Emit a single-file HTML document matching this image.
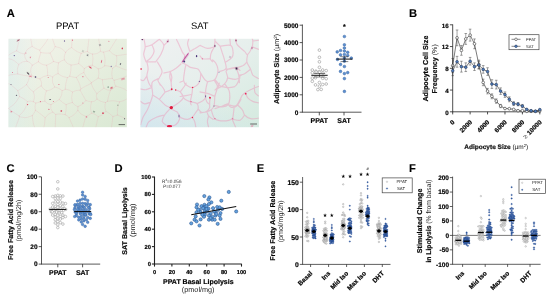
<!DOCTYPE html>
<html lang="en"><head><meta charset="utf-8"><title>Figure</title>
<style>html,body{margin:0;padding:0;background:#fff;}body{width:550px;height:302px;overflow:hidden;}svg{display:block;}</style>
</head><body>
<svg width="550" height="302" viewBox="0 0 550 302" font-family='"Liberation Sans", Arial, Helvetica, sans-serif' text-rendering="geometricPrecision">
<defs><filter id="blur" x="-5%" y="-5%" width="110%" height="110%"><feGaussianBlur stdDeviation="0.35"/></filter><filter id="blur3" x="-5%" y="-5%" width="110%" height="110%"><feGaussianBlur stdDeviation="0.5"/></filter><filter id="blur4" x="-5%" y="-5%" width="110%" height="110%"><feGaussianBlur stdDeviation="0.65"/></filter><filter id="blur5" x="-5%" y="-5%" width="110%" height="110%"><feGaussianBlur stdDeviation="0.55"/></filter><filter id="blur2" x="-50%" y="-50%" width="200%" height="200%"><feGaussianBlur stdDeviation="0.3"/></filter></defs>
<rect width="550" height="302" fill="#fff"/>
<text x="6.80" y="17.10" font-size="11.2" font-weight="700" fill="#000" stroke="#000" stroke-width="0.12">A</text>
<text x="409.10" y="16.60" font-size="11.2" font-weight="700" fill="#000" stroke="#000" stroke-width="0.12">B</text>
<text x="6.50" y="171.50" font-size="11.2" font-weight="700" fill="#000" stroke="#000" stroke-width="0.12">C</text>
<text x="114.60" y="171.80" font-size="11.2" font-weight="700" fill="#000" stroke="#000" stroke-width="0.12">D</text>
<text x="256.70" y="171.80" font-size="11.2" font-weight="700" fill="#000" stroke="#000" stroke-width="0.12">E</text>
<text x="408.90" y="171.80" font-size="11.2" font-weight="700" fill="#000" stroke="#000" stroke-width="0.12">F</text>
<text x="67.60" y="29.30" font-size="9.4" text-anchor="middle">PPAT</text>
<text x="199.70" y="29.30" font-size="9.4" text-anchor="middle">SAT</text>
<defs><linearGradient id="g1" x1="0" y1="0" x2="1" y2="1"><stop offset="0" stop-color="#f4f3eb"/><stop offset="0.45" stop-color="#e9efe1"/><stop offset="1" stop-color="#d9e8d3"/></linearGradient><linearGradient id="g1b" x1="0" y1="0" x2="1" y2="0"><stop offset="0" stop-color="#d8ecec" stop-opacity="0.55"/><stop offset="0.25" stop-color="#d8ecec" stop-opacity="0"/></linearGradient><clipPath id="c1"><rect x="8.5" y="38.8" width="118.3" height="88.4"/></clipPath></defs>
<rect x="8.5" y="38.8" width="118.3" height="88.4" fill="url(#g1)"/>
<rect x="8.5" y="38.8" width="118.3" height="88.4" fill="url(#g1b)"/>
<g clip-path="url(#c1)">
<path d="M-41.1 135.1C-36.2 137.9 -19.6 144.3 -11.4 151.7C-3.2 159.1 4.8 174.9 8.1 179.5M171.4 135.1C168.6 139.8 161.6 155.3 154.3 163.1C146.9 170.9 131.7 178.6 127.2 181.8M127.2 -13.2C127.6 -12.6 128.5 -11.1 129.2 -10.1C129.9 -9.2 131.2 -7.9 131.6 -7.5M170.1 30.9C167.6 27.0 161.5 13.8 155.1 7.4C148.7 1.0 135.6 -5.0 131.6 -7.5M76.3 77.5C76.8 77.0 78.5 75.4 79.7 74.6C81.0 73.7 83.1 72.8 83.8 72.5M84.3 68.6C84.3 68.9 84.2 69.9 84.1 70.6C84.0 71.2 83.8 72.2 83.8 72.5M84.3 68.6C83.9 68.2 82.6 66.8 81.7 66.0C80.7 65.1 79.2 64.0 78.7 63.6M78.7 63.6C78.1 63.8 76.2 64.4 74.9 64.6C73.6 64.9 71.6 64.9 71.0 65.0M76.3 77.5C75.7 77.4 74.0 77.3 72.9 77.0C71.8 76.8 70.2 76.3 69.7 76.1M71.0 65.0C71.0 65.9 71.1 68.8 70.8 70.6C70.6 72.5 69.9 75.2 69.7 76.1M-41.4 30.9C-37.5 26.9 -26.3 14.2 -18.1 6.6C-9.8 -0.9 3.7 -11.0 8.1 -14.5M-41.1 135.1C-39.6 132.9 -35.0 126.4 -32.3 121.8C-29.6 117.3 -26.1 110.1 -24.8 107.8M-41.4 30.9C-39.4 33.5 -33.0 41.0 -29.6 46.6C-26.1 52.1 -22.4 61.2 -20.9 64.2M-20.9 64.2C-20.6 65.3 -19.5 68.6 -18.9 70.9C-18.4 73.2 -17.9 76.7 -17.8 77.8M-17.8 77.8C-18.7 80.2 -22.1 87.3 -23.2 92.3C-24.4 97.3 -24.5 105.2 -24.8 107.8M100.6 51.2C100.0 51.6 98.2 53.1 96.9 53.6C95.5 54.1 93.3 54.0 92.5 54.1M100.6 51.2C100.0 47.6 98.4 36.5 97.0 29.2C95.6 21.9 92.8 11.1 92.0 7.4M92.0 7.4C91.6 7.5 90.4 7.7 89.6 8.0C88.9 8.3 87.9 9.0 87.5 9.1M87.5 9.1C87.8 12.7 89.4 23.3 89.4 30.4C89.4 37.5 87.7 48.1 87.4 51.6M92.5 54.1C92.1 54.0 90.6 53.6 89.8 53.2C88.9 52.8 87.8 51.9 87.4 51.6M109.4 50.7C111.9 46.1 121.0 32.9 124.7 23.2C128.5 13.5 130.5 -2.4 131.6 -7.5M127.2 -13.2C124.5 -11.1 116.8 -4.1 110.9 -0.7C105.0 2.8 95.1 6.1 92.0 7.4M103.6 52.2C103.3 52.2 102.5 52.1 102.0 52.0C101.5 51.8 100.8 51.4 100.6 51.2M103.6 52.2C104.1 52.1 105.5 51.6 106.5 51.4C107.4 51.1 108.9 50.8 109.4 50.7M92.3 65.2C92.4 64.3 92.9 61.5 92.9 59.7C93.0 57.8 92.6 55.0 92.5 54.1M84.3 68.6C84.9 68.2 86.7 66.7 88.0 66.2C89.3 65.6 91.6 65.4 92.3 65.2M78.7 63.6C78.9 62.7 79.1 60.1 79.5 58.4C79.9 56.7 80.9 54.2 81.2 53.3M81.2 53.3C81.7 53.2 83.2 52.5 84.2 52.2C85.2 51.9 86.9 51.7 87.4 51.6M109.4 50.7C109.9 51.2 111.4 53.0 112.6 53.8C113.8 54.6 115.9 55.4 116.6 55.8M170.1 30.9C169.9 31.3 169.3 32.7 168.8 33.6C168.4 34.5 167.6 35.8 167.4 36.2M116.6 55.8C121.1 54.8 135.2 53.6 143.7 50.3C152.1 47.0 163.4 38.5 167.4 36.2M154.3 95.0C154.1 93.0 152.7 87.0 152.9 83.0C153.0 79.0 154.8 73.1 155.2 71.1M154.3 95.0C155.9 98.1 161.1 107.1 163.8 113.4C166.5 119.8 169.2 129.8 170.3 133.1M171.4 135.1C171.4 134.9 171.1 134.4 170.9 134.1C170.8 133.7 170.4 133.3 170.3 133.1M155.2 71.1C156.8 68.4 162.5 60.6 164.5 54.8C166.5 49.0 166.9 39.3 167.4 36.2M92.3 65.2C92.8 65.5 94.3 66.4 95.4 67.0C96.4 67.6 97.8 68.6 98.3 68.9M103.6 52.2C103.8 53.3 104.8 56.7 105.0 58.9C105.2 61.2 104.7 64.6 104.7 65.8M104.7 65.8C104.2 66.1 102.8 67.4 101.8 67.9C100.7 68.4 98.9 68.7 98.3 68.9M80.1 90.2C80.6 91.0 82.0 93.6 82.9 95.4C83.9 97.1 85.4 99.6 85.9 100.5M72.6 92.1C73.2 91.8 75.0 90.9 76.2 90.6C77.5 90.2 79.5 90.2 80.1 90.2M72.6 92.1C72.4 92.9 71.8 95.6 71.7 97.3C71.7 99.0 72.3 101.7 72.4 102.5M72.4 102.5C72.8 102.9 74.0 104.4 74.9 105.1C75.8 105.7 77.5 106.4 78.0 106.7M85.9 100.5C85.3 101.1 83.7 103.2 82.4 104.2C81.1 105.2 78.7 106.3 78.0 106.7M66.1 104.7C66.1 105.5 66.3 108.1 66.1 109.7C66.0 111.4 65.3 113.9 65.1 114.7M69.1 117.7C68.8 117.4 68.0 116.4 67.3 115.9C66.7 115.4 65.5 114.9 65.1 114.7M72.4 102.5C71.9 102.7 70.3 103.0 69.2 103.4C68.2 103.7 66.6 104.5 66.1 104.7M69.1 117.7C69.9 117.2 72.6 115.9 74.0 114.7C75.5 113.4 77.2 111.1 77.9 110.3M77.9 110.3C77.9 110.0 77.8 109.1 77.8 108.5C77.8 107.9 78.0 107.0 78.0 106.7M80.1 90.2C80.2 90.0 80.3 89.7 80.4 89.5C80.5 89.2 80.8 89.0 80.9 88.9M76.3 77.5C76.7 78.4 78.4 81.1 79.1 83.0C79.9 84.9 80.6 87.9 80.9 88.9M72.6 92.1C72.0 91.8 70.3 90.6 69.1 90.1C67.9 89.6 65.9 89.3 65.3 89.2M69.7 76.1C69.5 76.2 69.0 76.7 68.6 77.0C68.2 77.2 67.6 77.5 67.4 77.6M65.3 89.2C65.4 88.2 65.6 85.2 65.9 83.3C66.3 81.4 67.1 78.6 67.4 77.6M29.8 76.2C29.6 76.9 28.9 79.1 28.4 80.5C27.9 81.9 26.9 83.9 26.6 84.6M29.8 76.2C28.8 76.0 25.8 75.7 23.7 75.3C21.7 74.9 18.7 74.2 17.7 73.9M26.6 84.6C25.9 85.1 23.8 86.8 22.3 87.8C20.9 88.9 18.6 90.2 17.8 90.7M17.7 73.9C16.1 74.2 11.1 74.4 8.2 75.5C5.2 76.6 1.4 79.7 -0.0 80.6M-0.0 80.6C1.6 81.2 6.8 82.5 9.7 84.2C12.7 85.9 16.5 89.6 17.8 90.7M18.8 64.5C19.4 64.0 21.2 62.4 22.6 61.9C24.0 61.4 26.3 61.4 27.1 61.3M32.2 65.3C31.9 64.9 30.9 63.4 30.1 62.7C29.2 62.1 27.6 61.5 27.1 61.3M18.8 64.5C18.6 65.2 17.6 67.5 17.4 69.1C17.2 70.7 17.7 73.1 17.7 73.9M32.2 65.3C32.0 66.1 30.8 68.5 30.7 70.1C30.6 71.7 31.3 74.2 31.4 75.1M31.4 75.1C31.3 75.2 30.9 75.5 30.7 75.7C30.4 75.8 30.0 76.1 29.8 76.2M18.8 64.5C17.8 63.7 14.9 60.9 12.6 59.8C10.3 58.8 6.3 58.4 5.1 58.2M-20.9 64.2C-18.7 64.1 -11.6 64.8 -7.3 63.8C-3.0 62.8 3.0 59.1 5.1 58.2M-17.8 77.8C-16.2 77.8 -11.7 77.6 -8.7 78.0C-5.7 78.5 -1.5 80.2 -0.0 80.6M65.1 114.7C64.3 114.6 62.0 114.0 60.4 114.0C58.9 113.9 56.5 114.3 55.7 114.4M76.7 153.1C76.6 150.0 77.0 140.7 75.8 134.8C74.5 128.9 70.2 120.6 69.1 117.7M76.7 153.1C74.9 153.1 69.3 153.0 65.6 153.4C61.9 153.8 56.5 155.1 54.7 155.5M55.7 114.4C55.6 117.8 55.2 128.1 55.0 134.9C54.8 141.8 54.7 152.0 54.7 155.5M116.6 55.8C116.6 56.6 116.9 59.2 116.8 60.9C116.7 62.6 116.1 65.1 115.9 65.9M155.2 71.1C153.6 71.2 148.6 71.8 145.4 71.7C142.1 71.7 137.2 71.0 135.5 70.8M135.5 70.8C133.8 70.6 128.7 70.5 125.4 69.7C122.1 68.8 117.5 66.5 115.9 65.9M104.7 65.8C105.4 65.8 107.6 65.8 108.9 66.2C110.3 66.6 112.1 67.9 112.7 68.3M115.9 65.9C115.6 66.1 114.8 66.6 114.2 67.0C113.7 67.4 112.9 68.1 112.7 68.3M135.5 70.8C133.8 71.8 128.9 75.1 125.4 76.7C121.8 78.3 116.1 79.7 114.2 80.3M112.7 68.3C112.5 69.1 111.8 71.6 111.8 73.3C111.7 74.9 112.3 77.4 112.4 78.3M114.2 80.3C114.0 80.2 113.4 79.8 113.1 79.5C112.8 79.2 112.5 78.5 112.4 78.3M131.5 95.1C130.3 94.1 127.2 90.6 124.6 89.2C122.0 87.7 117.4 86.7 115.9 86.2M154.3 95.0C152.4 94.8 146.7 94.0 142.9 94.0C139.1 94.0 133.4 94.9 131.5 95.1M114.2 80.3C114.3 80.9 114.2 82.5 114.5 83.4C114.7 84.4 115.7 85.7 115.9 86.2M76.7 153.1C76.8 153.1 77.1 153.2 77.2 153.2C77.4 153.3 77.7 153.2 77.7 153.2M77.9 110.3C78.4 111.0 79.9 113.1 81.2 114.1C82.6 115.0 85.0 115.9 85.8 116.3M85.8 116.3C85.0 119.3 82.4 128.4 81.1 134.6C79.7 140.8 78.3 150.1 77.7 153.2M71.0 65.0C70.3 64.7 68.2 64.1 67.1 63.2C66.0 62.3 64.8 60.4 64.4 59.8M64.4 59.8C63.9 60.0 62.3 60.5 61.3 61.0C60.4 61.6 59.1 62.6 58.6 62.9M67.4 77.6C66.6 77.4 64.0 77.0 62.4 76.3C60.9 75.7 58.8 74.1 58.1 73.6M58.1 73.6C58.1 72.7 57.8 70.0 57.9 68.2C57.9 66.5 58.5 63.8 58.6 62.9M46.6 65.2C47.2 64.9 49.1 64.2 50.2 63.6C51.4 63.0 53.0 61.9 53.6 61.5M53.6 61.5C53.3 60.8 52.5 58.7 51.9 57.3C51.3 55.9 50.4 53.8 50.1 53.1M38.4 61.7C38.6 60.9 39.0 58.6 39.4 57.1C39.9 55.6 40.6 53.3 40.8 52.6M38.4 61.7C39.0 62.1 40.8 63.7 42.2 64.3C43.5 64.9 45.9 65.0 46.6 65.2M40.8 52.6C41.6 52.7 43.9 53.0 45.5 53.1C47.0 53.2 49.3 53.1 50.1 53.1M66.1 104.7C65.5 104.3 63.7 103.2 62.5 102.3C61.4 101.5 59.9 99.9 59.3 99.5M65.3 89.2C65.0 89.3 64.3 89.8 63.8 90.1C63.3 90.3 62.4 90.5 62.1 90.6M59.3 99.5C59.7 98.8 61.0 96.7 61.5 95.3C62.0 93.8 62.0 91.4 62.1 90.6M32.2 65.3C32.7 65.0 34.3 64.1 35.3 63.5C36.3 62.9 37.9 62.0 38.4 61.7M31.4 75.1C32.1 75.5 34.0 76.9 35.4 77.6C36.8 78.2 39.2 78.7 39.9 78.9M46.6 65.2C46.8 66.0 47.3 68.6 47.5 70.3C47.6 72.0 47.5 74.6 47.6 75.5M39.9 78.9C40.5 78.5 42.2 77.2 43.5 76.6C44.8 76.1 46.9 75.7 47.6 75.5M58.6 62.9C58.2 62.8 57.0 62.4 56.1 62.2C55.3 62.0 54.0 61.7 53.6 61.5M58.1 73.6C57.6 73.8 56.0 74.3 55.1 74.9C54.2 75.4 53.0 76.6 52.6 77.0M47.6 75.5C48.0 75.5 49.3 75.6 50.2 75.8C51.0 76.1 52.2 76.8 52.6 77.0M62.1 90.6C61.5 90.2 59.9 88.9 58.7 88.3C57.4 87.7 55.4 87.2 54.7 87.0M52.6 77.0C52.6 77.9 52.3 80.5 52.6 82.2C53.0 83.9 54.4 86.2 54.7 87.0M16.6 50.8C17.3 51.2 19.1 52.5 20.4 53.0C21.8 53.5 24.0 53.8 24.7 54.0M16.6 50.8C17.5 46.2 21.6 32.1 21.8 22.7C22.1 13.3 18.9 -0.9 18.3 -5.6M24.7 54.0C25.2 53.2 26.3 50.6 27.5 49.4C28.8 48.1 31.3 47.0 32.1 46.5M32.1 46.5C31.3 42.1 29.4 29.0 27.3 20.4C25.2 11.8 20.7 -0.7 19.4 -4.9M19.4 -4.9C19.3 -5.0 19.1 -5.2 18.9 -5.4C18.7 -5.5 18.4 -5.6 18.3 -5.6M27.1 61.3C26.8 60.7 25.5 59.1 25.1 57.9C24.7 56.7 24.8 54.7 24.7 54.0M5.1 58.2C6.0 57.4 8.5 55.1 10.4 53.9C12.4 52.6 15.6 51.3 16.6 50.8M8.1 -14.5C9.0 -13.9 12.0 -12.1 13.7 -10.6C15.4 -9.1 17.5 -6.4 18.3 -5.6M39.7 50.2C39.8 50.4 40.0 51.0 40.2 51.4C40.4 51.8 40.7 52.4 40.8 52.6M39.7 50.2C39.0 49.9 37.1 49.1 35.8 48.5C34.6 47.9 32.7 46.8 32.1 46.5M59.3 99.5C58.6 99.9 56.6 101.2 55.2 102.1C53.8 103.0 51.7 104.2 51.0 104.6M55.7 114.4C55.5 114.2 54.9 113.4 54.3 113.1C53.8 112.7 53.0 112.3 52.7 112.1M52.7 112.1C52.4 111.6 51.2 109.8 50.9 108.6C50.6 107.3 51.0 105.3 51.0 104.6M38.9 159.6C38.5 157.5 36.4 151.3 36.5 147.2C36.6 143.1 38.9 137.0 39.4 135.0M38.9 159.6C37.1 161.1 32.2 166.4 28.2 168.8C24.2 171.1 17.1 172.9 14.9 173.7M39.4 135.0C38.5 133.5 35.3 129.2 34.1 125.9C32.9 122.7 32.6 117.3 32.3 115.6M14.9 173.7C14.3 168.9 10.5 154.2 11.3 144.7C12.1 135.2 18.1 121.4 19.5 116.7M19.5 116.7C20.6 116.9 23.9 117.8 26.0 117.6C28.1 117.4 31.2 115.9 32.3 115.6M52.7 112.1C52.0 112.5 49.7 113.4 48.4 114.3C47.1 115.3 45.6 117.2 45.1 117.8M45.1 117.8C44.9 119.3 44.9 124.1 43.9 126.9C43.0 129.8 40.1 133.6 39.4 135.0M54.7 155.5C53.4 155.8 49.4 156.8 46.8 157.5C44.2 158.2 40.2 159.2 38.9 159.6M103.5 163.0C103.2 162.9 102.5 162.7 102.1 162.4C101.7 162.2 101.1 161.7 100.9 161.6M127.2 181.8C125.1 180.4 118.5 176.6 114.5 173.4C110.6 170.3 105.3 164.8 103.5 163.0M8.1 179.5C8.6 179.0 10.1 177.3 11.3 176.4C12.4 175.4 14.3 174.1 14.9 173.7M77.7 153.2C79.6 154.1 85.2 156.8 89.0 158.2C92.9 159.6 98.9 161.0 100.9 161.6M45.1 117.8C44.3 117.1 42.0 115.1 40.4 113.9C38.9 112.6 36.4 110.9 35.5 110.3M35.5 110.3C35.3 110.8 34.6 112.2 34.1 113.1C33.5 113.9 32.6 115.2 32.3 115.6M19.5 96.5C18.7 97.6 16.7 101.3 14.9 103.3C13.0 105.3 9.5 107.6 8.5 108.5M19.5 96.5C20.2 96.9 22.3 97.9 23.7 98.7C25.0 99.6 26.8 101.1 27.4 101.6M27.4 101.6C27.0 103.0 26.0 107.2 24.6 109.5C23.2 111.9 20.0 114.9 19.1 115.9M8.5 108.5C9.3 109.1 11.9 111.1 13.7 112.4C15.5 113.6 18.2 115.3 19.1 115.9M-24.8 107.8C-22.0 108.1 -13.8 109.7 -8.2 109.9C-2.7 110.0 5.7 108.7 8.5 108.5M17.8 90.7C18.0 91.2 18.5 92.6 18.8 93.5C19.1 94.5 19.3 96.0 19.5 96.5M19.5 116.7C19.5 116.7 19.3 116.5 19.2 116.4C19.2 116.2 19.2 116.0 19.1 115.9M131.5 95.1C130.6 95.8 128.0 98.3 126.1 99.4C124.1 100.6 120.7 101.5 119.6 101.9M115.9 86.2C115.5 86.6 114.2 87.7 113.3 88.4C112.4 89.1 110.9 90.0 110.5 90.3M110.5 90.3C110.2 91.2 109.2 93.9 108.7 95.7C108.2 97.6 107.7 100.4 107.5 101.3M119.6 101.9C118.6 101.7 115.6 100.9 113.6 100.8C111.6 100.7 108.5 101.2 107.5 101.3M170.3 133.1C165.8 131.9 152.2 128.6 143.4 125.6C134.5 122.6 121.8 116.8 117.4 115.0M119.6 101.9C119.3 103.0 117.9 106.1 117.6 108.3C117.2 110.5 117.5 113.9 117.4 115.0M103.5 163.0C104.5 159.2 108.0 147.8 109.5 140.1C111.1 132.3 112.3 120.5 112.9 116.5M117.4 115.0C117.1 115.2 115.9 115.6 115.2 115.9C114.4 116.1 113.2 116.4 112.9 116.5M98.2 78.1C98.6 78.3 99.7 78.6 100.4 78.8C101.1 79.1 102.1 79.7 102.4 79.8M98.2 78.1C97.7 78.5 96.0 79.6 94.8 80.4C93.7 81.1 92.0 82.3 91.4 82.6M102.4 79.8C102.5 80.5 102.6 82.7 102.8 84.0C103.1 85.4 103.8 87.4 104.0 88.1M91.4 82.6C91.4 82.7 91.3 82.9 91.3 83.1C91.2 83.2 91.1 83.4 91.1 83.5M91.1 83.5C91.5 84.3 92.6 87.1 93.5 88.8C94.5 90.5 96.3 92.8 96.9 93.6M96.9 93.6C97.5 93.1 99.2 91.7 100.4 90.8C101.6 89.9 103.4 88.5 104.0 88.1M98.3 68.9C98.4 69.7 98.9 72.0 98.9 73.5C98.8 75.1 98.3 77.4 98.2 78.1M112.4 78.3C111.6 78.4 109.1 78.7 107.4 79.0C105.7 79.2 103.3 79.7 102.4 79.8M83.8 72.5C84.3 73.4 85.8 76.2 87.1 77.9C88.4 79.6 90.7 81.9 91.4 82.6M110.5 90.3C109.9 90.2 108.1 90.2 107.0 89.9C105.9 89.5 104.5 88.4 104.0 88.1M80.9 88.9C81.7 88.4 84.2 86.9 85.9 86.0C87.6 85.1 90.2 83.9 91.1 83.5M71.7 47.6C71.8 44.6 72.0 35.6 72.6 29.7C73.1 23.7 74.4 14.8 74.8 11.8M71.7 47.6C71.1 47.9 69.2 48.7 68.2 49.5C67.2 50.2 66.1 51.9 65.7 52.4M65.7 52.4C64.9 51.7 62.8 49.4 61.1 48.4C59.3 47.4 56.2 46.9 55.2 46.6M55.2 46.6C54.8 45.4 53.5 42.0 52.8 39.6C52.2 37.3 51.5 33.7 51.3 32.5M51.3 32.5C51.7 30.6 53.8 25.1 54.0 21.3C54.2 17.6 52.7 11.9 52.4 10.0M52.4 10.0C54.3 10.4 59.7 12.2 63.5 12.5C67.2 12.8 72.9 11.9 74.8 11.8M81.2 53.3C80.3 53.0 77.7 52.0 76.1 51.0C74.5 50.1 72.4 48.2 71.7 47.6M87.5 9.1C86.5 9.4 83.3 10.1 81.2 10.6C79.0 11.0 75.8 11.6 74.8 11.8M64.4 59.8C64.4 59.2 64.1 57.2 64.3 56.0C64.6 54.7 65.4 53.0 65.7 52.4M50.1 53.1C50.6 52.6 52.3 51.3 53.1 50.2C54.0 49.1 54.9 47.2 55.2 46.6M39.7 50.2C40.7 48.8 44.2 44.7 46.2 41.8C48.1 38.8 50.4 34.0 51.3 32.5M19.4 -4.9C21.9 -3.2 29.0 3.1 34.5 5.6C40.0 8.1 49.4 9.3 52.4 10.0M41.3 85.9C41.7 86.4 42.7 87.9 43.5 88.7C44.3 89.5 45.9 90.5 46.4 90.9M41.3 85.9C40.6 86.3 38.5 87.5 37.2 88.5C35.8 89.5 34.1 91.2 33.5 91.8M46.4 90.9C46.1 91.7 45.3 94.2 45.0 95.9C44.8 97.6 44.9 100.3 44.9 101.1M44.9 101.1C44.1 101.3 41.8 101.6 40.3 102.0C38.8 102.3 36.6 102.9 35.8 103.1M33.5 91.8C33.6 92.6 34.4 95.1 34.4 96.7C34.4 98.4 33.6 100.8 33.4 101.7M33.4 101.7C33.6 101.8 34.2 102.2 34.6 102.4C35.0 102.7 35.6 103.0 35.8 103.1M39.9 78.9C40.2 79.5 41.2 81.1 41.5 82.2C41.7 83.4 41.4 85.3 41.3 85.9M54.7 87.0C54.1 87.4 52.3 89.0 50.9 89.6C49.5 90.3 47.1 90.7 46.4 90.9M26.6 84.6C27.1 85.3 28.4 87.4 29.6 88.6C30.7 89.8 32.8 91.2 33.5 91.8M51.0 104.6C50.4 104.4 48.6 104.1 47.5 103.5C46.5 103.0 45.3 101.5 44.9 101.1M35.5 110.3C35.4 109.7 34.9 107.9 35.0 106.7C35.0 105.5 35.7 103.7 35.8 103.1M27.4 101.6C27.9 101.5 29.4 101.1 30.4 101.1C31.4 101.1 32.9 101.6 33.4 101.7M105.5 102.5C105.4 103.3 104.8 105.5 104.9 107.0C105.0 108.4 105.8 110.6 105.9 111.4M105.5 102.5C104.7 102.3 102.4 102.0 101.0 101.4C99.6 100.8 97.7 99.4 97.0 99.0M97.0 99.0C96.6 99.4 95.5 100.6 94.6 101.1C93.7 101.5 92.1 101.7 91.6 101.8M91.6 101.8C91.4 102.8 90.6 105.6 90.6 107.5C90.5 109.4 91.3 112.2 91.4 113.2M105.9 111.4C105.4 111.9 103.9 113.8 102.6 114.7C101.3 115.6 99.0 116.4 98.2 116.7M98.2 116.7C97.7 116.3 96.3 115.0 95.1 114.4C94.0 113.8 92.0 113.4 91.4 113.2M112.9 116.5C112.3 116.1 110.8 114.5 109.6 113.7C108.5 112.8 106.5 111.7 105.9 111.4M107.5 101.3C107.3 101.4 106.8 101.6 106.4 101.8C106.1 102.0 105.6 102.4 105.5 102.5M96.9 93.6C96.8 94.0 96.3 95.4 96.3 96.3C96.4 97.2 96.9 98.6 97.0 99.0M85.9 100.5C86.4 100.6 87.8 101.1 88.7 101.3C89.7 101.5 91.1 101.8 91.6 101.8M85.8 116.3C86.3 116.1 87.9 115.6 88.8 115.1C89.7 114.6 91.0 113.5 91.4 113.2M100.9 161.6C99.8 157.9 95.0 146.9 94.6 139.4C94.1 132.0 97.6 120.5 98.2 116.7" fill="none" stroke="#e89aac" stroke-width="0.95" stroke-opacity="0.2" stroke-linecap="round" stroke-linejoin="round" filter="url(#blur4)"/>
<ellipse cx="72.5" cy="40.2" rx="0.6" ry="0.6" fill="#e0708a" transform="rotate(0 72.5 40.2)" filter="url(#blur2)"/>
<ellipse cx="100.0" cy="45.1" rx="0.5" ry="1.0" fill="#4a4658" transform="rotate(-30 100.0 45.1)" filter="url(#blur2)"/>
<ellipse cx="82.9" cy="51.1" rx="0.7" ry="0.5" fill="#777" transform="rotate(30 82.9 51.1)" filter="url(#blur2)"/>
<ellipse cx="87.6" cy="55.1" rx="0.9" ry="0.6" fill="#4a4658" transform="rotate(30 87.6 55.1)" filter="url(#blur2)"/>
<ellipse cx="122.3" cy="48.4" rx="0.7" ry="0.9" fill="#d83a58" transform="rotate(0 122.3 48.4)" filter="url(#blur2)"/>
<ellipse cx="101.5" cy="61.5" rx="0.5" ry="1.7" fill="#e0708a" transform="rotate(10 101.5 61.5)" filter="url(#blur2)"/>
<ellipse cx="90.3" cy="67.3" rx="1.8" ry="0.6" fill="#d83a58" transform="rotate(35 90.3 67.3)" filter="url(#blur2)"/>
<ellipse cx="111.2" cy="66.3" rx="0.6" ry="0.6" fill="#6a5a94" transform="rotate(0 111.2 66.3)" filter="url(#blur2)"/>
<ellipse cx="120.4" cy="64.0" rx="0.5" ry="1.0" fill="#4a4658" transform="rotate(15 120.4 64.0)" filter="url(#blur2)"/>
<ellipse cx="123.0" cy="78.9" rx="2.2" ry="0.6" fill="#e0708a" transform="rotate(-15 123.0 78.9)" filter="url(#blur2)"/>
<ellipse cx="82.9" cy="76.7" rx="0.6" ry="0.6" fill="#e0708a" transform="rotate(0 82.9 76.7)" filter="url(#blur2)"/>
<ellipse cx="108.9" cy="41.3" rx="0.5" ry="0.5" fill="#e0708a" transform="rotate(0 108.9 41.3)" filter="url(#blur2)"/>
<ellipse cx="108.2" cy="87.0" rx="0.8" ry="0.6" fill="#5a7a6a" transform="rotate(0 108.2 87.0)" filter="url(#blur2)"/>
<ellipse cx="111.5" cy="87.9" rx="1.5" ry="0.6" fill="#d83a58" transform="rotate(-30 111.5 87.9)" filter="url(#blur2)"/>
<ellipse cx="94.0" cy="111.7" rx="0.9" ry="0.5" fill="#3e5a4e" transform="rotate(30 94.0 111.7)" filter="url(#blur2)"/>
<ellipse cx="103.0" cy="113.2" rx="0.8" ry="0.9" fill="#d83a58" transform="rotate(0 103.0 113.2)" filter="url(#blur2)"/>
<ellipse cx="86.6" cy="116.9" rx="0.7" ry="0.7" fill="#e0708a" transform="rotate(0 86.6 116.9)" filter="url(#blur2)"/>
<ellipse cx="124.5" cy="118.7" rx="0.4" ry="0.8" fill="#4a4658" transform="rotate(0 124.5 118.7)" filter="url(#blur2)"/>
<ellipse cx="117.9" cy="105.3" rx="0.5" ry="0.7" fill="#8a9a8a" transform="rotate(0 117.9 105.3)" filter="url(#blur2)"/>
<ellipse cx="82.9" cy="103.1" rx="0.5" ry="0.5" fill="#e0708a" transform="rotate(0 82.9 103.1)" filter="url(#blur2)"/>
<ellipse cx="18.1" cy="40.2" rx="1.6" ry="0.55" fill="#8a2848" transform="rotate(-35 18.1 40.2)" filter="url(#blur2)"/>
<ellipse cx="64.5" cy="41.0" rx="0.6" ry="0.8" fill="#6a5a94" transform="rotate(0 64.5 41.0)" filter="url(#blur2)"/>
<ellipse cx="14.3" cy="55.6" rx="0.7" ry="0.7" fill="#6a5a94" transform="rotate(0 14.3 55.6)" filter="url(#blur2)"/>
<ellipse cx="25.9" cy="52.9" rx="0.5" ry="0.5" fill="#e0708a" transform="rotate(0 25.9 52.9)" filter="url(#blur2)"/>
<ellipse cx="30.3" cy="57.3" rx="0.5" ry="0.9" fill="#e0708a" transform="rotate(20 30.3 57.3)" filter="url(#blur2)"/>
<ellipse cx="28.1" cy="73.4" rx="1.6" ry="0.6" fill="#3a2a3a" transform="rotate(50 28.1 73.4)" filter="url(#blur2)"/>
<ellipse cx="30.6" cy="76.2" rx="1.6" ry="0.5" fill="#e0708a" transform="rotate(20 30.6 76.2)" filter="url(#blur2)"/>
<ellipse cx="35.5" cy="77.0" rx="0.8" ry="0.7" fill="#3a3060" transform="rotate(0 35.5 77.0)" filter="url(#blur2)"/>
<ellipse cx="12.5" cy="72.5" rx="0.5" ry="0.5" fill="#e0708a" transform="rotate(0 12.5 72.5)" filter="url(#blur2)"/>
<ellipse cx="48.2" cy="77.4" rx="0.5" ry="0.5" fill="#e0708a" transform="rotate(0 48.2 77.4)" filter="url(#blur2)"/>
<ellipse cx="11.0" cy="84.5" rx="0.6" ry="0.5" fill="#778" transform="rotate(0 11.0 84.5)" filter="url(#blur2)"/>
<ellipse cx="58.9" cy="84.5" rx="0.6" ry="0.6" fill="#e0708a" transform="rotate(0 58.9 84.5)" filter="url(#blur2)"/>
<ellipse cx="16.5" cy="95.2" rx="0.7" ry="0.5" fill="#4a4658" transform="rotate(0 16.5 95.2)" filter="url(#blur2)"/>
<ellipse cx="50.1" cy="99.4" rx="0.8" ry="0.5" fill="#4a4658" transform="rotate(0 50.1 99.4)" filter="url(#blur2)"/>
<ellipse cx="40.4" cy="101.6" rx="0.6" ry="0.6" fill="#e0708a" transform="rotate(0 40.4 101.6)" filter="url(#blur2)"/>
<ellipse cx="27.6" cy="104.6" rx="0.6" ry="0.7" fill="#d83a58" transform="rotate(0 27.6 104.6)" filter="url(#blur2)"/>
<ellipse cx="48.9" cy="109.3" rx="0.7" ry="0.6" fill="#e0708a" transform="rotate(0 48.9 109.3)" filter="url(#blur2)"/>
<ellipse cx="61.3" cy="111.0" rx="0.9" ry="0.8" fill="#d83a58" transform="rotate(0 61.3 111.0)" filter="url(#blur2)"/>
<ellipse cx="11.3" cy="111.7" rx="0.9" ry="0.6" fill="#e0708a" transform="rotate(30 11.3 111.7)" filter="url(#blur2)"/>
<ellipse cx="53.4" cy="101.6" rx="0.5" ry="0.5" fill="#e0708a" transform="rotate(0 53.4 101.6)" filter="url(#blur2)"/>
</g>
<line x1="118.60" y1="124.60" x2="125.00" y2="124.60" stroke="#333" stroke-width="0.7"/>
<defs><linearGradient id="g2" x1="0" y1="0" x2="1" y2="1"><stop offset="0" stop-color="#f0f1f2"/><stop offset="0.5" stop-color="#e6efec"/><stop offset="1" stop-color="#d4eadf"/></linearGradient><linearGradient id="g2b" x1="0" y1="1" x2="0.6" y2="0"><stop offset="0" stop-color="#cfe4ee" stop-opacity="0.8"/><stop offset="0.5" stop-color="#cfe4ee" stop-opacity="0"/></linearGradient><clipPath id="c2"><rect x="140.5" y="38.8" width="118.39999999999998" height="88.4"/></clipPath></defs>
<rect x="140.5" y="38.8" width="118.39999999999998" height="88.4" fill="url(#g2)"/>
<rect x="140.5" y="38.8" width="118.39999999999998" height="88.4" fill="url(#g2b)"/>
<g clip-path="url(#c2)">
<path d="M159.3 39.2C160.1 40.2 163.6 42.9 163.8 45.4C164.1 48.0 162.2 51.6 160.8 54.4C159.5 57.1 156.5 60.6 155.6 61.8M168.3 39.5C168.0 40.0 167.5 41.5 166.8 42.5C166.0 43.5 164.3 44.9 163.8 45.4M176.5 39.5C177.0 40.5 178.4 43.3 179.4 45.4C180.4 47.5 181.5 50.5 182.4 52.1C183.3 53.7 184.3 54.6 184.6 55.1M180.9 64.0C180.1 64.8 177.5 67.3 175.7 68.5C174.0 69.7 172.5 70.7 170.5 71.5C168.5 72.2 164.9 72.7 163.8 73.0M170.5 71.5C170.4 72.4 169.6 74.8 169.8 76.7C169.9 78.6 171.0 81.7 171.2 82.6M189.9 51.4C190.7 50.9 193.4 49.4 195.1 48.4C196.7 47.4 199.2 45.9 200.0 45.4M143.7 38.0C144.0 39.5 145.2 44.2 145.2 46.9C145.2 49.7 143.6 51.9 143.7 54.4C143.8 56.8 145.6 60.6 146.0 61.8M145.2 46.9C146.3 46.6 149.5 46.0 151.9 44.7C154.3 43.4 158.1 40.1 159.3 39.2M151.9 44.7C152.3 45.8 154.3 49.3 154.1 51.4C154.0 53.5 152.5 55.6 151.2 57.3C149.8 59.1 146.8 61.1 146.0 61.8M146.0 61.8L155.6 61.8M184.6 55.1L184.6 57.3M189.9 51.4C189.5 50.2 187.7 46.2 187.6 44.0C187.5 41.7 188.9 39.0 189.1 38.0M214.9 38.0C214.9 38.5 215.0 39.5 214.9 41.0C214.8 42.5 214.8 44.9 214.1 46.9C213.5 48.9 211.8 50.9 211.2 52.9C210.5 54.9 210.2 57.3 210.4 58.8C210.7 60.3 212.3 61.3 212.6 61.8M220.1 46.2C220.5 47.3 221.6 50.5 222.3 52.9C223.1 55.2 223.9 57.7 224.6 60.3C225.2 62.9 226.9 66.6 226.0 68.5C225.2 70.4 220.5 71.0 219.3 71.5M235.7 38.0C236.0 39.1 235.7 42.5 237.2 44.7C238.7 46.9 242.9 49.8 244.6 51.4C246.4 53.0 246.4 55.1 247.6 54.4C248.9 53.6 251.2 49.2 252.1 46.9C253.0 44.7 252.8 42.5 252.8 41.0C252.8 39.5 252.2 38.5 252.1 38.0M247.6 54.4C247.5 55.6 246.4 59.3 246.9 61.8C247.4 64.3 249.6 67.0 250.6 69.2C251.6 71.5 251.6 73.7 252.8 75.2C254.1 76.7 256.7 77.6 258.0 78.2C259.4 78.8 260.5 78.8 261.0 78.9M226.0 69.2C227.8 69.0 233.6 68.4 236.5 67.8C239.3 67.1 241.4 66.5 243.2 65.5C244.9 64.5 246.3 62.4 246.9 61.8M220.1 46.2C221.8 46.1 228.3 44.6 230.5 45.4C232.7 46.3 232.8 49.4 233.0 51.4C233.3 53.4 233.2 55.6 232.0 57.3C230.8 59.1 227.0 61.1 226.0 61.8M236.5 68.5C236.8 69.6 238.2 72.8 238.7 75.2C239.2 77.6 239.3 81.4 239.4 82.6M250.6 69.2C249.6 70.0 246.5 72.7 244.6 73.7C242.8 74.7 240.3 75.0 239.4 75.2M200.0 55.9C200.5 56.4 201.2 58.3 203.0 58.8C204.7 59.3 209.2 58.8 210.4 58.8M252.8 41.0L260.0 40.2M252.1 46.9L260.0 49.9M214.9 41.0L220.1 46.2M200.0 45.4C201.2 45.9 205.1 48.2 207.4 48.4C209.8 48.7 213.0 47.2 214.1 46.9M230.5 45.4L229.8 38.0M151.9 83.0C151.9 83.7 151.8 85.5 151.9 87.5C152.0 89.4 152.9 92.4 152.6 94.9C152.4 97.4 151.3 99.9 150.4 102.3C149.5 104.8 148.7 107.3 147.4 109.8C146.2 112.3 144.1 114.7 143.0 117.2C141.9 119.7 141.1 123.4 140.7 124.7M152.6 94.9C153.8 95.6 157.2 97.6 159.3 99.4C161.5 101.1 163.4 104.0 165.3 105.3C167.2 106.7 169.6 107.2 170.5 107.6M159.3 83.0C160.1 84.0 162.8 87.5 163.8 89.0C164.8 90.4 164.1 91.8 165.3 91.9C166.5 92.1 170.3 90.1 171.2 89.7M165.3 91.9L159.3 99.4M171.2 107.6C172.2 106.9 175.2 105.4 177.2 103.8C179.2 102.2 182.7 99.9 183.2 97.9C183.7 95.9 181.4 93.2 180.2 91.9C178.9 90.6 176.5 90.3 175.7 90.0M171.2 107.6C170.1 108.8 166.0 112.6 164.6 115.0C163.1 117.4 161.8 119.8 162.3 121.7C162.8 123.6 166.7 125.4 167.5 126.2M164.6 115.0C163.2 115.4 159.0 116.1 156.4 117.2C153.8 118.3 150.7 120.0 148.9 121.7C147.2 123.4 146.4 126.7 146.0 127.6M177.2 112.0C177.5 112.5 178.6 113.8 179.0 115.0C179.4 116.2 180.0 117.8 179.4 119.5C178.9 121.1 177.2 123.6 175.7 124.7C174.2 125.8 171.4 125.9 170.5 126.2M171.2 109.0L177.2 112.0M140.0 100.9C140.7 101.4 142.7 103.6 144.5 103.8C146.2 104.1 149.4 102.6 150.4 102.3M180.2 91.9C180.9 90.9 183.7 87.5 184.6 86.0C185.6 84.5 185.9 83.5 186.1 83.0M140.0 89.0C141.0 89.1 144.0 89.9 146.0 89.7C147.9 89.4 150.9 87.8 151.9 87.5M219.3 83.0C219.0 84.0 217.9 86.7 217.1 89.0C216.4 91.2 215.4 93.7 214.9 96.4C214.4 99.1 214.8 103.1 214.1 105.3C213.5 107.6 212.5 108.7 211.2 109.8C209.8 110.9 207.8 111.5 206.0 112.0C204.1 112.5 201.0 112.6 200.0 112.8M224.6 83.7C225.3 84.9 228.1 88.1 229.0 90.4C229.9 92.8 229.9 95.5 229.8 97.9C229.6 100.2 229.5 103.1 228.3 104.6C227.0 106.1 224.7 106.7 222.3 106.8C220.0 106.9 215.5 105.6 214.1 105.3M228.3 104.6C229.3 104.8 232.7 106.1 234.2 106.1C235.7 106.1 236.2 105.7 237.2 104.6C238.2 103.5 239.2 101.1 240.2 99.4C241.2 97.6 241.2 95.9 243.2 94.2C245.1 92.4 249.3 90.3 252.1 89.0C254.9 87.6 258.7 86.5 260.0 86.0M234.2 106.1C234.1 107.2 233.9 110.7 233.5 112.8C233.1 114.9 233.6 117.4 232.0 118.7C230.4 120.1 226.7 120.9 223.8 120.9C221.0 120.9 217.0 120.6 214.9 118.7C212.8 116.9 211.8 111.3 211.2 109.8M237.2 104.6C238.1 105.4 241.2 108.0 242.4 109.8C243.7 111.5 243.3 113.5 244.6 115.0C246.0 116.5 248.0 118.2 250.6 118.7C253.1 119.2 258.4 118.1 260.0 118.0M232.0 118.7L235.7 127.6M244.6 115.0C243.9 115.9 242.0 119.5 240.2 120.2C238.3 120.9 234.6 119.6 233.5 119.5M200.0 91.9C201.2 92.2 205.0 92.7 207.4 93.4C209.9 94.2 213.6 95.9 214.9 96.4M182.2 63.0C182.9 63.2 184.6 63.7 186.0 64.5C187.3 65.2 188.4 66.7 190.4 67.4C192.4 68.2 196.1 67.9 197.9 68.9C199.6 69.9 199.7 71.7 200.8 73.4C201.9 75.1 203.4 78.0 204.6 79.3C205.7 80.7 207.0 81.2 207.5 81.6M207.5 81.6C208.6 81.3 212.6 81.2 214.2 80.1C215.8 79.0 216.6 76.7 217.2 74.9C217.8 73.0 218.2 70.9 217.9 68.9C217.7 66.9 216.6 64.5 215.7 63.0C214.8 61.5 213.2 60.5 212.7 60.0M207.5 81.6C207.3 82.7 206.4 85.9 206.0 88.3C205.7 90.6 205.2 93.5 205.3 95.7C205.4 97.9 206.0 100.2 206.8 101.7C207.5 103.2 209.3 104.1 209.8 104.6M214.2 80.1C214.7 81.0 216.6 83.9 217.2 85.3C217.8 86.7 216.7 88.5 217.9 88.3C219.2 88.0 223.0 85.5 224.6 83.8C226.3 82.1 227.4 80.0 227.6 77.9C227.9 75.7 225.9 72.6 226.1 71.2C226.4 69.7 227.5 69.5 229.1 68.9C230.7 68.3 234.0 67.2 235.8 67.4C237.6 67.7 239.3 69.9 240.0 70.4M186.0 64.5C185.7 65.7 184.8 69.2 184.5 71.9C184.1 74.6 183.3 78.6 183.7 80.8C184.1 83.1 185.2 84.2 186.7 85.3C188.2 86.4 190.5 88.0 192.6 87.5C194.8 87.0 198.0 84.7 199.3 82.3C200.7 80.0 200.6 74.9 200.8 73.4M192.6 87.5C192.5 88.6 192.3 91.9 191.9 94.2C191.5 96.6 190.5 99.9 190.4 101.7C190.3 103.5 191.0 104.4 191.2 104.9M180.0 82.3L183.7 80.8M180.0 96.5C181.0 96.3 184.0 96.1 186.0 95.7C187.9 95.3 190.9 94.5 191.9 94.2M227.6 77.9C228.9 78.1 233.0 79.3 235.1 79.3C237.1 79.3 239.2 78.1 240.0 77.9M215.0 79.6C215.8 80.6 218.5 84.3 219.6 85.4C220.8 86.6 220.6 86.2 221.9 86.6C223.3 87.0 226.8 87.5 227.7 87.7M227.7 87.7C228.9 87.5 232.9 87.5 234.7 86.6C236.4 85.6 237.3 83.7 238.1 81.9C239.0 80.2 239.3 77.3 239.9 76.2C240.5 75.0 241.3 75.2 241.6 75.0M245.7 93.5C246.1 94.3 246.7 96.8 248.0 98.1C249.2 99.5 251.5 100.8 253.2 101.6C254.9 102.4 257.5 102.6 258.4 102.8M254.4 85.4C254.4 86.6 254.3 90.6 254.9 92.4C255.6 94.1 257.8 95.3 258.4 95.8M215.0 90.0C215.4 89.7 216.5 88.5 217.3 87.7C218.1 87.0 219.2 85.8 219.6 85.4M227.7 103.9C226.8 104.3 224.1 105.5 221.9 106.2C219.8 107.0 216.2 108.2 215.0 108.6M227.7 103.9C228.3 104.5 229.7 107.1 231.2 107.4C232.7 107.7 235.4 107.0 237.0 105.7C238.6 104.3 240.4 100.4 241.0 99.3M157.4 62.0C157.9 63.0 160.1 66.1 160.8 67.8C161.6 69.5 162.3 70.7 162.0 72.4C161.7 74.2 159.8 76.9 159.1 78.2C158.4 79.6 157.7 79.4 157.9 80.5C158.1 81.7 159.9 84.4 160.3 85.1M170.1 71.3C170.4 72.2 171.6 75.1 171.8 77.0C172.0 79.0 171.2 80.8 171.2 82.8C171.2 84.9 171.7 88.1 171.8 89.2M159.1 78.2C158.0 78.8 154.0 80.3 152.7 81.7C151.5 83.0 151.8 85.5 151.6 86.3M146.9 62.0C147.1 63.2 148.1 66.6 148.1 68.9C148.1 71.3 146.8 73.6 146.9 75.9C147.0 78.2 147.9 80.9 148.7 82.8C149.5 84.8 151.1 86.7 151.6 87.5M140.0 79.4C140.6 79.6 142.3 81.1 143.5 80.5C144.6 79.9 146.4 76.7 146.9 75.9M181.9 95.0C182.5 95.8 183.9 98.5 185.4 99.6C187.0 100.8 189.3 101.3 191.2 101.9C193.1 102.6 195.8 102.5 197.0 103.7C198.1 104.8 198.3 107.4 198.1 108.9C198.0 110.3 196.8 111.0 195.8 112.4C194.9 113.7 193.7 115.8 192.4 117.0C191.0 118.1 189.5 119.1 187.7 119.3C186.0 119.5 183.4 118.7 181.9 118.1C180.5 117.6 179.5 116.2 179.1 115.8M198.1 108.9C198.7 109.5 200.2 112.0 201.6 112.4C203.1 112.7 205.5 112.0 206.8 111.2C208.2 110.4 209.2 108.3 209.7 107.7M197.0 103.7C198.0 103.2 201.3 101.8 202.8 100.8C204.2 99.7 205.2 98.3 205.7 97.3C206.2 96.4 205.7 95.4 205.7 95.0M206.8 111.2C207.1 112.0 207.5 114.5 208.6 115.8C209.6 117.2 212.4 118.7 213.2 119.3M192.4 117.0C192.7 117.8 194.1 119.9 194.7 121.6C195.3 123.3 195.6 126.2 195.8 127.2M208.6 115.8C208.4 116.8 207.4 119.7 207.4 121.6C207.4 123.5 208.4 126.2 208.6 127.2M209.7 107.7C209.7 106.8 209.6 103.6 209.7 101.9C209.8 100.3 210.2 98.6 210.3 97.9" fill="none" stroke="#ec90b4" stroke-width="1.2" stroke-opacity="0.43" stroke-linecap="round" stroke-linejoin="round" filter="url(#blur5)"/>
<ellipse cx="142.3" cy="39.6" rx="0.9" ry="0.7" fill="#5a2a5a" transform="rotate(0 142.3 39.6)" filter="url(#blur2)"/>
<ellipse cx="167.8" cy="41.5" rx="1.0" ry="0.8" fill="#a03a72" transform="rotate(-40 167.8 41.5)" filter="url(#blur2)"/>
<ellipse cx="185.4" cy="57.6" rx="6.2" ry="0.75" fill="#c2509a" transform="rotate(-54.5 185.4 57.6)" filter="url(#blur2)"/>
<ellipse cx="184.2" cy="61.5" rx="1.0" ry="1.1" fill="#44357a" transform="rotate(0 184.2 61.5)" filter="url(#blur2)"/>
<ellipse cx="196.6" cy="56.2" rx="0.7" ry="1.1" fill="#4a3478" transform="rotate(0 196.6 56.2)" filter="url(#blur2)"/>
<ellipse cx="140.9" cy="69.0" rx="0.9" ry="0.9" fill="#e3264a" transform="rotate(0 140.9 69.0)" filter="url(#blur2)"/>
<ellipse cx="171.7" cy="89.3" rx="0.9" ry="1.0" fill="#e3264a" transform="rotate(0 171.7 89.3)" filter="url(#blur2)"/>
<ellipse cx="175.7" cy="90.0" rx="0.7" ry="0.7" fill="#e3264a" transform="rotate(0 175.7 90.0)" filter="url(#blur2)"/>
<ellipse cx="171.3" cy="107.6" rx="1.7" ry="1.6" fill="#e01a3c" transform="rotate(0 171.3 107.6)" filter="url(#blur2)"/>
<ellipse cx="169.5" cy="126.3" rx="2.6" ry="1.4" fill="#e01a44" transform="rotate(0 169.5 126.3)" filter="url(#blur2)"/>
<ellipse cx="191.0" cy="101.6" rx="0.7" ry="0.7" fill="#e2608c" transform="rotate(0 191.0 101.6)" filter="url(#blur2)"/>
<ellipse cx="192.4" cy="117.5" rx="0.7" ry="0.7" fill="#e3264a" transform="rotate(0 192.4 117.5)" filter="url(#blur2)"/>
<ellipse cx="192.8" cy="87.5" rx="0.5" ry="0.5" fill="#e2608c" transform="rotate(0 192.8 87.5)" filter="url(#blur2)"/>
<ellipse cx="179.0" cy="116.0" rx="0.45" ry="1.6" fill="#5a4088" transform="rotate(0 179.0 116.0)" filter="url(#blur2)"/>
<ellipse cx="214.9" cy="46.0" rx="0.6" ry="1.3" fill="#7a3a6a" transform="rotate(0 214.9 46.0)" filter="url(#blur2)"/>
<ellipse cx="236.0" cy="40.5" rx="0.7" ry="1.0" fill="#9a3a6a" transform="rotate(0 236.0 40.5)" filter="url(#blur2)"/>
<ellipse cx="236.5" cy="68.5" rx="1.0" ry="1.2" fill="#3a2048" transform="rotate(-20 236.5 68.5)" filter="url(#blur2)"/>
<ellipse cx="202.3" cy="58.8" rx="0.6" ry="0.6" fill="#e2608c" transform="rotate(0 202.3 58.8)" filter="url(#blur2)"/>
<ellipse cx="230.0" cy="57.0" rx="0.5" ry="0.8" fill="#8a5a8a" transform="rotate(20 230.0 57.0)" filter="url(#blur2)"/>
<ellipse cx="252.0" cy="48.0" rx="0.5" ry="1.3" fill="#b04a80" transform="rotate(15 252.0 48.0)" filter="url(#blur2)"/>
<ellipse cx="245.7" cy="93.7" rx="0.9" ry="0.9" fill="#e8285a" transform="rotate(0 245.7 93.7)" filter="url(#blur2)"/>
<ellipse cx="210.1" cy="97.9" rx="0.8" ry="0.8" fill="#e04068" transform="rotate(0 210.1 97.9)" filter="url(#blur2)"/>
<ellipse cx="205.5" cy="96.4" rx="0.4" ry="1.1" fill="#5a4088" transform="rotate(0 205.5 96.4)" filter="url(#blur2)"/>
<ellipse cx="214.9" cy="118.7" rx="0.6" ry="0.6" fill="#e2608c" transform="rotate(0 214.9 118.7)" filter="url(#blur2)"/>
<ellipse cx="232.7" cy="118.7" rx="0.8" ry="0.5" fill="#e2608c" transform="rotate(0 232.7 118.7)" filter="url(#blur2)"/>
<ellipse cx="214.0" cy="106.0" rx="0.8" ry="0.4" fill="#6a6a8a" transform="rotate(0 214.0 106.0)" filter="url(#blur2)"/>
<ellipse cx="252.0" cy="126.0" rx="1.5" ry="0.6" fill="#e2608c" transform="rotate(-40 252.0 126.0)" filter="url(#blur2)"/>
<ellipse cx="199.3" cy="81.3" rx="0.6" ry="0.6" fill="#5a4088" transform="rotate(0 199.3 81.3)" filter="url(#blur2)"/>
<ellipse cx="192.6" cy="87.5" rx="0.7" ry="0.7" fill="#e3264a" transform="rotate(0 192.6 87.5)" filter="url(#blur2)"/>
<ellipse cx="209.8" cy="97.6" rx="0.8" ry="0.8" fill="#e3264a" transform="rotate(0 209.8 97.6)" filter="url(#blur2)"/>
<ellipse cx="219.0" cy="72.2" rx="0.5" ry="0.5" fill="#7a8ab0" transform="rotate(0 219.0 72.2)" filter="url(#blur2)"/>
</g>
<line x1="250.20" y1="124.00" x2="257.00" y2="124.00" stroke="#333" stroke-width="0.7"/>
<line x1="302.40" y1="24.50" x2="302.40" y2="112.58" stroke="#222" stroke-width="0.75"/>
<line x1="302.40" y1="112.20" x2="361.50" y2="112.20" stroke="#222" stroke-width="0.75"/>
<line x1="299.60" y1="112.20" x2="302.40" y2="112.20" stroke="#222" stroke-width="0.75"/>
<text x="298.40" y="114.50" font-size="6.5" font-weight="700" stroke="#111" stroke-width="0.2" text-anchor="end">0</text>
<line x1="299.60" y1="94.80" x2="302.40" y2="94.80" stroke="#222" stroke-width="0.75"/>
<text x="298.40" y="97.10" font-size="6.5" font-weight="700" stroke="#111" stroke-width="0.2" text-anchor="end">1000</text>
<line x1="299.60" y1="77.40" x2="302.40" y2="77.40" stroke="#222" stroke-width="0.75"/>
<text x="298.40" y="79.70" font-size="6.5" font-weight="700" stroke="#111" stroke-width="0.2" text-anchor="end">2000</text>
<line x1="299.60" y1="60.00" x2="302.40" y2="60.00" stroke="#222" stroke-width="0.75"/>
<text x="298.40" y="62.30" font-size="6.5" font-weight="700" stroke="#111" stroke-width="0.2" text-anchor="end">3000</text>
<line x1="299.60" y1="42.60" x2="302.40" y2="42.60" stroke="#222" stroke-width="0.75"/>
<text x="298.40" y="44.90" font-size="6.5" font-weight="700" stroke="#111" stroke-width="0.2" text-anchor="end">4000</text>
<line x1="299.60" y1="25.20" x2="302.40" y2="25.20" stroke="#222" stroke-width="0.75"/>
<text x="298.40" y="27.50" font-size="6.5" font-weight="700" stroke="#111" stroke-width="0.2" text-anchor="end">5000</text>
<line x1="319.30" y1="112.20" x2="319.30" y2="115.40" stroke="#222" stroke-width="0.75"/>
<text x="319.30" y="122.80" font-size="6.95" font-weight="700" stroke="#111" stroke-width="0.2" text-anchor="middle">PPAT</text>
<line x1="344.00" y1="112.20" x2="344.00" y2="115.40" stroke="#222" stroke-width="0.75"/>
<text x="344.00" y="122.80" font-size="6.95" font-weight="700" stroke="#111" stroke-width="0.2" text-anchor="middle">SAT</text>
<text transform="translate(279.3 68.9) rotate(-90)" text-anchor="middle" font-size="7.15" fill="#111"><tspan font-weight="700" stroke="#111" stroke-width="0.2">Adipocyte Size </tspan><tspan>(µm<tspan dy="-2.3" font-size="4.6">2</tspan><tspan dy="2.3">)</tspan></tspan></text>
<circle cx="319.40" cy="50.10" r="1.35" fill="#fff" stroke="#8c8c8c" stroke-width="0.55"/>
<circle cx="319.40" cy="57.30" r="1.35" fill="#fff" stroke="#8c8c8c" stroke-width="0.55"/>
<circle cx="319.40" cy="61.80" r="1.35" fill="#fff" stroke="#8c8c8c" stroke-width="0.55"/>
<circle cx="319.40" cy="67.30" r="1.35" fill="#fff" stroke="#8c8c8c" stroke-width="0.55"/>
<circle cx="312.30" cy="70.00" r="1.35" fill="#fff" stroke="#8c8c8c" stroke-width="0.55"/>
<circle cx="322.70" cy="70.00" r="1.35" fill="#fff" stroke="#8c8c8c" stroke-width="0.55"/>
<circle cx="326.20" cy="70.60" r="1.35" fill="#fff" stroke="#8c8c8c" stroke-width="0.55"/>
<circle cx="315.90" cy="71.20" r="1.35" fill="#fff" stroke="#8c8c8c" stroke-width="0.55"/>
<circle cx="319.40" cy="71.60" r="1.35" fill="#fff" stroke="#8c8c8c" stroke-width="0.55"/>
<circle cx="312.30" cy="72.80" r="1.35" fill="#fff" stroke="#8c8c8c" stroke-width="0.55"/>
<circle cx="316.10" cy="72.00" r="1.35" fill="#fff" stroke="#8c8c8c" stroke-width="0.55"/>
<circle cx="319.70" cy="72.30" r="1.35" fill="#fff" stroke="#8c8c8c" stroke-width="0.55"/>
<circle cx="323.00" cy="73.00" r="1.35" fill="#fff" stroke="#8c8c8c" stroke-width="0.55"/>
<circle cx="312.30" cy="78.10" r="1.35" fill="#fff" stroke="#8c8c8c" stroke-width="0.55"/>
<circle cx="315.50" cy="77.70" r="1.35" fill="#fff" stroke="#8c8c8c" stroke-width="0.55"/>
<circle cx="322.70" cy="78.30" r="1.35" fill="#fff" stroke="#8c8c8c" stroke-width="0.55"/>
<circle cx="326.20" cy="78.70" r="1.35" fill="#fff" stroke="#8c8c8c" stroke-width="0.55"/>
<circle cx="312.30" cy="81.30" r="1.35" fill="#fff" stroke="#8c8c8c" stroke-width="0.55"/>
<circle cx="315.50" cy="84.90" r="1.35" fill="#fff" stroke="#8c8c8c" stroke-width="0.55"/>
<circle cx="319.40" cy="82.50" r="1.35" fill="#fff" stroke="#8c8c8c" stroke-width="0.55"/>
<circle cx="319.40" cy="86.10" r="1.35" fill="#fff" stroke="#8c8c8c" stroke-width="0.55"/>
<circle cx="322.70" cy="84.50" r="1.35" fill="#fff" stroke="#8c8c8c" stroke-width="0.55"/>
<circle cx="326.20" cy="84.00" r="1.35" fill="#fff" stroke="#8c8c8c" stroke-width="0.55"/>
<circle cx="317.90" cy="89.60" r="1.35" fill="#fff" stroke="#8c8c8c" stroke-width="0.55"/>
<circle cx="321.20" cy="89.40" r="1.35" fill="#fff" stroke="#8c8c8c" stroke-width="0.55"/>
<line x1="311.30" y1="75.30" x2="327.70" y2="75.30" stroke="#111" stroke-width="1.0"/>
<line x1="313.80" y1="73.50" x2="325.20" y2="73.50" stroke="#111" stroke-width="0.5"/>
<line x1="313.80" y1="77.00" x2="325.20" y2="77.00" stroke="#111" stroke-width="0.5"/>
<line x1="319.50" y1="73.50" x2="319.50" y2="77.00" stroke="#111" stroke-width="0.5"/>
<circle cx="344.40" cy="36.50" r="1.35" fill="#5b8fd2" stroke="#3c679f" stroke-width="0.5"/>
<circle cx="344.40" cy="44.80" r="1.35" fill="#5b8fd2" stroke="#3c679f" stroke-width="0.5"/>
<circle cx="344.40" cy="48.00" r="1.35" fill="#5b8fd2" stroke="#3c679f" stroke-width="0.5"/>
<circle cx="344.40" cy="51.00" r="1.35" fill="#5b8fd2" stroke="#3c679f" stroke-width="0.5"/>
<circle cx="340.50" cy="50.50" r="1.35" fill="#5b8fd2" stroke="#3c679f" stroke-width="0.5"/>
<circle cx="337.20" cy="51.90" r="1.35" fill="#5b8fd2" stroke="#3c679f" stroke-width="0.5"/>
<circle cx="347.70" cy="52.30" r="1.35" fill="#5b8fd2" stroke="#3c679f" stroke-width="0.5"/>
<circle cx="340.50" cy="54.90" r="1.35" fill="#5b8fd2" stroke="#3c679f" stroke-width="0.5"/>
<circle cx="344.40" cy="54.50" r="1.35" fill="#5b8fd2" stroke="#3c679f" stroke-width="0.5"/>
<circle cx="347.70" cy="55.50" r="1.35" fill="#5b8fd2" stroke="#3c679f" stroke-width="0.5"/>
<circle cx="351.30" cy="58.10" r="1.35" fill="#5b8fd2" stroke="#3c679f" stroke-width="0.5"/>
<circle cx="337.50" cy="59.40" r="1.35" fill="#5b8fd2" stroke="#3c679f" stroke-width="0.5"/>
<circle cx="344.40" cy="58.00" r="1.35" fill="#5b8fd2" stroke="#3c679f" stroke-width="0.5"/>
<circle cx="344.40" cy="61.20" r="1.35" fill="#5b8fd2" stroke="#3c679f" stroke-width="0.5"/>
<circle cx="340.50" cy="64.40" r="1.35" fill="#5b8fd2" stroke="#3c679f" stroke-width="0.5"/>
<circle cx="344.40" cy="66.50" r="1.35" fill="#5b8fd2" stroke="#3c679f" stroke-width="0.5"/>
<circle cx="340.50" cy="71.40" r="1.35" fill="#5b8fd2" stroke="#3c679f" stroke-width="0.5"/>
<circle cx="344.40" cy="73.60" r="1.35" fill="#5b8fd2" stroke="#3c679f" stroke-width="0.5"/>
<circle cx="347.70" cy="72.60" r="1.35" fill="#5b8fd2" stroke="#3c679f" stroke-width="0.5"/>
<circle cx="344.40" cy="78.60" r="1.35" fill="#5b8fd2" stroke="#3c679f" stroke-width="0.5"/>
<circle cx="344.40" cy="91.40" r="1.35" fill="#5b8fd2" stroke="#3c679f" stroke-width="0.5"/>
<line x1="336.40" y1="59.10" x2="352.50" y2="59.10" stroke="#111" stroke-width="1.0"/>
<line x1="340.50" y1="56.70" x2="348.30" y2="56.70" stroke="#111" stroke-width="0.5"/>
<line x1="340.50" y1="61.60" x2="348.30" y2="61.60" stroke="#111" stroke-width="0.5"/>
<line x1="344.40" y1="56.70" x2="344.40" y2="61.60" stroke="#111" stroke-width="0.5"/>
<text x="344.40" y="28.60" font-size="7.0" font-weight="700" stroke="#111" stroke-width="0.2" text-anchor="middle">*</text>
<line x1="452.70" y1="24.40" x2="452.70" y2="112.20" stroke="#222" stroke-width="0.8"/>
<line x1="452.70" y1="111.80" x2="540.80" y2="111.80" stroke="#222" stroke-width="0.8"/>
<line x1="449.90" y1="111.80" x2="452.70" y2="111.80" stroke="#222" stroke-width="0.8"/>
<text x="448.70" y="114.70" font-size="6.2" font-weight="700" stroke="#111" stroke-width="0.2" text-anchor="end">0</text>
<line x1="449.90" y1="90.05" x2="452.70" y2="90.05" stroke="#222" stroke-width="0.8"/>
<text x="448.70" y="92.95" font-size="6.2" font-weight="700" stroke="#111" stroke-width="0.2" text-anchor="end">4</text>
<line x1="449.90" y1="68.30" x2="452.70" y2="68.30" stroke="#222" stroke-width="0.8"/>
<text x="448.70" y="71.20" font-size="6.2" font-weight="700" stroke="#111" stroke-width="0.2" text-anchor="end">8</text>
<line x1="449.90" y1="46.55" x2="452.70" y2="46.55" stroke="#222" stroke-width="0.8"/>
<text x="448.70" y="49.45" font-size="6.2" font-weight="700" stroke="#111" stroke-width="0.2" text-anchor="end">12</text>
<line x1="449.90" y1="24.80" x2="452.70" y2="24.80" stroke="#222" stroke-width="0.8"/>
<text x="448.70" y="27.70" font-size="6.2" font-weight="700" stroke="#111" stroke-width="0.2" text-anchor="end">16</text>
<line x1="452.70" y1="111.80" x2="452.70" y2="114.40" stroke="#222" stroke-width="0.8"/>
<text x="455.10" y="122.70" font-size="6.5" font-weight="700" stroke="#111" stroke-width="0.2" text-anchor="end" transform="rotate(-45 455.10 122.70)">0</text>
<line x1="470.12" y1="111.80" x2="470.12" y2="114.40" stroke="#222" stroke-width="0.8"/>
<text x="472.52" y="122.70" font-size="6.5" font-weight="700" stroke="#111" stroke-width="0.2" text-anchor="end" transform="rotate(-45 472.52 122.70)">2000</text>
<line x1="487.55" y1="111.80" x2="487.55" y2="114.40" stroke="#222" stroke-width="0.8"/>
<text x="489.95" y="122.70" font-size="6.5" font-weight="700" stroke="#111" stroke-width="0.2" text-anchor="end" transform="rotate(-45 489.95 122.70)">4000</text>
<line x1="504.97" y1="111.80" x2="504.97" y2="114.40" stroke="#222" stroke-width="0.8"/>
<text x="507.37" y="122.70" font-size="6.5" font-weight="700" stroke="#111" stroke-width="0.2" text-anchor="end" transform="rotate(-45 507.37 122.70)">6000</text>
<line x1="522.40" y1="111.80" x2="522.40" y2="114.40" stroke="#222" stroke-width="0.8"/>
<text x="524.80" y="122.70" font-size="6.5" font-weight="700" stroke="#111" stroke-width="0.2" text-anchor="end" transform="rotate(-45 524.80 122.70)">8000</text>
<line x1="539.82" y1="111.80" x2="539.82" y2="114.40" stroke="#222" stroke-width="0.8"/>
<text x="542.22" y="122.70" font-size="6.5" text-anchor="end" transform="rotate(-45 542.22 122.70)" fill="#111"><tspan fill="#444">≥</tspan><tspan font-weight="700" stroke="#111" stroke-width="0.2"> 10000</tspan></text>
<polyline fill="none" stroke="#222" stroke-width="0.6" points="452.70,65.58 457.06,37.85 461.41,50.36 465.77,38.94 470.12,35.13 474.48,43.83 478.84,64.49 483.19,82.44 487.55,91.14 491.90,96.30 496.26,101.09 500.62,106.04 504.97,108.54 509.33,108.70 513.68,109.41 518.04,110.71 522.40,110.71 526.75,111.26 531.11,111.26 535.46,111.26 539.82,110.71"/>
<line x1="452.70" y1="58.51" x2="452.70" y2="72.65" stroke="#333" stroke-width="0.45"/>
<line x1="451.40" y1="58.51" x2="454.00" y2="58.51" stroke="#333" stroke-width="0.45"/>
<line x1="451.40" y1="72.65" x2="454.00" y2="72.65" stroke="#333" stroke-width="0.45"/>
<line x1="457.06" y1="29.97" x2="457.06" y2="45.73" stroke="#333" stroke-width="0.45"/>
<line x1="455.76" y1="29.97" x2="458.36" y2="29.97" stroke="#333" stroke-width="0.45"/>
<line x1="455.76" y1="45.73" x2="458.36" y2="45.73" stroke="#333" stroke-width="0.45"/>
<line x1="461.41" y1="45.46" x2="461.41" y2="55.25" stroke="#333" stroke-width="0.45"/>
<line x1="460.11" y1="45.46" x2="462.71" y2="45.46" stroke="#333" stroke-width="0.45"/>
<line x1="460.11" y1="55.25" x2="462.71" y2="55.25" stroke="#333" stroke-width="0.45"/>
<line x1="465.77" y1="33.50" x2="465.77" y2="44.38" stroke="#333" stroke-width="0.45"/>
<line x1="464.47" y1="33.50" x2="467.07" y2="33.50" stroke="#333" stroke-width="0.45"/>
<line x1="464.47" y1="44.38" x2="467.07" y2="44.38" stroke="#333" stroke-width="0.45"/>
<line x1="470.12" y1="29.15" x2="470.12" y2="41.11" stroke="#333" stroke-width="0.45"/>
<line x1="468.82" y1="29.15" x2="471.42" y2="29.15" stroke="#333" stroke-width="0.45"/>
<line x1="468.82" y1="41.11" x2="471.42" y2="41.11" stroke="#333" stroke-width="0.45"/>
<line x1="474.48" y1="38.94" x2="474.48" y2="48.72" stroke="#333" stroke-width="0.45"/>
<line x1="473.18" y1="38.94" x2="475.78" y2="38.94" stroke="#333" stroke-width="0.45"/>
<line x1="473.18" y1="48.72" x2="475.78" y2="48.72" stroke="#333" stroke-width="0.45"/>
<line x1="478.84" y1="60.14" x2="478.84" y2="68.84" stroke="#333" stroke-width="0.45"/>
<line x1="477.54" y1="60.14" x2="480.14" y2="60.14" stroke="#333" stroke-width="0.45"/>
<line x1="477.54" y1="68.84" x2="480.14" y2="68.84" stroke="#333" stroke-width="0.45"/>
<line x1="483.19" y1="79.17" x2="483.19" y2="85.70" stroke="#333" stroke-width="0.45"/>
<line x1="481.89" y1="79.17" x2="484.49" y2="79.17" stroke="#333" stroke-width="0.45"/>
<line x1="481.89" y1="85.70" x2="484.49" y2="85.70" stroke="#333" stroke-width="0.45"/>
<line x1="487.55" y1="88.42" x2="487.55" y2="93.86" stroke="#333" stroke-width="0.45"/>
<line x1="486.25" y1="88.42" x2="488.85" y2="88.42" stroke="#333" stroke-width="0.45"/>
<line x1="486.25" y1="93.86" x2="488.85" y2="93.86" stroke="#333" stroke-width="0.45"/>
<line x1="491.90" y1="93.86" x2="491.90" y2="98.75" stroke="#333" stroke-width="0.45"/>
<line x1="490.60" y1="93.86" x2="493.20" y2="93.86" stroke="#333" stroke-width="0.45"/>
<line x1="490.60" y1="98.75" x2="493.20" y2="98.75" stroke="#333" stroke-width="0.45"/>
<line x1="496.26" y1="98.91" x2="496.26" y2="103.26" stroke="#333" stroke-width="0.45"/>
<line x1="494.96" y1="98.91" x2="497.56" y2="98.91" stroke="#333" stroke-width="0.45"/>
<line x1="494.96" y1="103.26" x2="497.56" y2="103.26" stroke="#333" stroke-width="0.45"/>
<line x1="500.62" y1="104.41" x2="500.62" y2="107.67" stroke="#333" stroke-width="0.45"/>
<line x1="499.32" y1="104.41" x2="501.92" y2="104.41" stroke="#333" stroke-width="0.45"/>
<line x1="499.32" y1="107.67" x2="501.92" y2="107.67" stroke="#333" stroke-width="0.45"/>
<circle cx="452.70" cy="65.58" r="1.35" fill="#fff" stroke="#222" stroke-width="0.55"/>
<circle cx="457.06" cy="37.85" r="1.35" fill="#fff" stroke="#222" stroke-width="0.55"/>
<circle cx="461.41" cy="50.36" r="1.35" fill="#fff" stroke="#222" stroke-width="0.55"/>
<circle cx="465.77" cy="38.94" r="1.35" fill="#fff" stroke="#222" stroke-width="0.55"/>
<circle cx="470.12" cy="35.13" r="1.35" fill="#fff" stroke="#222" stroke-width="0.55"/>
<circle cx="474.48" cy="43.83" r="1.35" fill="#fff" stroke="#222" stroke-width="0.55"/>
<circle cx="478.84" cy="64.49" r="1.35" fill="#fff" stroke="#222" stroke-width="0.55"/>
<circle cx="483.19" cy="82.44" r="1.35" fill="#fff" stroke="#222" stroke-width="0.55"/>
<circle cx="487.55" cy="91.14" r="1.35" fill="#fff" stroke="#222" stroke-width="0.55"/>
<circle cx="491.90" cy="96.30" r="1.35" fill="#fff" stroke="#222" stroke-width="0.55"/>
<circle cx="496.26" cy="101.09" r="1.35" fill="#fff" stroke="#222" stroke-width="0.55"/>
<circle cx="500.62" cy="106.04" r="1.35" fill="#fff" stroke="#222" stroke-width="0.55"/>
<circle cx="504.97" cy="108.54" r="1.35" fill="#fff" stroke="#222" stroke-width="0.55"/>
<circle cx="509.33" cy="108.70" r="1.35" fill="#fff" stroke="#222" stroke-width="0.55"/>
<circle cx="513.68" cy="109.41" r="1.35" fill="#fff" stroke="#222" stroke-width="0.55"/>
<circle cx="518.04" cy="110.71" r="1.35" fill="#fff" stroke="#222" stroke-width="0.55"/>
<circle cx="522.40" cy="110.71" r="1.35" fill="#fff" stroke="#222" stroke-width="0.55"/>
<circle cx="526.75" cy="111.26" r="1.35" fill="#fff" stroke="#222" stroke-width="0.55"/>
<circle cx="531.11" cy="111.26" r="1.35" fill="#fff" stroke="#222" stroke-width="0.55"/>
<circle cx="535.46" cy="111.26" r="1.35" fill="#fff" stroke="#222" stroke-width="0.55"/>
<circle cx="539.82" cy="110.71" r="1.35" fill="#fff" stroke="#222" stroke-width="0.55"/>
<polyline fill="none" stroke="#222" stroke-width="0.6" points="452.70,70.75 457.06,61.77 461.41,66.67 465.77,67.21 470.12,61.23 474.48,66.67 478.84,65.04 483.19,69.39 487.55,71.56 491.90,84.07 496.26,84.61 500.62,91.14 504.97,94.67 509.33,99.29 513.68,103.64 518.04,104.19 522.40,106.09 526.75,109.41 531.11,110.71 535.46,111.26 539.82,109.62"/>
<line x1="452.70" y1="65.85" x2="452.70" y2="75.64" stroke="#333" stroke-width="0.45"/>
<line x1="451.40" y1="65.85" x2="454.00" y2="65.85" stroke="#333" stroke-width="0.45"/>
<line x1="451.40" y1="75.64" x2="454.00" y2="75.64" stroke="#333" stroke-width="0.45"/>
<line x1="457.06" y1="56.34" x2="457.06" y2="67.21" stroke="#333" stroke-width="0.45"/>
<line x1="455.76" y1="56.34" x2="458.36" y2="56.34" stroke="#333" stroke-width="0.45"/>
<line x1="455.76" y1="67.21" x2="458.36" y2="67.21" stroke="#333" stroke-width="0.45"/>
<line x1="461.41" y1="61.23" x2="461.41" y2="72.11" stroke="#333" stroke-width="0.45"/>
<line x1="460.11" y1="61.23" x2="462.71" y2="61.23" stroke="#333" stroke-width="0.45"/>
<line x1="460.11" y1="72.11" x2="462.71" y2="72.11" stroke="#333" stroke-width="0.45"/>
<line x1="465.77" y1="62.86" x2="465.77" y2="71.56" stroke="#333" stroke-width="0.45"/>
<line x1="464.47" y1="62.86" x2="467.07" y2="62.86" stroke="#333" stroke-width="0.45"/>
<line x1="464.47" y1="71.56" x2="467.07" y2="71.56" stroke="#333" stroke-width="0.45"/>
<line x1="470.12" y1="57.42" x2="470.12" y2="65.04" stroke="#333" stroke-width="0.45"/>
<line x1="468.82" y1="57.42" x2="471.42" y2="57.42" stroke="#333" stroke-width="0.45"/>
<line x1="468.82" y1="65.04" x2="471.42" y2="65.04" stroke="#333" stroke-width="0.45"/>
<line x1="474.48" y1="62.86" x2="474.48" y2="70.47" stroke="#333" stroke-width="0.45"/>
<line x1="473.18" y1="62.86" x2="475.78" y2="62.86" stroke="#333" stroke-width="0.45"/>
<line x1="473.18" y1="70.47" x2="475.78" y2="70.47" stroke="#333" stroke-width="0.45"/>
<line x1="478.84" y1="61.23" x2="478.84" y2="68.84" stroke="#333" stroke-width="0.45"/>
<line x1="477.54" y1="61.23" x2="480.14" y2="61.23" stroke="#333" stroke-width="0.45"/>
<line x1="477.54" y1="68.84" x2="480.14" y2="68.84" stroke="#333" stroke-width="0.45"/>
<line x1="483.19" y1="65.58" x2="483.19" y2="73.19" stroke="#333" stroke-width="0.45"/>
<line x1="481.89" y1="65.58" x2="484.49" y2="65.58" stroke="#333" stroke-width="0.45"/>
<line x1="481.89" y1="73.19" x2="484.49" y2="73.19" stroke="#333" stroke-width="0.45"/>
<line x1="487.55" y1="67.76" x2="487.55" y2="75.37" stroke="#333" stroke-width="0.45"/>
<line x1="486.25" y1="67.76" x2="488.85" y2="67.76" stroke="#333" stroke-width="0.45"/>
<line x1="486.25" y1="75.37" x2="488.85" y2="75.37" stroke="#333" stroke-width="0.45"/>
<line x1="491.90" y1="79.72" x2="491.90" y2="88.42" stroke="#333" stroke-width="0.45"/>
<line x1="490.60" y1="79.72" x2="493.20" y2="79.72" stroke="#333" stroke-width="0.45"/>
<line x1="490.60" y1="88.42" x2="493.20" y2="88.42" stroke="#333" stroke-width="0.45"/>
<line x1="496.26" y1="80.26" x2="496.26" y2="88.96" stroke="#333" stroke-width="0.45"/>
<line x1="494.96" y1="80.26" x2="497.56" y2="80.26" stroke="#333" stroke-width="0.45"/>
<line x1="494.96" y1="88.96" x2="497.56" y2="88.96" stroke="#333" stroke-width="0.45"/>
<line x1="500.62" y1="87.88" x2="500.62" y2="94.40" stroke="#333" stroke-width="0.45"/>
<line x1="499.32" y1="87.88" x2="501.92" y2="87.88" stroke="#333" stroke-width="0.45"/>
<line x1="499.32" y1="94.40" x2="501.92" y2="94.40" stroke="#333" stroke-width="0.45"/>
<line x1="504.97" y1="91.95" x2="504.97" y2="97.39" stroke="#333" stroke-width="0.45"/>
<line x1="503.67" y1="91.95" x2="506.27" y2="91.95" stroke="#333" stroke-width="0.45"/>
<line x1="503.67" y1="97.39" x2="506.27" y2="97.39" stroke="#333" stroke-width="0.45"/>
<line x1="509.33" y1="96.85" x2="509.33" y2="101.74" stroke="#333" stroke-width="0.45"/>
<line x1="508.03" y1="96.85" x2="510.63" y2="96.85" stroke="#333" stroke-width="0.45"/>
<line x1="508.03" y1="101.74" x2="510.63" y2="101.74" stroke="#333" stroke-width="0.45"/>
<line x1="513.68" y1="101.74" x2="513.68" y2="105.55" stroke="#333" stroke-width="0.45"/>
<line x1="512.38" y1="101.74" x2="514.98" y2="101.74" stroke="#333" stroke-width="0.45"/>
<line x1="512.38" y1="105.55" x2="514.98" y2="105.55" stroke="#333" stroke-width="0.45"/>
<line x1="518.04" y1="102.56" x2="518.04" y2="105.82" stroke="#333" stroke-width="0.45"/>
<line x1="516.74" y1="102.56" x2="519.34" y2="102.56" stroke="#333" stroke-width="0.45"/>
<line x1="516.74" y1="105.82" x2="519.34" y2="105.82" stroke="#333" stroke-width="0.45"/>
<line x1="522.40" y1="104.46" x2="522.40" y2="107.72" stroke="#333" stroke-width="0.45"/>
<line x1="521.10" y1="104.46" x2="523.70" y2="104.46" stroke="#333" stroke-width="0.45"/>
<line x1="521.10" y1="107.72" x2="523.70" y2="107.72" stroke="#333" stroke-width="0.45"/>
<circle cx="452.70" cy="70.75" r="1.35" fill="#4f7dbd" stroke="#1f2f4f" stroke-width="0.55"/>
<circle cx="457.06" cy="61.77" r="1.35" fill="#4f7dbd" stroke="#1f2f4f" stroke-width="0.55"/>
<circle cx="461.41" cy="66.67" r="1.35" fill="#4f7dbd" stroke="#1f2f4f" stroke-width="0.55"/>
<circle cx="465.77" cy="67.21" r="1.35" fill="#4f7dbd" stroke="#1f2f4f" stroke-width="0.55"/>
<circle cx="470.12" cy="61.23" r="1.35" fill="#4f7dbd" stroke="#1f2f4f" stroke-width="0.55"/>
<circle cx="474.48" cy="66.67" r="1.35" fill="#4f7dbd" stroke="#1f2f4f" stroke-width="0.55"/>
<circle cx="478.84" cy="65.04" r="1.35" fill="#4f7dbd" stroke="#1f2f4f" stroke-width="0.55"/>
<circle cx="483.19" cy="69.39" r="1.35" fill="#4f7dbd" stroke="#1f2f4f" stroke-width="0.55"/>
<circle cx="487.55" cy="71.56" r="1.35" fill="#4f7dbd" stroke="#1f2f4f" stroke-width="0.55"/>
<circle cx="491.90" cy="84.07" r="1.35" fill="#4f7dbd" stroke="#1f2f4f" stroke-width="0.55"/>
<circle cx="496.26" cy="84.61" r="1.35" fill="#4f7dbd" stroke="#1f2f4f" stroke-width="0.55"/>
<circle cx="500.62" cy="91.14" r="1.35" fill="#4f7dbd" stroke="#1f2f4f" stroke-width="0.55"/>
<circle cx="504.97" cy="94.67" r="1.35" fill="#4f7dbd" stroke="#1f2f4f" stroke-width="0.55"/>
<circle cx="509.33" cy="99.29" r="1.35" fill="#4f7dbd" stroke="#1f2f4f" stroke-width="0.55"/>
<circle cx="513.68" cy="103.64" r="1.35" fill="#4f7dbd" stroke="#1f2f4f" stroke-width="0.55"/>
<circle cx="518.04" cy="104.19" r="1.35" fill="#4f7dbd" stroke="#1f2f4f" stroke-width="0.55"/>
<circle cx="522.40" cy="106.09" r="1.35" fill="#4f7dbd" stroke="#1f2f4f" stroke-width="0.55"/>
<circle cx="526.75" cy="109.41" r="1.35" fill="#4f7dbd" stroke="#1f2f4f" stroke-width="0.55"/>
<circle cx="531.11" cy="110.71" r="1.35" fill="#4f7dbd" stroke="#1f2f4f" stroke-width="0.55"/>
<circle cx="535.46" cy="111.26" r="1.35" fill="#4f7dbd" stroke="#1f2f4f" stroke-width="0.55"/>
<circle cx="539.82" cy="109.62" r="1.35" fill="#4f7dbd" stroke="#1f2f4f" stroke-width="0.55"/>
<rect x="509.0" y="34.7" width="30.0" height="15.0" fill="#fff" stroke="#444" stroke-width="0.7"/>
<line x1="511.50" y1="39.30" x2="520.50" y2="39.30" stroke="#222" stroke-width="0.55"/>
<circle cx="516.00" cy="39.30" r="1.3" fill="#fff" stroke="#222" stroke-width="0.5"/>
<text x="526.00" y="40.75" font-size="4.1" fill="#222">PPAT</text>
<line x1="511.50" y1="46.30" x2="520.50" y2="46.30" stroke="#222" stroke-width="0.55"/>
<circle cx="516.00" cy="46.30" r="1.3" fill="#4f7dbd" stroke="#1f2f4f" stroke-width="0.5"/>
<text x="526.00" y="47.75" font-size="4.1" fill="#222">SAT</text>
<text x="428.10" y="68.60" font-size="7.2" font-weight="700" stroke="#111" stroke-width="0.2" text-anchor="middle" transform="rotate(-90 428.10 68.60)" textLength="66.00" lengthAdjust="spacingAndGlyphs">Adipocyte Cell Size</text>
<text transform="translate(436.8 68.8) rotate(-90)" text-anchor="middle" font-size="7.2" fill="#111" textLength="49.3" lengthAdjust="spacingAndGlyphs"><tspan font-weight="700" stroke="#111" stroke-width="0.2">Frequency </tspan><tspan>(%)</tspan></text>
<text x="496.3" y="149.1" text-anchor="middle" font-size="6.5" fill="#111"><tspan font-weight="700" stroke="#111" stroke-width="0.2">Adipocyte Size </tspan><tspan>(µm<tspan dy="-2" font-size="4.2">2</tspan><tspan dy="2">)</tspan></tspan></text>
<line x1="41.50" y1="176.90" x2="41.50" y2="264.48" stroke="#222" stroke-width="0.75"/>
<line x1="41.50" y1="264.10" x2="100.20" y2="264.10" stroke="#222" stroke-width="0.75"/>
<line x1="38.70" y1="264.10" x2="41.50" y2="264.10" stroke="#222" stroke-width="0.75"/>
<text x="37.50" y="266.40" font-size="6.5" font-weight="700" stroke="#111" stroke-width="0.2" text-anchor="end">0</text>
<line x1="38.70" y1="246.64" x2="41.50" y2="246.64" stroke="#222" stroke-width="0.75"/>
<text x="37.50" y="248.94" font-size="6.5" font-weight="700" stroke="#111" stroke-width="0.2" text-anchor="end">20</text>
<line x1="38.70" y1="229.18" x2="41.50" y2="229.18" stroke="#222" stroke-width="0.75"/>
<text x="37.50" y="231.48" font-size="6.5" font-weight="700" stroke="#111" stroke-width="0.2" text-anchor="end">40</text>
<line x1="38.70" y1="211.72" x2="41.50" y2="211.72" stroke="#222" stroke-width="0.75"/>
<text x="37.50" y="214.02" font-size="6.5" font-weight="700" stroke="#111" stroke-width="0.2" text-anchor="end">60</text>
<line x1="38.70" y1="194.26" x2="41.50" y2="194.26" stroke="#222" stroke-width="0.75"/>
<text x="37.50" y="196.56" font-size="6.5" font-weight="700" stroke="#111" stroke-width="0.2" text-anchor="end">80</text>
<line x1="38.70" y1="176.80" x2="41.50" y2="176.80" stroke="#222" stroke-width="0.75"/>
<text x="37.50" y="179.10" font-size="6.5" font-weight="700" stroke="#111" stroke-width="0.2" text-anchor="end">100</text>
<line x1="57.80" y1="264.10" x2="57.80" y2="267.30" stroke="#222" stroke-width="0.75"/>
<text x="57.80" y="274.80" font-size="6.95" font-weight="700" stroke="#111" stroke-width="0.2" text-anchor="middle">PPAT</text>
<line x1="82.60" y1="264.10" x2="82.60" y2="267.30" stroke="#222" stroke-width="0.75"/>
<text x="82.60" y="274.80" font-size="6.95" font-weight="700" stroke="#111" stroke-width="0.2" text-anchor="middle">SAT</text>
<text x="12.90" y="220.00" font-size="7.0" font-weight="700" stroke="#111" stroke-width="0.2" text-anchor="middle" transform="rotate(-90 12.90 220.00)" textLength="80.10" lengthAdjust="spacingAndGlyphs">Free Fatty Acid Release</text>
<text x="21.30" y="220.60" font-size="7.1" text-anchor="middle" transform="rotate(-90 21.30 220.60)" fill="#222" textLength="42.00" lengthAdjust="spacingAndGlyphs">(pmol/mg/2h)</text>
<circle cx="57.80" cy="181.76" r="1.3" fill="#fff" stroke="#8c8c8c" stroke-width="0.5"/>
<circle cx="57.80" cy="188.93" r="1.3" fill="#fff" stroke="#8c8c8c" stroke-width="0.5"/>
<circle cx="57.80" cy="195.34" r="1.3" fill="#fff" stroke="#8c8c8c" stroke-width="0.5"/>
<circle cx="62.90" cy="196.06" r="1.3" fill="#fff" stroke="#8c8c8c" stroke-width="0.5"/>
<circle cx="55.25" cy="195.99" r="1.3" fill="#fff" stroke="#8c8c8c" stroke-width="0.5"/>
<circle cx="60.35" cy="195.87" r="1.3" fill="#fff" stroke="#8c8c8c" stroke-width="0.5"/>
<circle cx="52.70" cy="196.50" r="1.3" fill="#fff" stroke="#8c8c8c" stroke-width="0.5"/>
<circle cx="55.25" cy="198.61" r="1.3" fill="#fff" stroke="#8c8c8c" stroke-width="0.5"/>
<circle cx="60.35" cy="198.42" r="1.3" fill="#fff" stroke="#8c8c8c" stroke-width="0.5"/>
<circle cx="57.80" cy="198.16" r="1.3" fill="#fff" stroke="#8c8c8c" stroke-width="0.5"/>
<circle cx="60.35" cy="201.88" r="1.3" fill="#fff" stroke="#8c8c8c" stroke-width="0.5"/>
<circle cx="57.80" cy="201.55" r="1.3" fill="#fff" stroke="#8c8c8c" stroke-width="0.5"/>
<circle cx="55.25" cy="201.89" r="1.3" fill="#fff" stroke="#8c8c8c" stroke-width="0.5"/>
<circle cx="52.70" cy="203.38" r="1.3" fill="#fff" stroke="#8c8c8c" stroke-width="0.5"/>
<circle cx="65.45" cy="203.56" r="1.3" fill="#fff" stroke="#8c8c8c" stroke-width="0.5"/>
<circle cx="57.80" cy="204.58" r="1.3" fill="#fff" stroke="#8c8c8c" stroke-width="0.5"/>
<circle cx="62.90" cy="203.11" r="1.3" fill="#fff" stroke="#8c8c8c" stroke-width="0.5"/>
<circle cx="60.35" cy="205.75" r="1.3" fill="#fff" stroke="#8c8c8c" stroke-width="0.5"/>
<circle cx="55.25" cy="206.24" r="1.3" fill="#fff" stroke="#8c8c8c" stroke-width="0.5"/>
<circle cx="62.90" cy="206.30" r="1.3" fill="#fff" stroke="#8c8c8c" stroke-width="0.5"/>
<circle cx="52.70" cy="207.02" r="1.3" fill="#fff" stroke="#8c8c8c" stroke-width="0.5"/>
<circle cx="57.80" cy="207.24" r="1.3" fill="#fff" stroke="#8c8c8c" stroke-width="0.5"/>
<circle cx="60.35" cy="208.62" r="1.3" fill="#fff" stroke="#8c8c8c" stroke-width="0.5"/>
<circle cx="65.67" cy="209.36" r="1.3" fill="#fff" stroke="#8c8c8c" stroke-width="0.5"/>
<circle cx="50.15" cy="209.15" r="1.3" fill="#fff" stroke="#8c8c8c" stroke-width="0.5"/>
<circle cx="55.25" cy="209.07" r="1.3" fill="#fff" stroke="#8c8c8c" stroke-width="0.5"/>
<circle cx="53.35" cy="209.40" r="1.3" fill="#fff" stroke="#8c8c8c" stroke-width="0.5"/>
<circle cx="64.17" cy="208.72" r="1.3" fill="#fff" stroke="#8c8c8c" stroke-width="0.5"/>
<circle cx="54.29" cy="210.50" r="1.3" fill="#fff" stroke="#8c8c8c" stroke-width="0.5"/>
<circle cx="57.80" cy="209.87" r="1.3" fill="#fff" stroke="#8c8c8c" stroke-width="0.5"/>
<circle cx="63.30" cy="210.38" r="1.3" fill="#fff" stroke="#8c8c8c" stroke-width="0.5"/>
<circle cx="53.67" cy="210.19" r="1.3" fill="#fff" stroke="#8c8c8c" stroke-width="0.5"/>
<circle cx="59.44" cy="210.41" r="1.3" fill="#fff" stroke="#8c8c8c" stroke-width="0.5"/>
<circle cx="61.28" cy="210.16" r="1.3" fill="#fff" stroke="#8c8c8c" stroke-width="0.5"/>
<circle cx="61.62" cy="212.66" r="1.3" fill="#fff" stroke="#8c8c8c" stroke-width="0.5"/>
<circle cx="59.07" cy="212.94" r="1.3" fill="#fff" stroke="#8c8c8c" stroke-width="0.5"/>
<circle cx="51.42" cy="211.81" r="1.3" fill="#fff" stroke="#8c8c8c" stroke-width="0.5"/>
<circle cx="52.28" cy="211.81" r="1.3" fill="#fff" stroke="#8c8c8c" stroke-width="0.5"/>
<circle cx="56.52" cy="212.06" r="1.3" fill="#fff" stroke="#8c8c8c" stroke-width="0.5"/>
<circle cx="55.25" cy="214.45" r="1.3" fill="#fff" stroke="#8c8c8c" stroke-width="0.5"/>
<circle cx="62.90" cy="215.07" r="1.3" fill="#fff" stroke="#8c8c8c" stroke-width="0.5"/>
<circle cx="57.80" cy="215.20" r="1.3" fill="#fff" stroke="#8c8c8c" stroke-width="0.5"/>
<circle cx="52.70" cy="215.11" r="1.3" fill="#fff" stroke="#8c8c8c" stroke-width="0.5"/>
<circle cx="62.90" cy="217.63" r="1.3" fill="#fff" stroke="#8c8c8c" stroke-width="0.5"/>
<circle cx="65.45" cy="216.54" r="1.3" fill="#fff" stroke="#8c8c8c" stroke-width="0.5"/>
<circle cx="55.25" cy="217.11" r="1.3" fill="#fff" stroke="#8c8c8c" stroke-width="0.5"/>
<circle cx="60.35" cy="216.41" r="1.3" fill="#fff" stroke="#8c8c8c" stroke-width="0.5"/>
<circle cx="55.25" cy="219.76" r="1.3" fill="#fff" stroke="#8c8c8c" stroke-width="0.5"/>
<circle cx="57.80" cy="218.86" r="1.3" fill="#fff" stroke="#8c8c8c" stroke-width="0.5"/>
<circle cx="60.35" cy="219.03" r="1.3" fill="#fff" stroke="#8c8c8c" stroke-width="0.5"/>
<circle cx="55.25" cy="222.98" r="1.3" fill="#fff" stroke="#8c8c8c" stroke-width="0.5"/>
<circle cx="60.35" cy="222.65" r="1.3" fill="#fff" stroke="#8c8c8c" stroke-width="0.5"/>
<circle cx="57.80" cy="221.55" r="1.3" fill="#fff" stroke="#8c8c8c" stroke-width="0.5"/>
<circle cx="57.80" cy="224.86" r="1.3" fill="#fff" stroke="#8c8c8c" stroke-width="0.5"/>
<circle cx="62.90" cy="224.06" r="1.3" fill="#fff" stroke="#8c8c8c" stroke-width="0.5"/>
<circle cx="57.80" cy="227.60" r="1.3" fill="#fff" stroke="#8c8c8c" stroke-width="0.5"/>
<circle cx="82.60" cy="192.24" r="1.3" fill="#5b8fd2" stroke="#3c679f" stroke-width="0.45"/>
<circle cx="82.60" cy="194.95" r="1.3" fill="#5b8fd2" stroke="#3c679f" stroke-width="0.45"/>
<circle cx="85.15" cy="196.49" r="1.3" fill="#5b8fd2" stroke="#3c679f" stroke-width="0.45"/>
<circle cx="82.60" cy="198.95" r="1.3" fill="#5b8fd2" stroke="#3c679f" stroke-width="0.45"/>
<circle cx="85.15" cy="199.20" r="1.3" fill="#5b8fd2" stroke="#3c679f" stroke-width="0.45"/>
<circle cx="77.50" cy="201.04" r="1.3" fill="#5b8fd2" stroke="#3c679f" stroke-width="0.45"/>
<circle cx="80.05" cy="200.16" r="1.3" fill="#5b8fd2" stroke="#3c679f" stroke-width="0.45"/>
<circle cx="87.70" cy="200.45" r="1.3" fill="#5b8fd2" stroke="#3c679f" stroke-width="0.45"/>
<circle cx="85.15" cy="203.52" r="1.3" fill="#5b8fd2" stroke="#3c679f" stroke-width="0.45"/>
<circle cx="82.60" cy="203.34" r="1.3" fill="#5b8fd2" stroke="#3c679f" stroke-width="0.45"/>
<circle cx="80.05" cy="203.55" r="1.3" fill="#5b8fd2" stroke="#3c679f" stroke-width="0.45"/>
<circle cx="87.70" cy="203.60" r="1.3" fill="#5b8fd2" stroke="#3c679f" stroke-width="0.45"/>
<circle cx="77.50" cy="204.32" r="1.3" fill="#5b8fd2" stroke="#3c679f" stroke-width="0.45"/>
<circle cx="75.27" cy="205.19" r="1.3" fill="#5b8fd2" stroke="#3c679f" stroke-width="0.45"/>
<circle cx="90.25" cy="204.65" r="1.3" fill="#5b8fd2" stroke="#3c679f" stroke-width="0.45"/>
<circle cx="74.95" cy="204.81" r="1.3" fill="#5b8fd2" stroke="#3c679f" stroke-width="0.45"/>
<circle cx="86.35" cy="205.17" r="1.3" fill="#5b8fd2" stroke="#3c679f" stroke-width="0.45"/>
<circle cx="82.60" cy="206.16" r="1.3" fill="#5b8fd2" stroke="#3c679f" stroke-width="0.45"/>
<circle cx="88.97" cy="207.00" r="1.3" fill="#5b8fd2" stroke="#3c679f" stroke-width="0.45"/>
<circle cx="80.05" cy="206.28" r="1.3" fill="#5b8fd2" stroke="#3c679f" stroke-width="0.45"/>
<circle cx="83.61" cy="207.02" r="1.3" fill="#5b8fd2" stroke="#3c679f" stroke-width="0.45"/>
<circle cx="77.98" cy="206.59" r="1.3" fill="#5b8fd2" stroke="#3c679f" stroke-width="0.45"/>
<circle cx="89.70" cy="208.63" r="1.3" fill="#5b8fd2" stroke="#3c679f" stroke-width="0.45"/>
<circle cx="78.86" cy="208.55" r="1.3" fill="#5b8fd2" stroke="#3c679f" stroke-width="0.45"/>
<circle cx="88.59" cy="207.57" r="1.3" fill="#5b8fd2" stroke="#3c679f" stroke-width="0.45"/>
<circle cx="84.54" cy="207.80" r="1.3" fill="#5b8fd2" stroke="#3c679f" stroke-width="0.45"/>
<circle cx="81.32" cy="208.50" r="1.3" fill="#5b8fd2" stroke="#3c679f" stroke-width="0.45"/>
<circle cx="74.95" cy="207.69" r="1.3" fill="#5b8fd2" stroke="#3c679f" stroke-width="0.45"/>
<circle cx="83.88" cy="210.38" r="1.3" fill="#5b8fd2" stroke="#3c679f" stroke-width="0.45"/>
<circle cx="78.68" cy="210.12" r="1.3" fill="#5b8fd2" stroke="#3c679f" stroke-width="0.45"/>
<circle cx="74.38" cy="209.48" r="1.3" fill="#5b8fd2" stroke="#3c679f" stroke-width="0.45"/>
<circle cx="86.42" cy="209.78" r="1.3" fill="#5b8fd2" stroke="#3c679f" stroke-width="0.45"/>
<circle cx="81.68" cy="210.53" r="1.3" fill="#5b8fd2" stroke="#3c679f" stroke-width="0.45"/>
<circle cx="77.57" cy="209.29" r="1.3" fill="#5b8fd2" stroke="#3c679f" stroke-width="0.45"/>
<circle cx="80.37" cy="212.12" r="1.3" fill="#5b8fd2" stroke="#3c679f" stroke-width="0.45"/>
<circle cx="77.10" cy="212.06" r="1.3" fill="#5b8fd2" stroke="#3c679f" stroke-width="0.45"/>
<circle cx="88.97" cy="211.34" r="1.3" fill="#5b8fd2" stroke="#3c679f" stroke-width="0.45"/>
<circle cx="76.22" cy="211.96" r="1.3" fill="#5b8fd2" stroke="#3c679f" stroke-width="0.45"/>
<circle cx="75.13" cy="212.00" r="1.3" fill="#5b8fd2" stroke="#3c679f" stroke-width="0.45"/>
<circle cx="86.42" cy="212.32" r="1.3" fill="#5b8fd2" stroke="#3c679f" stroke-width="0.45"/>
<circle cx="89.25" cy="214.04" r="1.3" fill="#5b8fd2" stroke="#3c679f" stroke-width="0.45"/>
<circle cx="83.83" cy="213.35" r="1.3" fill="#5b8fd2" stroke="#3c679f" stroke-width="0.45"/>
<circle cx="80.26" cy="213.82" r="1.3" fill="#5b8fd2" stroke="#3c679f" stroke-width="0.45"/>
<circle cx="82.60" cy="213.32" r="1.3" fill="#5b8fd2" stroke="#3c679f" stroke-width="0.45"/>
<circle cx="76.34" cy="213.65" r="1.3" fill="#5b8fd2" stroke="#3c679f" stroke-width="0.45"/>
<circle cx="90.25" cy="213.53" r="1.3" fill="#5b8fd2" stroke="#3c679f" stroke-width="0.45"/>
<circle cx="90.77" cy="214.57" r="1.3" fill="#5b8fd2" stroke="#3c679f" stroke-width="0.45"/>
<circle cx="84.04" cy="215.23" r="1.3" fill="#5b8fd2" stroke="#3c679f" stroke-width="0.45"/>
<circle cx="85.85" cy="215.11" r="1.3" fill="#5b8fd2" stroke="#3c679f" stroke-width="0.45"/>
<circle cx="85.27" cy="214.70" r="1.3" fill="#5b8fd2" stroke="#3c679f" stroke-width="0.45"/>
<circle cx="76.49" cy="215.66" r="1.3" fill="#5b8fd2" stroke="#3c679f" stroke-width="0.45"/>
<circle cx="87.70" cy="217.44" r="1.3" fill="#5b8fd2" stroke="#3c679f" stroke-width="0.45"/>
<circle cx="81.32" cy="216.39" r="1.3" fill="#5b8fd2" stroke="#3c679f" stroke-width="0.45"/>
<circle cx="74.70" cy="216.51" r="1.3" fill="#5b8fd2" stroke="#3c679f" stroke-width="0.45"/>
<circle cx="78.77" cy="217.31" r="1.3" fill="#5b8fd2" stroke="#3c679f" stroke-width="0.45"/>
<circle cx="81.32" cy="219.14" r="1.3" fill="#5b8fd2" stroke="#3c679f" stroke-width="0.45"/>
<circle cx="90.25" cy="218.37" r="1.3" fill="#5b8fd2" stroke="#3c679f" stroke-width="0.45"/>
<circle cx="83.88" cy="218.09" r="1.3" fill="#5b8fd2" stroke="#3c679f" stroke-width="0.45"/>
<circle cx="83.88" cy="220.87" r="1.3" fill="#5b8fd2" stroke="#3c679f" stroke-width="0.45"/>
<circle cx="86.42" cy="219.82" r="1.3" fill="#5b8fd2" stroke="#3c679f" stroke-width="0.45"/>
<circle cx="78.77" cy="219.92" r="1.3" fill="#5b8fd2" stroke="#3c679f" stroke-width="0.45"/>
<circle cx="81.32" cy="222.05" r="1.3" fill="#5b8fd2" stroke="#3c679f" stroke-width="0.45"/>
<circle cx="87.70" cy="222.31" r="1.3" fill="#5b8fd2" stroke="#3c679f" stroke-width="0.45"/>
<circle cx="82.60" cy="224.50" r="1.3" fill="#5b8fd2" stroke="#3c679f" stroke-width="0.45"/>
<circle cx="85.15" cy="226.33" r="1.3" fill="#5b8fd2" stroke="#3c679f" stroke-width="0.45"/>
<line x1="49.20" y1="209.45" x2="66.40" y2="209.45" stroke="#111" stroke-width="1.0"/>
<line x1="74.20" y1="211.55" x2="91.20" y2="211.55" stroke="#111" stroke-width="1.0"/>
<line x1="154.50" y1="176.60" x2="154.50" y2="264.55" stroke="#222" stroke-width="1.1"/>
<line x1="154.50" y1="264.00" x2="241.80" y2="264.00" stroke="#222" stroke-width="1.1"/>
<line x1="151.90" y1="264.00" x2="154.50" y2="264.00" stroke="#222" stroke-width="1.1"/>
<text x="150.90" y="266.00" font-size="5.8" font-weight="700" stroke="#111" stroke-width="0.2" text-anchor="end">0</text>
<line x1="154.50" y1="264.00" x2="154.50" y2="266.60" stroke="#222" stroke-width="1.1"/>
<text x="154.50" y="273.50" font-size="5.7" font-weight="700" stroke="#111" stroke-width="0.2" text-anchor="middle">0</text>
<line x1="151.90" y1="246.60" x2="154.50" y2="246.60" stroke="#222" stroke-width="1.1"/>
<text x="150.90" y="248.60" font-size="5.8" font-weight="700" stroke="#111" stroke-width="0.2" text-anchor="end">20</text>
<line x1="171.90" y1="264.00" x2="171.90" y2="266.60" stroke="#222" stroke-width="1.1"/>
<text x="171.90" y="273.50" font-size="5.7" font-weight="700" stroke="#111" stroke-width="0.2" text-anchor="middle">20</text>
<line x1="151.90" y1="229.20" x2="154.50" y2="229.20" stroke="#222" stroke-width="1.1"/>
<text x="150.90" y="231.20" font-size="5.8" font-weight="700" stroke="#111" stroke-width="0.2" text-anchor="end">40</text>
<line x1="189.30" y1="264.00" x2="189.30" y2="266.60" stroke="#222" stroke-width="1.1"/>
<text x="189.30" y="273.50" font-size="5.7" font-weight="700" stroke="#111" stroke-width="0.2" text-anchor="middle">40</text>
<line x1="151.90" y1="211.80" x2="154.50" y2="211.80" stroke="#222" stroke-width="1.1"/>
<text x="150.90" y="213.80" font-size="5.8" font-weight="700" stroke="#111" stroke-width="0.2" text-anchor="end">60</text>
<line x1="206.70" y1="264.00" x2="206.70" y2="266.60" stroke="#222" stroke-width="1.1"/>
<text x="206.70" y="273.50" font-size="5.7" font-weight="700" stroke="#111" stroke-width="0.2" text-anchor="middle">60</text>
<line x1="151.90" y1="194.40" x2="154.50" y2="194.40" stroke="#222" stroke-width="1.1"/>
<text x="150.90" y="196.40" font-size="5.8" font-weight="700" stroke="#111" stroke-width="0.2" text-anchor="end">80</text>
<line x1="224.10" y1="264.00" x2="224.10" y2="266.60" stroke="#222" stroke-width="1.1"/>
<text x="224.10" y="273.50" font-size="5.7" font-weight="700" stroke="#111" stroke-width="0.2" text-anchor="middle">80</text>
<line x1="151.90" y1="177.00" x2="154.50" y2="177.00" stroke="#222" stroke-width="1.1"/>
<text x="150.90" y="179.00" font-size="5.8" font-weight="700" stroke="#111" stroke-width="0.2" text-anchor="end">100</text>
<line x1="241.50" y1="264.00" x2="241.50" y2="266.60" stroke="#222" stroke-width="1.1"/>
<text x="241.50" y="273.50" font-size="5.7" font-weight="700" stroke="#111" stroke-width="0.2" text-anchor="middle">100</text>
<text x="126.90" y="221.00" font-size="6.9" font-weight="700" stroke="#111" stroke-width="0.2" text-anchor="middle" transform="rotate(-90 126.90 221.00)" textLength="67.50" lengthAdjust="spacingAndGlyphs">SAT Basal Lipolysis</text>
<text x="135.30" y="220.30" font-size="7.2" text-anchor="middle" transform="rotate(-90 135.30 220.30)" fill="#222" textLength="33.60" lengthAdjust="spacingAndGlyphs">(pmol/mg)</text>
<text x="198.30" y="283.90" font-size="6.9" font-weight="700" stroke="#111" stroke-width="0.2" text-anchor="middle" textLength="70.50" lengthAdjust="spacingAndGlyphs">PPAT Basal Lipolysis</text>
<text x="198.20" y="292.10" font-size="7.2" text-anchor="middle" fill="#222" textLength="32.70" lengthAdjust="spacingAndGlyphs">(pmol/mg)</text>
<text x="171.8" y="182.5" font-size="4.8" fill="#333" text-anchor="middle" textLength="19.6" lengthAdjust="spacingAndGlyphs">R<tspan dy="-1.6" font-size="3.1">2</tspan><tspan dy="1.6">=0.056</tspan></text>
<text x="171.8" y="187.7" font-size="4.8" fill="#333" text-anchor="middle" textLength="17.4" lengthAdjust="spacingAndGlyphs"><tspan font-style="italic">P</tspan>=0.077</text>
<circle cx="228.76" cy="191.94" r="1.6" fill="#64a2de" stroke="#27508c" stroke-width="0.55"/>
<circle cx="204.30" cy="196.07" r="1.6" fill="#64a2de" stroke="#27508c" stroke-width="0.55"/>
<circle cx="209.42" cy="197.40" r="1.6" fill="#64a2de" stroke="#27508c" stroke-width="0.55"/>
<circle cx="208.43" cy="199.55" r="1.6" fill="#64a2de" stroke="#27508c" stroke-width="0.55"/>
<circle cx="221.32" cy="200.70" r="1.6" fill="#64a2de" stroke="#27508c" stroke-width="0.55"/>
<circle cx="211.40" cy="202.36" r="1.6" fill="#64a2de" stroke="#27508c" stroke-width="0.55"/>
<circle cx="208.93" cy="204.01" r="1.6" fill="#64a2de" stroke="#27508c" stroke-width="0.55"/>
<circle cx="197.02" cy="204.50" r="1.6" fill="#64a2de" stroke="#27508c" stroke-width="0.55"/>
<circle cx="204.46" cy="204.83" r="1.6" fill="#64a2de" stroke="#27508c" stroke-width="0.55"/>
<circle cx="201.49" cy="206.16" r="1.6" fill="#64a2de" stroke="#27508c" stroke-width="0.55"/>
<circle cx="196.53" cy="207.31" r="1.6" fill="#64a2de" stroke="#27508c" stroke-width="0.55"/>
<circle cx="204.79" cy="207.31" r="1.6" fill="#64a2de" stroke="#27508c" stroke-width="0.55"/>
<circle cx="217.19" cy="206.98" r="1.6" fill="#64a2de" stroke="#27508c" stroke-width="0.55"/>
<circle cx="219.67" cy="207.31" r="1.6" fill="#64a2de" stroke="#27508c" stroke-width="0.55"/>
<circle cx="213.06" cy="208.14" r="1.6" fill="#64a2de" stroke="#27508c" stroke-width="0.55"/>
<circle cx="208.43" cy="208.64" r="1.6" fill="#64a2de" stroke="#27508c" stroke-width="0.55"/>
<circle cx="222.15" cy="208.97" r="1.6" fill="#64a2de" stroke="#27508c" stroke-width="0.55"/>
<circle cx="199.83" cy="209.79" r="1.6" fill="#64a2de" stroke="#27508c" stroke-width="0.55"/>
<circle cx="204.79" cy="210.62" r="1.6" fill="#64a2de" stroke="#27508c" stroke-width="0.55"/>
<circle cx="236.20" cy="211.45" r="1.6" fill="#64a2de" stroke="#27508c" stroke-width="0.55"/>
<circle cx="196.53" cy="212.27" r="1.6" fill="#64a2de" stroke="#27508c" stroke-width="0.55"/>
<circle cx="200.66" cy="212.27" r="1.6" fill="#64a2de" stroke="#27508c" stroke-width="0.55"/>
<circle cx="204.79" cy="212.77" r="1.6" fill="#64a2de" stroke="#27508c" stroke-width="0.55"/>
<circle cx="215.54" cy="212.27" r="1.6" fill="#64a2de" stroke="#27508c" stroke-width="0.55"/>
<circle cx="220.50" cy="213.10" r="1.6" fill="#64a2de" stroke="#27508c" stroke-width="0.55"/>
<circle cx="210.58" cy="213.60" r="1.6" fill="#64a2de" stroke="#27508c" stroke-width="0.55"/>
<circle cx="204.79" cy="214.75" r="1.6" fill="#64a2de" stroke="#27508c" stroke-width="0.55"/>
<circle cx="208.93" cy="215.58" r="1.6" fill="#64a2de" stroke="#27508c" stroke-width="0.55"/>
<circle cx="215.54" cy="215.58" r="1.6" fill="#64a2de" stroke="#27508c" stroke-width="0.55"/>
<circle cx="219.67" cy="215.58" r="1.6" fill="#64a2de" stroke="#27508c" stroke-width="0.55"/>
<circle cx="195.70" cy="216.40" r="1.6" fill="#64a2de" stroke="#27508c" stroke-width="0.55"/>
<circle cx="203.97" cy="216.74" r="1.6" fill="#64a2de" stroke="#27508c" stroke-width="0.55"/>
<circle cx="212.23" cy="216.74" r="1.6" fill="#64a2de" stroke="#27508c" stroke-width="0.55"/>
<circle cx="220.50" cy="218.88" r="1.6" fill="#64a2de" stroke="#27508c" stroke-width="0.55"/>
<circle cx="200.66" cy="219.38" r="1.6" fill="#64a2de" stroke="#27508c" stroke-width="0.55"/>
<circle cx="194.55" cy="219.71" r="1.6" fill="#64a2de" stroke="#27508c" stroke-width="0.55"/>
<circle cx="208.93" cy="219.71" r="1.6" fill="#64a2de" stroke="#27508c" stroke-width="0.55"/>
<circle cx="212.23" cy="219.71" r="1.6" fill="#64a2de" stroke="#27508c" stroke-width="0.55"/>
<circle cx="214.71" cy="219.71" r="1.6" fill="#64a2de" stroke="#27508c" stroke-width="0.55"/>
<circle cx="196.53" cy="221.36" r="1.6" fill="#64a2de" stroke="#27508c" stroke-width="0.55"/>
<circle cx="191.24" cy="223.35" r="1.6" fill="#64a2de" stroke="#27508c" stroke-width="0.55"/>
<circle cx="217.69" cy="223.84" r="1.6" fill="#64a2de" stroke="#27508c" stroke-width="0.55"/>
<circle cx="199.50" cy="225.50" r="1.6" fill="#64a2de" stroke="#27508c" stroke-width="0.55"/>
<circle cx="206.45" cy="206.16" r="1.6" fill="#64a2de" stroke="#27508c" stroke-width="0.55"/>
<circle cx="202.31" cy="214.75" r="1.6" fill="#64a2de" stroke="#27508c" stroke-width="0.55"/>
<circle cx="213.88" cy="211.45" r="1.6" fill="#64a2de" stroke="#27508c" stroke-width="0.55"/>
<circle cx="218.02" cy="209.79" r="1.6" fill="#64a2de" stroke="#27508c" stroke-width="0.55"/>
<circle cx="207.27" cy="211.45" r="1.6" fill="#64a2de" stroke="#27508c" stroke-width="0.55"/>
<circle cx="198.18" cy="209.79" r="1.6" fill="#64a2de" stroke="#27508c" stroke-width="0.55"/>
<circle cx="210.58" cy="218.06" r="1.6" fill="#64a2de" stroke="#27508c" stroke-width="0.55"/>
<circle cx="206.45" cy="208.97" r="1.6" fill="#64a2de" stroke="#27508c" stroke-width="0.55"/>
<circle cx="216.36" cy="213.93" r="1.6" fill="#64a2de" stroke="#27508c" stroke-width="0.55"/>
<circle cx="203.14" cy="208.14" r="1.6" fill="#64a2de" stroke="#27508c" stroke-width="0.55"/>
<line x1="191.24" y1="214.75" x2="236.20" y2="206.49" stroke="#111" stroke-width="1.1"/>
<line x1="302.60" y1="177.00" x2="302.60" y2="264.76" stroke="#222" stroke-width="0.72"/>
<line x1="302.60" y1="264.40" x2="390.50" y2="264.40" stroke="#222" stroke-width="0.72"/>
<line x1="299.80" y1="264.40" x2="302.60" y2="264.40" stroke="#222" stroke-width="0.72"/>
<text x="298.80" y="267.20" font-size="6.8" font-weight="700" stroke="#111" stroke-width="0.2" text-anchor="end">0</text>
<line x1="299.80" y1="237.00" x2="302.60" y2="237.00" stroke="#222" stroke-width="0.72"/>
<text x="298.80" y="239.80" font-size="6.8" font-weight="700" stroke="#111" stroke-width="0.2" text-anchor="end">50</text>
<line x1="299.80" y1="209.60" x2="302.60" y2="209.60" stroke="#222" stroke-width="0.72"/>
<text x="298.80" y="212.40" font-size="6.8" font-weight="700" stroke="#111" stroke-width="0.2" text-anchor="end">100</text>
<line x1="299.80" y1="182.20" x2="302.60" y2="182.20" stroke="#222" stroke-width="0.72"/>
<text x="298.80" y="185.00" font-size="6.8" font-weight="700" stroke="#111" stroke-width="0.2" text-anchor="end">150</text>
<text x="274.70" y="220.70" font-size="7.0" font-weight="700" stroke="#111" stroke-width="0.2" text-anchor="middle" transform="rotate(-90 274.70 220.70)" textLength="80.10" lengthAdjust="spacingAndGlyphs">Free Fatty Acid Release</text>
<text x="282.80" y="221.30" font-size="7.1" text-anchor="middle" transform="rotate(-90 282.80 221.30)" fill="#222" textLength="42.00" lengthAdjust="spacingAndGlyphs">(pmol/mg/2h)</text>
<line x1="310.60" y1="264.40" x2="310.60" y2="267.00" stroke="#222" stroke-width="0.72"/>
<text x="312.80" y="273.80" font-size="6.5" font-weight="700" stroke="#111" stroke-width="0.2" text-anchor="end" transform="rotate(-45 312.80 273.80)">Basal</text>
<circle cx="306.60" cy="235.92" r="0.72" fill="#fff" stroke="#8a8a8a" stroke-width="0.45"/>
<circle cx="308.40" cy="235.77" r="0.72" fill="#fff" stroke="#8a8a8a" stroke-width="0.45"/>
<circle cx="307.01" cy="227.31" r="0.72" fill="#fff" stroke="#8a8a8a" stroke-width="0.45"/>
<circle cx="308.40" cy="241.11" r="0.72" fill="#fff" stroke="#8a8a8a" stroke-width="0.45"/>
<circle cx="307.20" cy="231.09" r="0.72" fill="#fff" stroke="#8a8a8a" stroke-width="0.45"/>
<circle cx="307.20" cy="240.93" r="0.72" fill="#fff" stroke="#8a8a8a" stroke-width="0.45"/>
<circle cx="307.20" cy="225.30" r="0.72" fill="#fff" stroke="#8a8a8a" stroke-width="0.45"/>
<circle cx="307.80" cy="229.48" r="0.72" fill="#fff" stroke="#8a8a8a" stroke-width="0.45"/>
<circle cx="307.20" cy="224.11" r="0.72" fill="#fff" stroke="#8a8a8a" stroke-width="0.45"/>
<circle cx="309.30" cy="232.77" r="0.72" fill="#fff" stroke="#8a8a8a" stroke-width="0.45"/>
<circle cx="306.60" cy="228.57" r="0.72" fill="#fff" stroke="#8a8a8a" stroke-width="0.45"/>
<circle cx="306.00" cy="231.76" r="0.72" fill="#fff" stroke="#8a8a8a" stroke-width="0.45"/>
<circle cx="306.00" cy="233.86" r="0.72" fill="#fff" stroke="#8a8a8a" stroke-width="0.45"/>
<circle cx="307.17" cy="229.75" r="0.72" fill="#fff" stroke="#8a8a8a" stroke-width="0.45"/>
<circle cx="305.40" cy="236.28" r="0.72" fill="#fff" stroke="#8a8a8a" stroke-width="0.45"/>
<circle cx="308.41" cy="232.08" r="0.72" fill="#fff" stroke="#8a8a8a" stroke-width="0.45"/>
<circle cx="308.40" cy="227.18" r="0.72" fill="#fff" stroke="#8a8a8a" stroke-width="0.45"/>
<circle cx="305.65" cy="230.16" r="0.72" fill="#fff" stroke="#8a8a8a" stroke-width="0.45"/>
<circle cx="308.65" cy="232.34" r="0.72" fill="#fff" stroke="#8a8a8a" stroke-width="0.45"/>
<circle cx="308.62" cy="230.15" r="0.72" fill="#fff" stroke="#8a8a8a" stroke-width="0.45"/>
<circle cx="307.00" cy="233.16" r="0.72" fill="#fff" stroke="#8a8a8a" stroke-width="0.45"/>
<circle cx="305.24" cy="229.68" r="0.72" fill="#fff" stroke="#8a8a8a" stroke-width="0.45"/>
<circle cx="309.20" cy="232.86" r="0.72" fill="#fff" stroke="#8a8a8a" stroke-width="0.45"/>
<circle cx="306.93" cy="232.22" r="0.72" fill="#fff" stroke="#8a8a8a" stroke-width="0.45"/>
<circle cx="307.75" cy="232.06" r="0.72" fill="#fff" stroke="#8a8a8a" stroke-width="0.45"/>
<circle cx="307.20" cy="220.99" r="0.72" fill="#fff" stroke="#8a8a8a" stroke-width="0.45"/>
<circle cx="309.09" cy="230.32" r="0.72" fill="#fff" stroke="#8a8a8a" stroke-width="0.45"/>
<circle cx="308.95" cy="229.61" r="0.72" fill="#fff" stroke="#8a8a8a" stroke-width="0.45"/>
<circle cx="306.00" cy="227.28" r="0.72" fill="#fff" stroke="#8a8a8a" stroke-width="0.45"/>
<circle cx="308.40" cy="221.03" r="0.72" fill="#fff" stroke="#8a8a8a" stroke-width="0.45"/>
<circle cx="308.40" cy="231.47" r="0.72" fill="#fff" stroke="#8a8a8a" stroke-width="0.45"/>
<circle cx="307.15" cy="233.33" r="0.72" fill="#fff" stroke="#8a8a8a" stroke-width="0.45"/>
<circle cx="307.20" cy="237.22" r="0.72" fill="#fff" stroke="#8a8a8a" stroke-width="0.45"/>
<circle cx="305.55" cy="232.13" r="0.72" fill="#fff" stroke="#8a8a8a" stroke-width="0.45"/>
<circle cx="306.87" cy="227.32" r="0.72" fill="#fff" stroke="#8a8a8a" stroke-width="0.45"/>
<circle cx="307.20" cy="234.85" r="0.72" fill="#fff" stroke="#8a8a8a" stroke-width="0.45"/>
<circle cx="305.33" cy="227.34" r="0.72" fill="#fff" stroke="#8a8a8a" stroke-width="0.45"/>
<circle cx="308.68" cy="232.85" r="0.72" fill="#fff" stroke="#8a8a8a" stroke-width="0.45"/>
<circle cx="305.73" cy="232.23" r="0.72" fill="#fff" stroke="#8a8a8a" stroke-width="0.45"/>
<circle cx="307.80" cy="228.28" r="0.72" fill="#fff" stroke="#8a8a8a" stroke-width="0.45"/>
<circle cx="305.40" cy="229.38" r="0.72" fill="#fff" stroke="#8a8a8a" stroke-width="0.45"/>
<circle cx="309.00" cy="229.07" r="0.72" fill="#fff" stroke="#8a8a8a" stroke-width="0.45"/>
<circle cx="306.34" cy="232.43" r="0.72" fill="#fff" stroke="#8a8a8a" stroke-width="0.45"/>
<circle cx="306.00" cy="224.42" r="0.72" fill="#fff" stroke="#8a8a8a" stroke-width="0.45"/>
<circle cx="308.40" cy="223.41" r="0.72" fill="#fff" stroke="#8a8a8a" stroke-width="0.45"/>
<circle cx="308.17" cy="230.27" r="0.72" fill="#fff" stroke="#8a8a8a" stroke-width="0.45"/>
<circle cx="307.00" cy="232.53" r="0.72" fill="#fff" stroke="#8a8a8a" stroke-width="0.45"/>
<circle cx="307.20" cy="227.01" r="0.72" fill="#fff" stroke="#8a8a8a" stroke-width="0.45"/>
<circle cx="307.20" cy="212.89" r="0.72" fill="#fff" stroke="#8a8a8a" stroke-width="0.45"/>
<circle cx="307.20" cy="217.27" r="0.72" fill="#fff" stroke="#8a8a8a" stroke-width="0.45"/>
<circle cx="306.00" cy="221.66" r="0.72" fill="#fff" stroke="#8a8a8a" stroke-width="0.45"/>
<circle cx="307.20" cy="222.75" r="0.72" fill="#fff" stroke="#8a8a8a" stroke-width="0.45"/>
<circle cx="315.64" cy="229.82" r="0.68" fill="#3563aa" stroke="#28498a" stroke-width="0.3"/>
<circle cx="313.74" cy="235.23" r="0.68" fill="#3563aa" stroke="#28498a" stroke-width="0.3"/>
<circle cx="312.15" cy="233.16" r="0.68" fill="#3563aa" stroke="#28498a" stroke-width="0.3"/>
<circle cx="315.45" cy="227.78" r="0.68" fill="#3563aa" stroke="#28498a" stroke-width="0.3"/>
<circle cx="312.15" cy="231.86" r="0.68" fill="#3563aa" stroke="#28498a" stroke-width="0.3"/>
<circle cx="314.62" cy="232.69" r="0.68" fill="#3563aa" stroke="#28498a" stroke-width="0.3"/>
<circle cx="312.89" cy="230.76" r="0.68" fill="#3563aa" stroke="#28498a" stroke-width="0.3"/>
<circle cx="314.90" cy="231.64" r="0.68" fill="#3563aa" stroke="#28498a" stroke-width="0.3"/>
<circle cx="314.94" cy="231.53" r="0.68" fill="#3563aa" stroke="#28498a" stroke-width="0.3"/>
<circle cx="315.58" cy="238.40" r="0.68" fill="#3563aa" stroke="#28498a" stroke-width="0.3"/>
<circle cx="314.90" cy="225.29" r="0.68" fill="#3563aa" stroke="#28498a" stroke-width="0.3"/>
<circle cx="314.93" cy="230.81" r="0.68" fill="#3563aa" stroke="#28498a" stroke-width="0.3"/>
<circle cx="314.90" cy="234.64" r="0.68" fill="#3563aa" stroke="#28498a" stroke-width="0.3"/>
<circle cx="313.72" cy="228.03" r="0.68" fill="#3563aa" stroke="#28498a" stroke-width="0.3"/>
<circle cx="313.80" cy="230.42" r="0.68" fill="#3563aa" stroke="#28498a" stroke-width="0.3"/>
<circle cx="313.25" cy="231.46" r="0.68" fill="#3563aa" stroke="#28498a" stroke-width="0.3"/>
<circle cx="312.15" cy="227.79" r="0.68" fill="#3563aa" stroke="#28498a" stroke-width="0.3"/>
<circle cx="313.42" cy="229.55" r="0.68" fill="#3563aa" stroke="#28498a" stroke-width="0.3"/>
<circle cx="313.80" cy="225.87" r="0.68" fill="#3563aa" stroke="#28498a" stroke-width="0.3"/>
<circle cx="312.70" cy="235.16" r="0.68" fill="#3563aa" stroke="#28498a" stroke-width="0.3"/>
<circle cx="312.92" cy="233.38" r="0.68" fill="#3563aa" stroke="#28498a" stroke-width="0.3"/>
<circle cx="312.70" cy="228.75" r="0.68" fill="#3563aa" stroke="#28498a" stroke-width="0.3"/>
<circle cx="314.90" cy="237.60" r="0.68" fill="#3563aa" stroke="#28498a" stroke-width="0.3"/>
<circle cx="313.25" cy="232.47" r="0.68" fill="#3563aa" stroke="#28498a" stroke-width="0.3"/>
<circle cx="314.35" cy="226.91" r="0.68" fill="#3563aa" stroke="#28498a" stroke-width="0.3"/>
<circle cx="314.72" cy="227.80" r="0.68" fill="#3563aa" stroke="#28498a" stroke-width="0.3"/>
<circle cx="314.35" cy="229.46" r="0.68" fill="#3563aa" stroke="#28498a" stroke-width="0.3"/>
<circle cx="313.80" cy="238.27" r="0.68" fill="#3563aa" stroke="#28498a" stroke-width="0.3"/>
<circle cx="312.39" cy="229.56" r="0.68" fill="#3563aa" stroke="#28498a" stroke-width="0.3"/>
<circle cx="312.96" cy="228.79" r="0.68" fill="#3563aa" stroke="#28498a" stroke-width="0.3"/>
<circle cx="315.75" cy="229.76" r="0.68" fill="#3563aa" stroke="#28498a" stroke-width="0.3"/>
<circle cx="312.70" cy="237.63" r="0.68" fill="#3563aa" stroke="#28498a" stroke-width="0.3"/>
<circle cx="315.45" cy="236.63" r="0.68" fill="#3563aa" stroke="#28498a" stroke-width="0.3"/>
<circle cx="314.56" cy="235.85" r="0.68" fill="#3563aa" stroke="#28498a" stroke-width="0.3"/>
<circle cx="313.80" cy="224.69" r="0.68" fill="#3563aa" stroke="#28498a" stroke-width="0.3"/>
<circle cx="313.80" cy="234.48" r="0.68" fill="#3563aa" stroke="#28498a" stroke-width="0.3"/>
<circle cx="314.46" cy="232.38" r="0.68" fill="#3563aa" stroke="#28498a" stroke-width="0.3"/>
<circle cx="314.84" cy="232.43" r="0.68" fill="#3563aa" stroke="#28498a" stroke-width="0.3"/>
<circle cx="315.45" cy="229.49" r="0.68" fill="#3563aa" stroke="#28498a" stroke-width="0.3"/>
<circle cx="313.31" cy="229.74" r="0.68" fill="#3563aa" stroke="#28498a" stroke-width="0.3"/>
<circle cx="312.16" cy="230.57" r="0.68" fill="#3563aa" stroke="#28498a" stroke-width="0.3"/>
<circle cx="312.98" cy="236.01" r="0.68" fill="#3563aa" stroke="#28498a" stroke-width="0.3"/>
<circle cx="315.27" cy="230.93" r="0.68" fill="#3563aa" stroke="#28498a" stroke-width="0.3"/>
<circle cx="313.15" cy="230.57" r="0.68" fill="#3563aa" stroke="#28498a" stroke-width="0.3"/>
<circle cx="313.25" cy="227.14" r="0.68" fill="#3563aa" stroke="#28498a" stroke-width="0.3"/>
<circle cx="314.58" cy="231.89" r="0.68" fill="#3563aa" stroke="#28498a" stroke-width="0.3"/>
<circle cx="315.45" cy="233.70" r="0.68" fill="#3563aa" stroke="#28498a" stroke-width="0.3"/>
<circle cx="314.31" cy="230.06" r="0.68" fill="#3563aa" stroke="#28498a" stroke-width="0.3"/>
<circle cx="313.80" cy="237.06" r="0.68" fill="#3563aa" stroke="#28498a" stroke-width="0.3"/>
<circle cx="314.88" cy="235.23" r="0.68" fill="#3563aa" stroke="#28498a" stroke-width="0.3"/>
<circle cx="313.80" cy="218.92" r="0.68" fill="#3563aa" stroke="#28498a" stroke-width="0.3"/>
<circle cx="313.80" cy="221.11" r="0.68" fill="#3563aa" stroke="#28498a" stroke-width="0.3"/>
<circle cx="313.80" cy="222.20" r="0.68" fill="#3563aa" stroke="#28498a" stroke-width="0.3"/>
<line x1="305.20" y1="230.42" x2="309.20" y2="230.42" stroke="#000" stroke-width="1.5"/>
<line x1="307.20" y1="229.12" x2="307.20" y2="231.72" stroke="#000" stroke-width="2.0"/>
<line x1="306.00" y1="229.12" x2="308.40" y2="229.12" stroke="#000" stroke-width="0.5"/>
<line x1="306.00" y1="231.72" x2="308.40" y2="231.72" stroke="#000" stroke-width="0.5"/>
<line x1="311.80" y1="231.52" x2="315.80" y2="231.52" stroke="#000" stroke-width="1.5"/>
<line x1="313.80" y1="230.22" x2="313.80" y2="232.82" stroke="#000" stroke-width="2.0"/>
<line x1="312.60" y1="230.22" x2="315.00" y2="230.22" stroke="#000" stroke-width="0.5"/>
<line x1="312.60" y1="232.82" x2="315.00" y2="232.82" stroke="#000" stroke-width="0.5"/>
<line x1="328.60" y1="264.40" x2="328.60" y2="267.00" stroke="#222" stroke-width="0.72"/>
<text x="330.80" y="273.80" font-size="6.5" font-weight="700" stroke="#111" stroke-width="0.2" text-anchor="end" transform="rotate(-45 330.80 273.80)">Ins</text>
<circle cx="324.96" cy="238.76" r="0.72" fill="#fff" stroke="#8a8a8a" stroke-width="0.45"/>
<circle cx="323.40" cy="240.03" r="0.72" fill="#fff" stroke="#8a8a8a" stroke-width="0.45"/>
<circle cx="324.60" cy="229.85" r="0.72" fill="#fff" stroke="#8a8a8a" stroke-width="0.45"/>
<circle cx="326.40" cy="234.95" r="0.72" fill="#fff" stroke="#8a8a8a" stroke-width="0.45"/>
<circle cx="324.85" cy="235.38" r="0.72" fill="#fff" stroke="#8a8a8a" stroke-width="0.45"/>
<circle cx="325.60" cy="228.81" r="0.72" fill="#fff" stroke="#8a8a8a" stroke-width="0.45"/>
<circle cx="325.20" cy="243.21" r="0.72" fill="#fff" stroke="#8a8a8a" stroke-width="0.45"/>
<circle cx="324.19" cy="233.49" r="0.72" fill="#fff" stroke="#8a8a8a" stroke-width="0.45"/>
<circle cx="326.38" cy="240.06" r="0.72" fill="#fff" stroke="#8a8a8a" stroke-width="0.45"/>
<circle cx="324.22" cy="241.62" r="0.72" fill="#fff" stroke="#8a8a8a" stroke-width="0.45"/>
<circle cx="324.33" cy="238.99" r="0.72" fill="#fff" stroke="#8a8a8a" stroke-width="0.45"/>
<circle cx="325.80" cy="230.21" r="0.72" fill="#fff" stroke="#8a8a8a" stroke-width="0.45"/>
<circle cx="325.17" cy="235.98" r="0.72" fill="#fff" stroke="#8a8a8a" stroke-width="0.45"/>
<circle cx="326.40" cy="243.56" r="0.72" fill="#fff" stroke="#8a8a8a" stroke-width="0.45"/>
<circle cx="326.57" cy="240.32" r="0.72" fill="#fff" stroke="#8a8a8a" stroke-width="0.45"/>
<circle cx="326.40" cy="228.53" r="0.72" fill="#fff" stroke="#8a8a8a" stroke-width="0.45"/>
<circle cx="323.40" cy="230.78" r="0.72" fill="#fff" stroke="#8a8a8a" stroke-width="0.45"/>
<circle cx="324.60" cy="240.24" r="0.72" fill="#fff" stroke="#8a8a8a" stroke-width="0.45"/>
<circle cx="326.40" cy="237.00" r="0.72" fill="#fff" stroke="#8a8a8a" stroke-width="0.45"/>
<circle cx="324.25" cy="240.70" r="0.72" fill="#fff" stroke="#8a8a8a" stroke-width="0.45"/>
<circle cx="327.23" cy="235.97" r="0.72" fill="#fff" stroke="#8a8a8a" stroke-width="0.45"/>
<circle cx="324.60" cy="231.16" r="0.72" fill="#fff" stroke="#8a8a8a" stroke-width="0.45"/>
<circle cx="325.20" cy="228.14" r="0.72" fill="#fff" stroke="#8a8a8a" stroke-width="0.45"/>
<circle cx="327.00" cy="230.74" r="0.72" fill="#fff" stroke="#8a8a8a" stroke-width="0.45"/>
<circle cx="323.40" cy="237.27" r="0.72" fill="#fff" stroke="#8a8a8a" stroke-width="0.45"/>
<circle cx="323.61" cy="237.87" r="0.72" fill="#fff" stroke="#8a8a8a" stroke-width="0.45"/>
<circle cx="323.75" cy="241.88" r="0.72" fill="#fff" stroke="#8a8a8a" stroke-width="0.45"/>
<circle cx="324.44" cy="235.69" r="0.72" fill="#fff" stroke="#8a8a8a" stroke-width="0.45"/>
<circle cx="327.00" cy="238.03" r="0.72" fill="#fff" stroke="#8a8a8a" stroke-width="0.45"/>
<circle cx="325.20" cy="234.26" r="0.72" fill="#fff" stroke="#8a8a8a" stroke-width="0.45"/>
<circle cx="326.38" cy="241.03" r="0.72" fill="#fff" stroke="#8a8a8a" stroke-width="0.45"/>
<circle cx="325.20" cy="237.67" r="0.72" fill="#fff" stroke="#8a8a8a" stroke-width="0.45"/>
<circle cx="327.00" cy="239.31" r="0.72" fill="#fff" stroke="#8a8a8a" stroke-width="0.45"/>
<circle cx="327.03" cy="240.75" r="0.72" fill="#fff" stroke="#8a8a8a" stroke-width="0.45"/>
<circle cx="325.34" cy="240.67" r="0.72" fill="#fff" stroke="#8a8a8a" stroke-width="0.45"/>
<circle cx="325.80" cy="239.92" r="0.72" fill="#fff" stroke="#8a8a8a" stroke-width="0.45"/>
<circle cx="323.16" cy="240.66" r="0.72" fill="#fff" stroke="#8a8a8a" stroke-width="0.45"/>
<circle cx="325.20" cy="232.81" r="0.72" fill="#fff" stroke="#8a8a8a" stroke-width="0.45"/>
<circle cx="325.18" cy="234.91" r="0.72" fill="#fff" stroke="#8a8a8a" stroke-width="0.45"/>
<circle cx="324.13" cy="241.28" r="0.72" fill="#fff" stroke="#8a8a8a" stroke-width="0.45"/>
<circle cx="326.40" cy="233.06" r="0.72" fill="#fff" stroke="#8a8a8a" stroke-width="0.45"/>
<circle cx="327.22" cy="234.07" r="0.72" fill="#fff" stroke="#8a8a8a" stroke-width="0.45"/>
<circle cx="324.00" cy="228.81" r="0.72" fill="#fff" stroke="#8a8a8a" stroke-width="0.45"/>
<circle cx="324.30" cy="236.23" r="0.72" fill="#fff" stroke="#8a8a8a" stroke-width="0.45"/>
<circle cx="325.10" cy="236.30" r="0.72" fill="#fff" stroke="#8a8a8a" stroke-width="0.45"/>
<circle cx="325.71" cy="238.45" r="0.72" fill="#fff" stroke="#8a8a8a" stroke-width="0.45"/>
<circle cx="324.00" cy="234.80" r="0.72" fill="#fff" stroke="#8a8a8a" stroke-width="0.45"/>
<circle cx="324.00" cy="233.14" r="0.72" fill="#fff" stroke="#8a8a8a" stroke-width="0.45"/>
<circle cx="325.20" cy="221.66" r="0.72" fill="#fff" stroke="#8a8a8a" stroke-width="0.45"/>
<circle cx="325.20" cy="223.30" r="0.72" fill="#fff" stroke="#8a8a8a" stroke-width="0.45"/>
<circle cx="330.27" cy="237.46" r="0.68" fill="#3563aa" stroke="#28498a" stroke-width="0.3"/>
<circle cx="332.78" cy="239.02" r="0.68" fill="#3563aa" stroke="#28498a" stroke-width="0.3"/>
<circle cx="330.70" cy="236.04" r="0.68" fill="#3563aa" stroke="#28498a" stroke-width="0.3"/>
<circle cx="331.93" cy="237.76" r="0.68" fill="#3563aa" stroke="#28498a" stroke-width="0.3"/>
<circle cx="330.70" cy="237.20" r="0.68" fill="#3563aa" stroke="#28498a" stroke-width="0.3"/>
<circle cx="331.73" cy="241.50" r="0.68" fill="#3563aa" stroke="#28498a" stroke-width="0.3"/>
<circle cx="333.45" cy="237.34" r="0.68" fill="#3563aa" stroke="#28498a" stroke-width="0.3"/>
<circle cx="330.15" cy="241.73" r="0.68" fill="#3563aa" stroke="#28498a" stroke-width="0.3"/>
<circle cx="332.10" cy="241.17" r="0.68" fill="#3563aa" stroke="#28498a" stroke-width="0.3"/>
<circle cx="332.84" cy="237.51" r="0.68" fill="#3563aa" stroke="#28498a" stroke-width="0.3"/>
<circle cx="331.80" cy="234.46" r="0.68" fill="#3563aa" stroke="#28498a" stroke-width="0.3"/>
<circle cx="330.99" cy="238.08" r="0.68" fill="#3563aa" stroke="#28498a" stroke-width="0.3"/>
<circle cx="331.66" cy="238.75" r="0.68" fill="#3563aa" stroke="#28498a" stroke-width="0.3"/>
<circle cx="330.70" cy="234.50" r="0.68" fill="#3563aa" stroke="#28498a" stroke-width="0.3"/>
<circle cx="331.80" cy="233.06" r="0.68" fill="#3563aa" stroke="#28498a" stroke-width="0.3"/>
<circle cx="332.90" cy="233.65" r="0.68" fill="#3563aa" stroke="#28498a" stroke-width="0.3"/>
<circle cx="331.24" cy="238.77" r="0.68" fill="#3563aa" stroke="#28498a" stroke-width="0.3"/>
<circle cx="332.77" cy="237.41" r="0.68" fill="#3563aa" stroke="#28498a" stroke-width="0.3"/>
<circle cx="329.95" cy="239.30" r="0.68" fill="#3563aa" stroke="#28498a" stroke-width="0.3"/>
<circle cx="332.16" cy="239.14" r="0.68" fill="#3563aa" stroke="#28498a" stroke-width="0.3"/>
<circle cx="332.63" cy="241.21" r="0.68" fill="#3563aa" stroke="#28498a" stroke-width="0.3"/>
<circle cx="330.15" cy="239.01" r="0.68" fill="#3563aa" stroke="#28498a" stroke-width="0.3"/>
<circle cx="331.34" cy="242.47" r="0.68" fill="#3563aa" stroke="#28498a" stroke-width="0.3"/>
<circle cx="331.80" cy="236.55" r="0.68" fill="#3563aa" stroke="#28498a" stroke-width="0.3"/>
<circle cx="332.33" cy="241.47" r="0.68" fill="#3563aa" stroke="#28498a" stroke-width="0.3"/>
<circle cx="333.45" cy="236.13" r="0.68" fill="#3563aa" stroke="#28498a" stroke-width="0.3"/>
<circle cx="331.37" cy="242.81" r="0.68" fill="#3563aa" stroke="#28498a" stroke-width="0.3"/>
<circle cx="331.62" cy="239.44" r="0.68" fill="#3563aa" stroke="#28498a" stroke-width="0.3"/>
<circle cx="332.22" cy="236.65" r="0.68" fill="#3563aa" stroke="#28498a" stroke-width="0.3"/>
<circle cx="333.45" cy="241.88" r="0.68" fill="#3563aa" stroke="#28498a" stroke-width="0.3"/>
<circle cx="332.91" cy="240.70" r="0.68" fill="#3563aa" stroke="#28498a" stroke-width="0.3"/>
<circle cx="330.70" cy="240.58" r="0.68" fill="#3563aa" stroke="#28498a" stroke-width="0.3"/>
<circle cx="329.86" cy="240.67" r="0.68" fill="#3563aa" stroke="#28498a" stroke-width="0.3"/>
<circle cx="331.98" cy="240.19" r="0.68" fill="#3563aa" stroke="#28498a" stroke-width="0.3"/>
<circle cx="331.14" cy="237.97" r="0.68" fill="#3563aa" stroke="#28498a" stroke-width="0.3"/>
<circle cx="331.92" cy="238.19" r="0.68" fill="#3563aa" stroke="#28498a" stroke-width="0.3"/>
<circle cx="333.76" cy="234.51" r="0.68" fill="#3563aa" stroke="#28498a" stroke-width="0.3"/>
<circle cx="331.70" cy="235.21" r="0.68" fill="#3563aa" stroke="#28498a" stroke-width="0.3"/>
<circle cx="333.47" cy="239.57" r="0.68" fill="#3563aa" stroke="#28498a" stroke-width="0.3"/>
<circle cx="330.81" cy="239.39" r="0.68" fill="#3563aa" stroke="#28498a" stroke-width="0.3"/>
<circle cx="332.90" cy="243.25" r="0.68" fill="#3563aa" stroke="#28498a" stroke-width="0.3"/>
<circle cx="330.15" cy="243.55" r="0.68" fill="#3563aa" stroke="#28498a" stroke-width="0.3"/>
<circle cx="331.51" cy="240.79" r="0.68" fill="#3563aa" stroke="#28498a" stroke-width="0.3"/>
<circle cx="332.38" cy="235.43" r="0.68" fill="#3563aa" stroke="#28498a" stroke-width="0.3"/>
<circle cx="331.00" cy="237.66" r="0.68" fill="#3563aa" stroke="#28498a" stroke-width="0.3"/>
<circle cx="332.23" cy="235.17" r="0.68" fill="#3563aa" stroke="#28498a" stroke-width="0.3"/>
<circle cx="330.97" cy="234.67" r="0.68" fill="#3563aa" stroke="#28498a" stroke-width="0.3"/>
<circle cx="332.90" cy="238.70" r="0.68" fill="#3563aa" stroke="#28498a" stroke-width="0.3"/>
<circle cx="331.80" cy="230.44" r="0.68" fill="#3563aa" stroke="#28498a" stroke-width="0.3"/>
<circle cx="333.35" cy="240.00" r="0.68" fill="#3563aa" stroke="#28498a" stroke-width="0.3"/>
<circle cx="331.80" cy="224.94" r="0.68" fill="#3563aa" stroke="#28498a" stroke-width="0.3"/>
<circle cx="331.80" cy="227.14" r="0.68" fill="#3563aa" stroke="#28498a" stroke-width="0.3"/>
<circle cx="331.80" cy="228.23" r="0.68" fill="#3563aa" stroke="#28498a" stroke-width="0.3"/>
<line x1="323.20" y1="235.36" x2="327.20" y2="235.36" stroke="#000" stroke-width="1.5"/>
<line x1="325.20" y1="234.06" x2="325.20" y2="236.66" stroke="#000" stroke-width="2.0"/>
<line x1="324.00" y1="234.06" x2="326.40" y2="234.06" stroke="#000" stroke-width="0.5"/>
<line x1="324.00" y1="236.66" x2="326.40" y2="236.66" stroke="#000" stroke-width="0.5"/>
<line x1="329.80" y1="238.10" x2="333.80" y2="238.10" stroke="#000" stroke-width="1.5"/>
<line x1="331.80" y1="236.80" x2="331.80" y2="239.40" stroke="#000" stroke-width="2.0"/>
<line x1="330.60" y1="236.80" x2="333.00" y2="236.80" stroke="#000" stroke-width="0.5"/>
<line x1="330.60" y1="239.40" x2="333.00" y2="239.40" stroke="#000" stroke-width="0.5"/>
<line x1="346.60" y1="264.40" x2="346.60" y2="267.00" stroke="#222" stroke-width="0.72"/>
<text x="348.80" y="273.80" font-size="6.5" font-weight="700" stroke="#111" stroke-width="0.2" text-anchor="end" transform="rotate(-45 348.80 273.80)">Mid Iso</text>
<circle cx="344.40" cy="223.11" r="0.72" fill="#fff" stroke="#8a8a8a" stroke-width="0.45"/>
<circle cx="344.21" cy="228.69" r="0.72" fill="#fff" stroke="#8a8a8a" stroke-width="0.45"/>
<circle cx="342.76" cy="228.76" r="0.72" fill="#fff" stroke="#8a8a8a" stroke-width="0.45"/>
<circle cx="344.40" cy="214.62" r="0.72" fill="#fff" stroke="#8a8a8a" stroke-width="0.45"/>
<circle cx="342.00" cy="215.00" r="0.72" fill="#fff" stroke="#8a8a8a" stroke-width="0.45"/>
<circle cx="344.40" cy="220.87" r="0.72" fill="#fff" stroke="#8a8a8a" stroke-width="0.45"/>
<circle cx="344.68" cy="227.68" r="0.72" fill="#fff" stroke="#8a8a8a" stroke-width="0.45"/>
<circle cx="344.40" cy="231.53" r="0.72" fill="#fff" stroke="#8a8a8a" stroke-width="0.45"/>
<circle cx="343.27" cy="227.87" r="0.72" fill="#fff" stroke="#8a8a8a" stroke-width="0.45"/>
<circle cx="343.72" cy="215.26" r="0.72" fill="#fff" stroke="#8a8a8a" stroke-width="0.45"/>
<circle cx="343.20" cy="222.66" r="0.72" fill="#fff" stroke="#8a8a8a" stroke-width="0.45"/>
<circle cx="343.80" cy="227.27" r="0.72" fill="#fff" stroke="#8a8a8a" stroke-width="0.45"/>
<circle cx="343.20" cy="233.03" r="0.72" fill="#fff" stroke="#8a8a8a" stroke-width="0.45"/>
<circle cx="345.00" cy="224.46" r="0.72" fill="#fff" stroke="#8a8a8a" stroke-width="0.45"/>
<circle cx="343.20" cy="230.89" r="0.72" fill="#fff" stroke="#8a8a8a" stroke-width="0.45"/>
<circle cx="342.60" cy="225.41" r="0.72" fill="#fff" stroke="#8a8a8a" stroke-width="0.45"/>
<circle cx="342.59" cy="220.93" r="0.72" fill="#fff" stroke="#8a8a8a" stroke-width="0.45"/>
<circle cx="344.40" cy="218.91" r="0.72" fill="#fff" stroke="#8a8a8a" stroke-width="0.45"/>
<circle cx="343.82" cy="224.63" r="0.72" fill="#fff" stroke="#8a8a8a" stroke-width="0.45"/>
<circle cx="342.92" cy="227.59" r="0.72" fill="#fff" stroke="#8a8a8a" stroke-width="0.45"/>
<circle cx="341.67" cy="224.10" r="0.72" fill="#fff" stroke="#8a8a8a" stroke-width="0.45"/>
<circle cx="343.20" cy="214.42" r="0.72" fill="#fff" stroke="#8a8a8a" stroke-width="0.45"/>
<circle cx="342.50" cy="223.18" r="0.72" fill="#fff" stroke="#8a8a8a" stroke-width="0.45"/>
<circle cx="343.80" cy="234.09" r="0.72" fill="#fff" stroke="#8a8a8a" stroke-width="0.45"/>
<circle cx="345.00" cy="215.96" r="0.72" fill="#fff" stroke="#8a8a8a" stroke-width="0.45"/>
<circle cx="342.72" cy="223.95" r="0.72" fill="#fff" stroke="#8a8a8a" stroke-width="0.45"/>
<circle cx="342.00" cy="228.37" r="0.72" fill="#fff" stroke="#8a8a8a" stroke-width="0.45"/>
<circle cx="343.80" cy="226.07" r="0.72" fill="#fff" stroke="#8a8a8a" stroke-width="0.45"/>
<circle cx="344.48" cy="227.31" r="0.72" fill="#fff" stroke="#8a8a8a" stroke-width="0.45"/>
<circle cx="342.00" cy="223.17" r="0.72" fill="#fff" stroke="#8a8a8a" stroke-width="0.45"/>
<circle cx="341.51" cy="229.04" r="0.72" fill="#fff" stroke="#8a8a8a" stroke-width="0.45"/>
<circle cx="345.00" cy="234.55" r="0.72" fill="#fff" stroke="#8a8a8a" stroke-width="0.45"/>
<circle cx="343.20" cy="237.28" r="0.72" fill="#fff" stroke="#8a8a8a" stroke-width="0.45"/>
<circle cx="345.00" cy="226.25" r="0.72" fill="#fff" stroke="#8a8a8a" stroke-width="0.45"/>
<circle cx="343.51" cy="228.64" r="0.72" fill="#fff" stroke="#8a8a8a" stroke-width="0.45"/>
<circle cx="341.24" cy="229.05" r="0.72" fill="#fff" stroke="#8a8a8a" stroke-width="0.45"/>
<circle cx="343.20" cy="212.49" r="0.72" fill="#fff" stroke="#8a8a8a" stroke-width="0.45"/>
<circle cx="343.20" cy="220.61" r="0.72" fill="#fff" stroke="#8a8a8a" stroke-width="0.45"/>
<circle cx="343.20" cy="218.80" r="0.72" fill="#fff" stroke="#8a8a8a" stroke-width="0.45"/>
<circle cx="343.59" cy="228.56" r="0.72" fill="#fff" stroke="#8a8a8a" stroke-width="0.45"/>
<circle cx="342.56" cy="223.65" r="0.72" fill="#fff" stroke="#8a8a8a" stroke-width="0.45"/>
<circle cx="341.40" cy="226.78" r="0.72" fill="#fff" stroke="#8a8a8a" stroke-width="0.45"/>
<circle cx="342.60" cy="226.74" r="0.72" fill="#fff" stroke="#8a8a8a" stroke-width="0.45"/>
<circle cx="342.00" cy="220.91" r="0.72" fill="#fff" stroke="#8a8a8a" stroke-width="0.45"/>
<circle cx="342.09" cy="221.79" r="0.72" fill="#fff" stroke="#8a8a8a" stroke-width="0.45"/>
<circle cx="343.68" cy="223.63" r="0.72" fill="#fff" stroke="#8a8a8a" stroke-width="0.45"/>
<circle cx="344.59" cy="224.58" r="0.72" fill="#fff" stroke="#8a8a8a" stroke-width="0.45"/>
<circle cx="342.60" cy="234.33" r="0.72" fill="#fff" stroke="#8a8a8a" stroke-width="0.45"/>
<circle cx="343.20" cy="184.39" r="0.72" fill="#fff" stroke="#8a8a8a" stroke-width="0.45"/>
<circle cx="343.20" cy="204.12" r="0.72" fill="#fff" stroke="#8a8a8a" stroke-width="0.45"/>
<circle cx="343.20" cy="206.86" r="0.72" fill="#fff" stroke="#8a8a8a" stroke-width="0.45"/>
<circle cx="348.41" cy="232.75" r="0.68" fill="#3563aa" stroke="#28498a" stroke-width="0.3"/>
<circle cx="350.84" cy="225.89" r="0.68" fill="#3563aa" stroke="#28498a" stroke-width="0.3"/>
<circle cx="348.42" cy="230.47" r="0.68" fill="#3563aa" stroke="#28498a" stroke-width="0.3"/>
<circle cx="350.35" cy="233.00" r="0.68" fill="#3563aa" stroke="#28498a" stroke-width="0.3"/>
<circle cx="347.80" cy="226.05" r="0.68" fill="#3563aa" stroke="#28498a" stroke-width="0.3"/>
<circle cx="351.45" cy="233.88" r="0.68" fill="#3563aa" stroke="#28498a" stroke-width="0.3"/>
<circle cx="351.32" cy="232.35" r="0.68" fill="#3563aa" stroke="#28498a" stroke-width="0.3"/>
<circle cx="350.90" cy="222.83" r="0.68" fill="#3563aa" stroke="#28498a" stroke-width="0.3"/>
<circle cx="348.70" cy="230.43" r="0.68" fill="#3563aa" stroke="#28498a" stroke-width="0.3"/>
<circle cx="348.61" cy="219.48" r="0.68" fill="#3563aa" stroke="#28498a" stroke-width="0.3"/>
<circle cx="350.90" cy="225.03" r="0.68" fill="#3563aa" stroke="#28498a" stroke-width="0.3"/>
<circle cx="348.70" cy="223.27" r="0.68" fill="#3563aa" stroke="#28498a" stroke-width="0.3"/>
<circle cx="351.45" cy="221.31" r="0.68" fill="#3563aa" stroke="#28498a" stroke-width="0.3"/>
<circle cx="349.80" cy="241.46" r="0.68" fill="#3563aa" stroke="#28498a" stroke-width="0.3"/>
<circle cx="348.20" cy="228.72" r="0.68" fill="#3563aa" stroke="#28498a" stroke-width="0.3"/>
<circle cx="349.80" cy="236.13" r="0.68" fill="#3563aa" stroke="#28498a" stroke-width="0.3"/>
<circle cx="349.30" cy="231.07" r="0.68" fill="#3563aa" stroke="#28498a" stroke-width="0.3"/>
<circle cx="351.45" cy="228.87" r="0.68" fill="#3563aa" stroke="#28498a" stroke-width="0.3"/>
<circle cx="349.25" cy="220.62" r="0.68" fill="#3563aa" stroke="#28498a" stroke-width="0.3"/>
<circle cx="350.35" cy="228.50" r="0.68" fill="#3563aa" stroke="#28498a" stroke-width="0.3"/>
<circle cx="349.80" cy="218.19" r="0.68" fill="#3563aa" stroke="#28498a" stroke-width="0.3"/>
<circle cx="350.90" cy="231.44" r="0.68" fill="#3563aa" stroke="#28498a" stroke-width="0.3"/>
<circle cx="349.66" cy="228.58" r="0.68" fill="#3563aa" stroke="#28498a" stroke-width="0.3"/>
<circle cx="351.45" cy="227.66" r="0.68" fill="#3563aa" stroke="#28498a" stroke-width="0.3"/>
<circle cx="349.80" cy="222.45" r="0.68" fill="#3563aa" stroke="#28498a" stroke-width="0.3"/>
<circle cx="348.70" cy="228.55" r="0.68" fill="#3563aa" stroke="#28498a" stroke-width="0.3"/>
<circle cx="349.34" cy="232.01" r="0.68" fill="#3563aa" stroke="#28498a" stroke-width="0.3"/>
<circle cx="350.90" cy="230.24" r="0.68" fill="#3563aa" stroke="#28498a" stroke-width="0.3"/>
<circle cx="350.90" cy="236.79" r="0.68" fill="#3563aa" stroke="#28498a" stroke-width="0.3"/>
<circle cx="350.35" cy="220.53" r="0.68" fill="#3563aa" stroke="#28498a" stroke-width="0.3"/>
<circle cx="349.80" cy="223.66" r="0.68" fill="#3563aa" stroke="#28498a" stroke-width="0.3"/>
<circle cx="349.72" cy="225.62" r="0.68" fill="#3563aa" stroke="#28498a" stroke-width="0.3"/>
<circle cx="351.36" cy="226.54" r="0.68" fill="#3563aa" stroke="#28498a" stroke-width="0.3"/>
<circle cx="348.15" cy="231.93" r="0.68" fill="#3563aa" stroke="#28498a" stroke-width="0.3"/>
<circle cx="348.44" cy="230.71" r="0.68" fill="#3563aa" stroke="#28498a" stroke-width="0.3"/>
<circle cx="351.36" cy="223.30" r="0.68" fill="#3563aa" stroke="#28498a" stroke-width="0.3"/>
<circle cx="348.91" cy="233.05" r="0.68" fill="#3563aa" stroke="#28498a" stroke-width="0.3"/>
<circle cx="348.82" cy="233.01" r="0.68" fill="#3563aa" stroke="#28498a" stroke-width="0.3"/>
<circle cx="350.90" cy="218.60" r="0.68" fill="#3563aa" stroke="#28498a" stroke-width="0.3"/>
<circle cx="348.70" cy="218.71" r="0.68" fill="#3563aa" stroke="#28498a" stroke-width="0.3"/>
<circle cx="349.68" cy="226.45" r="0.68" fill="#3563aa" stroke="#28498a" stroke-width="0.3"/>
<circle cx="349.80" cy="224.98" r="0.68" fill="#3563aa" stroke="#28498a" stroke-width="0.3"/>
<circle cx="348.70" cy="227.09" r="0.68" fill="#3563aa" stroke="#28498a" stroke-width="0.3"/>
<circle cx="347.96" cy="219.53" r="0.68" fill="#3563aa" stroke="#28498a" stroke-width="0.3"/>
<circle cx="349.80" cy="230.94" r="0.68" fill="#3563aa" stroke="#28498a" stroke-width="0.3"/>
<circle cx="349.51" cy="227.73" r="0.68" fill="#3563aa" stroke="#28498a" stroke-width="0.3"/>
<circle cx="348.70" cy="225.28" r="0.68" fill="#3563aa" stroke="#28498a" stroke-width="0.3"/>
<circle cx="349.80" cy="219.45" r="0.68" fill="#3563aa" stroke="#28498a" stroke-width="0.3"/>
<circle cx="349.80" cy="229.75" r="0.68" fill="#3563aa" stroke="#28498a" stroke-width="0.3"/>
<circle cx="350.28" cy="226.81" r="0.68" fill="#3563aa" stroke="#28498a" stroke-width="0.3"/>
<circle cx="349.80" cy="205.76" r="0.68" fill="#3563aa" stroke="#28498a" stroke-width="0.3"/>
<circle cx="349.80" cy="209.60" r="0.68" fill="#3563aa" stroke="#28498a" stroke-width="0.3"/>
<line x1="341.20" y1="225.49" x2="345.20" y2="225.49" stroke="#000" stroke-width="1.5"/>
<line x1="343.20" y1="224.19" x2="343.20" y2="226.79" stroke="#000" stroke-width="2.0"/>
<line x1="342.00" y1="224.19" x2="344.40" y2="224.19" stroke="#000" stroke-width="0.5"/>
<line x1="342.00" y1="226.79" x2="344.40" y2="226.79" stroke="#000" stroke-width="0.5"/>
<line x1="347.80" y1="228.23" x2="351.80" y2="228.23" stroke="#000" stroke-width="1.5"/>
<line x1="349.80" y1="226.93" x2="349.80" y2="229.53" stroke="#000" stroke-width="2.0"/>
<line x1="348.60" y1="226.93" x2="351.00" y2="226.93" stroke="#000" stroke-width="0.5"/>
<line x1="348.60" y1="229.53" x2="351.00" y2="229.53" stroke="#000" stroke-width="0.5"/>
<line x1="364.40" y1="264.40" x2="364.40" y2="267.00" stroke="#222" stroke-width="0.72"/>
<text x="366.60" y="273.80" font-size="6.5" font-weight="700" stroke="#111" stroke-width="0.2" text-anchor="end" transform="rotate(-45 366.60 273.80)">Max Iso</text>
<circle cx="361.60" cy="214.77" r="0.72" fill="#fff" stroke="#8a8a8a" stroke-width="0.45"/>
<circle cx="362.20" cy="208.15" r="0.72" fill="#fff" stroke="#8a8a8a" stroke-width="0.45"/>
<circle cx="361.00" cy="206.27" r="0.72" fill="#fff" stroke="#8a8a8a" stroke-width="0.45"/>
<circle cx="360.67" cy="210.48" r="0.72" fill="#fff" stroke="#8a8a8a" stroke-width="0.45"/>
<circle cx="361.00" cy="203.11" r="0.72" fill="#fff" stroke="#8a8a8a" stroke-width="0.45"/>
<circle cx="361.00" cy="195.38" r="0.72" fill="#fff" stroke="#8a8a8a" stroke-width="0.45"/>
<circle cx="361.00" cy="208.00" r="0.72" fill="#fff" stroke="#8a8a8a" stroke-width="0.45"/>
<circle cx="362.20" cy="222.66" r="0.72" fill="#fff" stroke="#8a8a8a" stroke-width="0.45"/>
<circle cx="361.00" cy="198.93" r="0.72" fill="#fff" stroke="#8a8a8a" stroke-width="0.45"/>
<circle cx="362.80" cy="215.31" r="0.72" fill="#fff" stroke="#8a8a8a" stroke-width="0.45"/>
<circle cx="361.00" cy="221.10" r="0.72" fill="#fff" stroke="#8a8a8a" stroke-width="0.45"/>
<circle cx="361.00" cy="228.15" r="0.72" fill="#fff" stroke="#8a8a8a" stroke-width="0.45"/>
<circle cx="359.80" cy="208.21" r="0.72" fill="#fff" stroke="#8a8a8a" stroke-width="0.45"/>
<circle cx="362.20" cy="203.43" r="0.72" fill="#fff" stroke="#8a8a8a" stroke-width="0.45"/>
<circle cx="359.80" cy="204.10" r="0.72" fill="#fff" stroke="#8a8a8a" stroke-width="0.45"/>
<circle cx="360.40" cy="213.97" r="0.72" fill="#fff" stroke="#8a8a8a" stroke-width="0.45"/>
<circle cx="361.60" cy="200.92" r="0.72" fill="#fff" stroke="#8a8a8a" stroke-width="0.45"/>
<circle cx="359.20" cy="211.80" r="0.72" fill="#fff" stroke="#8a8a8a" stroke-width="0.45"/>
<circle cx="359.20" cy="215.46" r="0.72" fill="#fff" stroke="#8a8a8a" stroke-width="0.45"/>
<circle cx="362.20" cy="210.76" r="0.72" fill="#fff" stroke="#8a8a8a" stroke-width="0.45"/>
<circle cx="361.60" cy="209.72" r="0.72" fill="#fff" stroke="#8a8a8a" stroke-width="0.45"/>
<circle cx="360.22" cy="210.89" r="0.72" fill="#fff" stroke="#8a8a8a" stroke-width="0.45"/>
<circle cx="359.10" cy="208.39" r="0.72" fill="#fff" stroke="#8a8a8a" stroke-width="0.45"/>
<circle cx="362.20" cy="226.86" r="0.72" fill="#fff" stroke="#8a8a8a" stroke-width="0.45"/>
<circle cx="360.40" cy="200.06" r="0.72" fill="#fff" stroke="#8a8a8a" stroke-width="0.45"/>
<circle cx="360.40" cy="215.30" r="0.72" fill="#fff" stroke="#8a8a8a" stroke-width="0.45"/>
<circle cx="362.20" cy="206.60" r="0.72" fill="#fff" stroke="#8a8a8a" stroke-width="0.45"/>
<circle cx="360.40" cy="216.94" r="0.72" fill="#fff" stroke="#8a8a8a" stroke-width="0.45"/>
<circle cx="359.20" cy="210.08" r="0.72" fill="#fff" stroke="#8a8a8a" stroke-width="0.45"/>
<circle cx="362.80" cy="212.50" r="0.72" fill="#fff" stroke="#8a8a8a" stroke-width="0.45"/>
<circle cx="361.00" cy="222.51" r="0.72" fill="#fff" stroke="#8a8a8a" stroke-width="0.45"/>
<circle cx="359.74" cy="208.51" r="0.72" fill="#fff" stroke="#8a8a8a" stroke-width="0.45"/>
<circle cx="361.84" cy="206.72" r="0.72" fill="#fff" stroke="#8a8a8a" stroke-width="0.45"/>
<circle cx="361.00" cy="219.19" r="0.72" fill="#fff" stroke="#8a8a8a" stroke-width="0.45"/>
<circle cx="361.00" cy="226.18" r="0.72" fill="#fff" stroke="#8a8a8a" stroke-width="0.45"/>
<circle cx="361.24" cy="215.85" r="0.72" fill="#fff" stroke="#8a8a8a" stroke-width="0.45"/>
<circle cx="361.60" cy="217.24" r="0.72" fill="#fff" stroke="#8a8a8a" stroke-width="0.45"/>
<circle cx="359.31" cy="210.45" r="0.72" fill="#fff" stroke="#8a8a8a" stroke-width="0.45"/>
<circle cx="362.06" cy="211.37" r="0.72" fill="#fff" stroke="#8a8a8a" stroke-width="0.45"/>
<circle cx="362.20" cy="199.76" r="0.72" fill="#fff" stroke="#8a8a8a" stroke-width="0.45"/>
<circle cx="359.80" cy="206.62" r="0.72" fill="#fff" stroke="#8a8a8a" stroke-width="0.45"/>
<circle cx="361.60" cy="213.07" r="0.72" fill="#fff" stroke="#8a8a8a" stroke-width="0.45"/>
<circle cx="360.47" cy="210.09" r="0.72" fill="#fff" stroke="#8a8a8a" stroke-width="0.45"/>
<circle cx="362.80" cy="217.69" r="0.72" fill="#fff" stroke="#8a8a8a" stroke-width="0.45"/>
<circle cx="359.20" cy="217.81" r="0.72" fill="#fff" stroke="#8a8a8a" stroke-width="0.45"/>
<circle cx="361.00" cy="212.03" r="0.72" fill="#fff" stroke="#8a8a8a" stroke-width="0.45"/>
<circle cx="360.10" cy="208.97" r="0.72" fill="#fff" stroke="#8a8a8a" stroke-width="0.45"/>
<circle cx="362.80" cy="209.72" r="0.72" fill="#fff" stroke="#8a8a8a" stroke-width="0.45"/>
<circle cx="361.00" cy="193.16" r="0.72" fill="#fff" stroke="#8a8a8a" stroke-width="0.45"/>
<circle cx="368.64" cy="209.51" r="0.68" fill="#3563aa" stroke="#28498a" stroke-width="0.3"/>
<circle cx="366.74" cy="221.09" r="0.68" fill="#3563aa" stroke="#28498a" stroke-width="0.3"/>
<circle cx="366.67" cy="214.00" r="0.68" fill="#3563aa" stroke="#28498a" stroke-width="0.3"/>
<circle cx="368.30" cy="217.11" r="0.68" fill="#3563aa" stroke="#28498a" stroke-width="0.3"/>
<circle cx="366.28" cy="216.08" r="0.68" fill="#3563aa" stroke="#28498a" stroke-width="0.3"/>
<circle cx="368.40" cy="213.89" r="0.68" fill="#3563aa" stroke="#28498a" stroke-width="0.3"/>
<circle cx="367.60" cy="218.18" r="0.68" fill="#3563aa" stroke="#28498a" stroke-width="0.3"/>
<circle cx="365.86" cy="214.67" r="0.68" fill="#3563aa" stroke="#28498a" stroke-width="0.3"/>
<circle cx="368.15" cy="216.42" r="0.68" fill="#3563aa" stroke="#28498a" stroke-width="0.3"/>
<circle cx="368.70" cy="208.89" r="0.68" fill="#3563aa" stroke="#28498a" stroke-width="0.3"/>
<circle cx="369.25" cy="216.97" r="0.68" fill="#3563aa" stroke="#28498a" stroke-width="0.3"/>
<circle cx="368.85" cy="214.00" r="0.68" fill="#3563aa" stroke="#28498a" stroke-width="0.3"/>
<circle cx="367.60" cy="197.69" r="0.68" fill="#3563aa" stroke="#28498a" stroke-width="0.3"/>
<circle cx="367.37" cy="211.72" r="0.68" fill="#3563aa" stroke="#28498a" stroke-width="0.3"/>
<circle cx="365.95" cy="212.53" r="0.68" fill="#3563aa" stroke="#28498a" stroke-width="0.3"/>
<circle cx="367.60" cy="208.51" r="0.68" fill="#3563aa" stroke="#28498a" stroke-width="0.3"/>
<circle cx="368.70" cy="223.35" r="0.68" fill="#3563aa" stroke="#28498a" stroke-width="0.3"/>
<circle cx="369.25" cy="211.13" r="0.68" fill="#3563aa" stroke="#28498a" stroke-width="0.3"/>
<circle cx="368.15" cy="210.84" r="0.68" fill="#3563aa" stroke="#28498a" stroke-width="0.3"/>
<circle cx="367.60" cy="213.05" r="0.68" fill="#3563aa" stroke="#28498a" stroke-width="0.3"/>
<circle cx="368.22" cy="209.25" r="0.68" fill="#3563aa" stroke="#28498a" stroke-width="0.3"/>
<circle cx="367.05" cy="210.59" r="0.68" fill="#3563aa" stroke="#28498a" stroke-width="0.3"/>
<circle cx="368.70" cy="207.71" r="0.68" fill="#3563aa" stroke="#28498a" stroke-width="0.3"/>
<circle cx="366.50" cy="220.74" r="0.68" fill="#3563aa" stroke="#28498a" stroke-width="0.3"/>
<circle cx="368.22" cy="213.10" r="0.68" fill="#3563aa" stroke="#28498a" stroke-width="0.3"/>
<circle cx="367.60" cy="220.05" r="0.68" fill="#3563aa" stroke="#28498a" stroke-width="0.3"/>
<circle cx="367.60" cy="207.36" r="0.68" fill="#3563aa" stroke="#28498a" stroke-width="0.3"/>
<circle cx="367.60" cy="215.21" r="0.68" fill="#3563aa" stroke="#28498a" stroke-width="0.3"/>
<circle cx="368.70" cy="225.42" r="0.68" fill="#3563aa" stroke="#28498a" stroke-width="0.3"/>
<circle cx="368.70" cy="215.39" r="0.68" fill="#3563aa" stroke="#28498a" stroke-width="0.3"/>
<circle cx="367.60" cy="223.30" r="0.68" fill="#3563aa" stroke="#28498a" stroke-width="0.3"/>
<circle cx="369.18" cy="209.19" r="0.68" fill="#3563aa" stroke="#28498a" stroke-width="0.3"/>
<circle cx="368.70" cy="218.58" r="0.68" fill="#3563aa" stroke="#28498a" stroke-width="0.3"/>
<circle cx="366.50" cy="218.93" r="0.68" fill="#3563aa" stroke="#28498a" stroke-width="0.3"/>
<circle cx="366.50" cy="208.90" r="0.68" fill="#3563aa" stroke="#28498a" stroke-width="0.3"/>
<circle cx="368.51" cy="213.83" r="0.68" fill="#3563aa" stroke="#28498a" stroke-width="0.3"/>
<circle cx="368.70" cy="220.68" r="0.68" fill="#3563aa" stroke="#28498a" stroke-width="0.3"/>
<circle cx="366.50" cy="211.57" r="0.68" fill="#3563aa" stroke="#28498a" stroke-width="0.3"/>
<circle cx="368.70" cy="212.08" r="0.68" fill="#3563aa" stroke="#28498a" stroke-width="0.3"/>
<circle cx="367.60" cy="205.73" r="0.68" fill="#3563aa" stroke="#28498a" stroke-width="0.3"/>
<circle cx="367.90" cy="209.76" r="0.68" fill="#3563aa" stroke="#28498a" stroke-width="0.3"/>
<circle cx="366.50" cy="213.57" r="0.68" fill="#3563aa" stroke="#28498a" stroke-width="0.3"/>
<circle cx="367.60" cy="221.77" r="0.68" fill="#3563aa" stroke="#28498a" stroke-width="0.3"/>
<circle cx="366.12" cy="214.16" r="0.68" fill="#3563aa" stroke="#28498a" stroke-width="0.3"/>
<circle cx="367.13" cy="214.03" r="0.68" fill="#3563aa" stroke="#28498a" stroke-width="0.3"/>
<circle cx="366.50" cy="216.08" r="0.68" fill="#3563aa" stroke="#28498a" stroke-width="0.3"/>
<circle cx="369.42" cy="213.19" r="0.68" fill="#3563aa" stroke="#28498a" stroke-width="0.3"/>
<circle cx="367.60" cy="224.60" r="0.68" fill="#3563aa" stroke="#28498a" stroke-width="0.3"/>
<circle cx="368.87" cy="212.13" r="0.68" fill="#3563aa" stroke="#28498a" stroke-width="0.3"/>
<circle cx="366.65" cy="216.10" r="0.68" fill="#3563aa" stroke="#28498a" stroke-width="0.3"/>
<circle cx="367.60" cy="182.20" r="0.68" fill="#3563aa" stroke="#28498a" stroke-width="0.3"/>
<circle cx="367.60" cy="186.04" r="0.68" fill="#3563aa" stroke="#28498a" stroke-width="0.3"/>
<circle cx="367.60" cy="188.78" r="0.68" fill="#3563aa" stroke="#28498a" stroke-width="0.3"/>
<circle cx="367.60" cy="195.90" r="0.68" fill="#3563aa" stroke="#28498a" stroke-width="0.3"/>
<line x1="359.00" y1="211.24" x2="363.00" y2="211.24" stroke="#000" stroke-width="1.5"/>
<line x1="361.00" y1="209.94" x2="361.00" y2="212.54" stroke="#000" stroke-width="2.0"/>
<line x1="359.80" y1="209.94" x2="362.20" y2="209.94" stroke="#000" stroke-width="0.5"/>
<line x1="359.80" y1="212.54" x2="362.20" y2="212.54" stroke="#000" stroke-width="0.5"/>
<line x1="365.60" y1="216.18" x2="369.60" y2="216.18" stroke="#000" stroke-width="1.5"/>
<line x1="367.60" y1="214.88" x2="367.60" y2="217.48" stroke="#000" stroke-width="2.0"/>
<line x1="366.40" y1="214.88" x2="368.80" y2="214.88" stroke="#000" stroke-width="0.5"/>
<line x1="366.40" y1="217.48" x2="368.80" y2="217.48" stroke="#000" stroke-width="0.5"/>
<line x1="382.30" y1="264.40" x2="382.30" y2="267.00" stroke="#222" stroke-width="0.72"/>
<text x="384.50" y="273.80" font-size="6.5" font-weight="700" stroke="#111" stroke-width="0.2" text-anchor="end" transform="rotate(-45 384.50 273.80)">DHT</text>
<circle cx="378.90" cy="229.22" r="0.72" fill="#fff" stroke="#8a8a8a" stroke-width="0.45"/>
<circle cx="378.90" cy="223.25" r="0.72" fill="#fff" stroke="#8a8a8a" stroke-width="0.45"/>
<circle cx="379.80" cy="227.72" r="0.72" fill="#fff" stroke="#8a8a8a" stroke-width="0.45"/>
<circle cx="377.70" cy="232.06" r="0.72" fill="#fff" stroke="#8a8a8a" stroke-width="0.45"/>
<circle cx="378.90" cy="231.38" r="0.72" fill="#fff" stroke="#8a8a8a" stroke-width="0.45"/>
<circle cx="380.70" cy="228.50" r="0.72" fill="#fff" stroke="#8a8a8a" stroke-width="0.45"/>
<circle cx="379.81" cy="230.16" r="0.72" fill="#fff" stroke="#8a8a8a" stroke-width="0.45"/>
<circle cx="378.90" cy="237.07" r="0.72" fill="#fff" stroke="#8a8a8a" stroke-width="0.45"/>
<circle cx="380.10" cy="223.33" r="0.72" fill="#fff" stroke="#8a8a8a" stroke-width="0.45"/>
<circle cx="377.13" cy="224.53" r="0.72" fill="#fff" stroke="#8a8a8a" stroke-width="0.45"/>
<circle cx="378.30" cy="233.10" r="0.72" fill="#fff" stroke="#8a8a8a" stroke-width="0.45"/>
<circle cx="379.61" cy="230.35" r="0.72" fill="#fff" stroke="#8a8a8a" stroke-width="0.45"/>
<circle cx="377.70" cy="225.79" r="0.72" fill="#fff" stroke="#8a8a8a" stroke-width="0.45"/>
<circle cx="377.68" cy="233.84" r="0.72" fill="#fff" stroke="#8a8a8a" stroke-width="0.45"/>
<circle cx="379.99" cy="227.61" r="0.72" fill="#fff" stroke="#8a8a8a" stroke-width="0.45"/>
<circle cx="377.99" cy="224.46" r="0.72" fill="#fff" stroke="#8a8a8a" stroke-width="0.45"/>
<circle cx="380.82" cy="230.46" r="0.72" fill="#fff" stroke="#8a8a8a" stroke-width="0.45"/>
<circle cx="380.10" cy="227.28" r="0.72" fill="#fff" stroke="#8a8a8a" stroke-width="0.45"/>
<circle cx="380.10" cy="238.01" r="0.72" fill="#fff" stroke="#8a8a8a" stroke-width="0.45"/>
<circle cx="377.17" cy="225.96" r="0.72" fill="#fff" stroke="#8a8a8a" stroke-width="0.45"/>
<circle cx="379.24" cy="227.55" r="0.72" fill="#fff" stroke="#8a8a8a" stroke-width="0.45"/>
<circle cx="377.70" cy="227.29" r="0.72" fill="#fff" stroke="#8a8a8a" stroke-width="0.45"/>
<circle cx="378.99" cy="224.15" r="0.72" fill="#fff" stroke="#8a8a8a" stroke-width="0.45"/>
<circle cx="378.90" cy="241.96" r="0.72" fill="#fff" stroke="#8a8a8a" stroke-width="0.45"/>
<circle cx="378.90" cy="227.11" r="0.72" fill="#fff" stroke="#8a8a8a" stroke-width="0.45"/>
<circle cx="379.96" cy="230.29" r="0.72" fill="#fff" stroke="#8a8a8a" stroke-width="0.45"/>
<circle cx="379.90" cy="233.35" r="0.72" fill="#fff" stroke="#8a8a8a" stroke-width="0.45"/>
<circle cx="378.90" cy="235.45" r="0.72" fill="#fff" stroke="#8a8a8a" stroke-width="0.45"/>
<circle cx="378.90" cy="220.98" r="0.72" fill="#fff" stroke="#8a8a8a" stroke-width="0.45"/>
<circle cx="377.70" cy="236.08" r="0.72" fill="#fff" stroke="#8a8a8a" stroke-width="0.45"/>
<circle cx="380.10" cy="229.70" r="0.72" fill="#fff" stroke="#8a8a8a" stroke-width="0.45"/>
<circle cx="378.90" cy="238.83" r="0.72" fill="#fff" stroke="#8a8a8a" stroke-width="0.45"/>
<circle cx="378.09" cy="227.94" r="0.72" fill="#fff" stroke="#8a8a8a" stroke-width="0.45"/>
<circle cx="378.90" cy="225.37" r="0.72" fill="#fff" stroke="#8a8a8a" stroke-width="0.45"/>
<circle cx="377.10" cy="233.34" r="0.72" fill="#fff" stroke="#8a8a8a" stroke-width="0.45"/>
<circle cx="380.70" cy="224.45" r="0.72" fill="#fff" stroke="#8a8a8a" stroke-width="0.45"/>
<circle cx="379.69" cy="232.23" r="0.72" fill="#fff" stroke="#8a8a8a" stroke-width="0.45"/>
<circle cx="377.70" cy="223.77" r="0.72" fill="#fff" stroke="#8a8a8a" stroke-width="0.45"/>
<circle cx="380.10" cy="225.49" r="0.72" fill="#fff" stroke="#8a8a8a" stroke-width="0.45"/>
<circle cx="380.32" cy="232.39" r="0.72" fill="#fff" stroke="#8a8a8a" stroke-width="0.45"/>
<circle cx="377.10" cy="230.19" r="0.72" fill="#fff" stroke="#8a8a8a" stroke-width="0.45"/>
<circle cx="377.70" cy="229.71" r="0.72" fill="#fff" stroke="#8a8a8a" stroke-width="0.45"/>
<circle cx="380.57" cy="231.15" r="0.72" fill="#fff" stroke="#8a8a8a" stroke-width="0.45"/>
<circle cx="380.10" cy="235.98" r="0.72" fill="#fff" stroke="#8a8a8a" stroke-width="0.45"/>
<circle cx="379.37" cy="233.60" r="0.72" fill="#fff" stroke="#8a8a8a" stroke-width="0.45"/>
<circle cx="378.29" cy="227.34" r="0.72" fill="#fff" stroke="#8a8a8a" stroke-width="0.45"/>
<circle cx="380.70" cy="234.30" r="0.72" fill="#fff" stroke="#8a8a8a" stroke-width="0.45"/>
<circle cx="377.95" cy="230.12" r="0.72" fill="#fff" stroke="#8a8a8a" stroke-width="0.45"/>
<circle cx="378.90" cy="217.82" r="0.72" fill="#fff" stroke="#8a8a8a" stroke-width="0.45"/>
<circle cx="385.07" cy="228.07" r="0.68" fill="#3563aa" stroke="#28498a" stroke-width="0.3"/>
<circle cx="385.06" cy="229.82" r="0.68" fill="#3563aa" stroke="#28498a" stroke-width="0.3"/>
<circle cx="387.08" cy="226.15" r="0.68" fill="#3563aa" stroke="#28498a" stroke-width="0.3"/>
<circle cx="384.57" cy="236.07" r="0.68" fill="#3563aa" stroke="#28498a" stroke-width="0.3"/>
<circle cx="385.57" cy="225.80" r="0.68" fill="#3563aa" stroke="#28498a" stroke-width="0.3"/>
<circle cx="383.85" cy="231.30" r="0.68" fill="#3563aa" stroke="#28498a" stroke-width="0.3"/>
<circle cx="386.60" cy="227.44" r="0.68" fill="#3563aa" stroke="#28498a" stroke-width="0.3"/>
<circle cx="386.11" cy="231.38" r="0.68" fill="#3563aa" stroke="#28498a" stroke-width="0.3"/>
<circle cx="385.50" cy="226.94" r="0.68" fill="#3563aa" stroke="#28498a" stroke-width="0.3"/>
<circle cx="385.50" cy="238.72" r="0.68" fill="#3563aa" stroke="#28498a" stroke-width="0.3"/>
<circle cx="385.71" cy="234.79" r="0.68" fill="#3563aa" stroke="#28498a" stroke-width="0.3"/>
<circle cx="383.94" cy="234.52" r="0.68" fill="#3563aa" stroke="#28498a" stroke-width="0.3"/>
<circle cx="387.40" cy="226.37" r="0.68" fill="#3563aa" stroke="#28498a" stroke-width="0.3"/>
<circle cx="385.50" cy="225.04" r="0.68" fill="#3563aa" stroke="#28498a" stroke-width="0.3"/>
<circle cx="386.60" cy="232.73" r="0.68" fill="#3563aa" stroke="#28498a" stroke-width="0.3"/>
<circle cx="387.10" cy="231.44" r="0.68" fill="#3563aa" stroke="#28498a" stroke-width="0.3"/>
<circle cx="386.05" cy="230.55" r="0.68" fill="#3563aa" stroke="#28498a" stroke-width="0.3"/>
<circle cx="387.15" cy="229.77" r="0.68" fill="#3563aa" stroke="#28498a" stroke-width="0.3"/>
<circle cx="385.95" cy="233.42" r="0.68" fill="#3563aa" stroke="#28498a" stroke-width="0.3"/>
<circle cx="385.50" cy="240.74" r="0.68" fill="#3563aa" stroke="#28498a" stroke-width="0.3"/>
<circle cx="384.40" cy="229.07" r="0.68" fill="#3563aa" stroke="#28498a" stroke-width="0.3"/>
<circle cx="386.60" cy="224.08" r="0.68" fill="#3563aa" stroke="#28498a" stroke-width="0.3"/>
<circle cx="385.05" cy="234.50" r="0.68" fill="#3563aa" stroke="#28498a" stroke-width="0.3"/>
<circle cx="384.40" cy="225.58" r="0.68" fill="#3563aa" stroke="#28498a" stroke-width="0.3"/>
<circle cx="384.40" cy="227.52" r="0.68" fill="#3563aa" stroke="#28498a" stroke-width="0.3"/>
<circle cx="385.99" cy="236.16" r="0.68" fill="#3563aa" stroke="#28498a" stroke-width="0.3"/>
<circle cx="383.85" cy="230.19" r="0.68" fill="#3563aa" stroke="#28498a" stroke-width="0.3"/>
<circle cx="384.35" cy="235.57" r="0.68" fill="#3563aa" stroke="#28498a" stroke-width="0.3"/>
<circle cx="384.46" cy="226.28" r="0.68" fill="#3563aa" stroke="#28498a" stroke-width="0.3"/>
<circle cx="384.95" cy="231.19" r="0.68" fill="#3563aa" stroke="#28498a" stroke-width="0.3"/>
<circle cx="384.95" cy="233.92" r="0.68" fill="#3563aa" stroke="#28498a" stroke-width="0.3"/>
<circle cx="387.14" cy="232.97" r="0.68" fill="#3563aa" stroke="#28498a" stroke-width="0.3"/>
<circle cx="383.85" cy="234.46" r="0.68" fill="#3563aa" stroke="#28498a" stroke-width="0.3"/>
<circle cx="386.05" cy="229.06" r="0.68" fill="#3563aa" stroke="#28498a" stroke-width="0.3"/>
<circle cx="385.68" cy="227.78" r="0.68" fill="#3563aa" stroke="#28498a" stroke-width="0.3"/>
<circle cx="387.15" cy="230.88" r="0.68" fill="#3563aa" stroke="#28498a" stroke-width="0.3"/>
<circle cx="385.00" cy="235.21" r="0.68" fill="#3563aa" stroke="#28498a" stroke-width="0.3"/>
<circle cx="383.51" cy="228.17" r="0.68" fill="#3563aa" stroke="#28498a" stroke-width="0.3"/>
<circle cx="384.40" cy="232.80" r="0.68" fill="#3563aa" stroke="#28498a" stroke-width="0.3"/>
<circle cx="384.72" cy="235.76" r="0.68" fill="#3563aa" stroke="#28498a" stroke-width="0.3"/>
<circle cx="385.50" cy="223.51" r="0.68" fill="#3563aa" stroke="#28498a" stroke-width="0.3"/>
<circle cx="385.50" cy="232.41" r="0.68" fill="#3563aa" stroke="#28498a" stroke-width="0.3"/>
<circle cx="386.60" cy="225.54" r="0.68" fill="#3563aa" stroke="#28498a" stroke-width="0.3"/>
<circle cx="386.26" cy="234.62" r="0.68" fill="#3563aa" stroke="#28498a" stroke-width="0.3"/>
<circle cx="387.15" cy="234.13" r="0.68" fill="#3563aa" stroke="#28498a" stroke-width="0.3"/>
<circle cx="387.09" cy="236.29" r="0.68" fill="#3563aa" stroke="#28498a" stroke-width="0.3"/>
<circle cx="384.21" cy="230.27" r="0.68" fill="#3563aa" stroke="#28498a" stroke-width="0.3"/>
<circle cx="387.05" cy="235.49" r="0.68" fill="#3563aa" stroke="#28498a" stroke-width="0.3"/>
<circle cx="383.85" cy="237.02" r="0.68" fill="#3563aa" stroke="#28498a" stroke-width="0.3"/>
<circle cx="386.36" cy="235.19" r="0.68" fill="#3563aa" stroke="#28498a" stroke-width="0.3"/>
<circle cx="385.50" cy="218.92" r="0.68" fill="#3563aa" stroke="#28498a" stroke-width="0.3"/>
<circle cx="385.50" cy="246.32" r="0.68" fill="#3563aa" stroke="#28498a" stroke-width="0.3"/>
<line x1="376.90" y1="230.97" x2="380.90" y2="230.97" stroke="#000" stroke-width="1.5"/>
<line x1="378.90" y1="229.67" x2="378.90" y2="232.27" stroke="#000" stroke-width="2.0"/>
<line x1="377.70" y1="229.67" x2="380.10" y2="229.67" stroke="#000" stroke-width="0.5"/>
<line x1="377.70" y1="232.27" x2="380.10" y2="232.27" stroke="#000" stroke-width="0.5"/>
<line x1="383.50" y1="231.52" x2="387.50" y2="231.52" stroke="#000" stroke-width="1.5"/>
<line x1="385.50" y1="230.22" x2="385.50" y2="232.82" stroke="#000" stroke-width="2.0"/>
<line x1="384.30" y1="230.22" x2="386.70" y2="230.22" stroke="#000" stroke-width="0.5"/>
<line x1="384.30" y1="232.82" x2="386.70" y2="232.82" stroke="#000" stroke-width="0.5"/>
<text x="325.10" y="216.68" font-size="5.1000000000000005" text-anchor="middle">★</text>
<text x="331.80" y="216.68" font-size="5.1000000000000005" text-anchor="middle">★</text>
<text x="343.20" y="178.32" font-size="5.1000000000000005" text-anchor="middle">★</text>
<text x="350.00" y="178.32" font-size="5.1000000000000005" text-anchor="middle">★</text>
<text x="361.00" y="175.58" font-size="5.1000000000000005" text-anchor="middle">★</text>
<text x="367.60" y="175.58" font-size="5.1000000000000005" text-anchor="middle">★</text>
<text x="367.60" y="170.00" font-size="4.2" text-anchor="middle">#</text>
<rect x="382.2" y="177.9" width="30.0" height="14.9" fill="#fff" stroke="#444" stroke-width="0.7"/>
<circle cx="387.00" cy="181.80" r="0.7" fill="#fff" stroke="#999" stroke-width="0.4"/>
<text x="396.50" y="183.30" font-size="4.3" fill="#222">PPAT</text>
<circle cx="387.00" cy="188.50" r="0.7" fill="#3c68ad" stroke="#2c4f8a" stroke-width="0.3"/>
<text x="397.00" y="190.00" font-size="4.3" fill="#222">SAT</text>
<line x1="452.60" y1="176.60" x2="452.60" y2="264.66" stroke="#222" stroke-width="0.72"/>
<line x1="452.60" y1="264.30" x2="540.60" y2="264.30" stroke="#222" stroke-width="0.72"/>
<line x1="452.60" y1="235.40" x2="540.60" y2="235.40" stroke="#222" stroke-width="0.6"/>
<line x1="449.80" y1="264.30" x2="452.60" y2="264.30" stroke="#222" stroke-width="0.72"/>
<text x="449.00" y="266.65" font-size="6.5" font-weight="700" stroke="#111" stroke-width="0.2" text-anchor="end">-100</text>
<line x1="449.80" y1="249.85" x2="452.60" y2="249.85" stroke="#222" stroke-width="0.72"/>
<text x="449.00" y="252.20" font-size="6.5" font-weight="700" stroke="#111" stroke-width="0.2" text-anchor="end">-50</text>
<line x1="449.80" y1="235.40" x2="452.60" y2="235.40" stroke="#222" stroke-width="0.72"/>
<text x="449.00" y="237.75" font-size="6.5" font-weight="700" stroke="#111" stroke-width="0.2" text-anchor="end">0</text>
<line x1="449.80" y1="220.95" x2="452.60" y2="220.95" stroke="#222" stroke-width="0.72"/>
<text x="449.00" y="223.30" font-size="6.5" font-weight="700" stroke="#111" stroke-width="0.2" text-anchor="end">50</text>
<line x1="449.80" y1="206.50" x2="452.60" y2="206.50" stroke="#222" stroke-width="0.72"/>
<text x="449.00" y="208.85" font-size="6.5" font-weight="700" stroke="#111" stroke-width="0.2" text-anchor="end">100</text>
<line x1="449.80" y1="192.05" x2="452.60" y2="192.05" stroke="#222" stroke-width="0.72"/>
<text x="449.00" y="194.40" font-size="6.5" font-weight="700" stroke="#111" stroke-width="0.2" text-anchor="end">150</text>
<line x1="449.80" y1="177.60" x2="452.60" y2="177.60" stroke="#222" stroke-width="0.72"/>
<text x="449.00" y="179.95" font-size="6.5" font-weight="700" stroke="#111" stroke-width="0.2" text-anchor="end">200</text>
<text x="422.50" y="220.90" font-size="7.0" font-weight="700" stroke="#111" stroke-width="0.2" text-anchor="middle" transform="rotate(-90 422.50 220.90)" textLength="64.70" lengthAdjust="spacingAndGlyphs">Stimulated Change</text>
<text transform="translate(430.6 221.2) rotate(-90)" text-anchor="middle" font-size="7.0" fill="#111" textLength="82.8" lengthAdjust="spacingAndGlyphs"><tspan font-weight="700" stroke="#111" stroke-width="0.2">in Lipolysis </tspan><tspan fill="#222">(% from basal)</tspan></text>
<line x1="462.60" y1="264.30" x2="462.60" y2="266.90" stroke="#222" stroke-width="0.72"/>
<text x="464.80" y="273.70" font-size="6.5" font-weight="700" stroke="#111" stroke-width="0.2" text-anchor="end" transform="rotate(-45 464.80 273.70)">Ins</text>
<circle cx="456.55" cy="243.03" r="0.75" fill="#fff" stroke="#909090" stroke-width="0.42"/>
<circle cx="461.08" cy="239.67" r="0.75" fill="#fff" stroke="#909090" stroke-width="0.42"/>
<circle cx="459.60" cy="236.57" r="0.75" fill="#fff" stroke="#909090" stroke-width="0.42"/>
<circle cx="458.30" cy="235.88" r="0.75" fill="#fff" stroke="#909090" stroke-width="0.42"/>
<circle cx="457.00" cy="236.90" r="0.75" fill="#fff" stroke="#909090" stroke-width="0.42"/>
<circle cx="460.46" cy="240.17" r="0.75" fill="#fff" stroke="#909090" stroke-width="0.42"/>
<circle cx="459.73" cy="239.36" r="0.75" fill="#fff" stroke="#909090" stroke-width="0.42"/>
<circle cx="455.60" cy="241.02" r="0.75" fill="#fff" stroke="#909090" stroke-width="0.42"/>
<circle cx="455.70" cy="244.08" r="0.75" fill="#fff" stroke="#909090" stroke-width="0.42"/>
<circle cx="455.37" cy="241.65" r="0.75" fill="#fff" stroke="#909090" stroke-width="0.42"/>
<circle cx="455.70" cy="237.58" r="0.75" fill="#fff" stroke="#909090" stroke-width="0.42"/>
<circle cx="457.85" cy="239.60" r="0.75" fill="#fff" stroke="#909090" stroke-width="0.42"/>
<circle cx="458.30" cy="241.23" r="0.75" fill="#fff" stroke="#909090" stroke-width="0.42"/>
<circle cx="458.97" cy="243.35" r="0.75" fill="#fff" stroke="#909090" stroke-width="0.42"/>
<circle cx="460.36" cy="240.58" r="0.75" fill="#fff" stroke="#909090" stroke-width="0.42"/>
<circle cx="455.67" cy="241.98" r="0.75" fill="#fff" stroke="#909090" stroke-width="0.42"/>
<circle cx="459.31" cy="240.21" r="0.75" fill="#fff" stroke="#909090" stroke-width="0.42"/>
<circle cx="455.70" cy="238.92" r="0.75" fill="#fff" stroke="#909090" stroke-width="0.42"/>
<circle cx="456.33" cy="240.57" r="0.75" fill="#fff" stroke="#909090" stroke-width="0.42"/>
<circle cx="458.30" cy="244.52" r="0.75" fill="#fff" stroke="#909090" stroke-width="0.42"/>
<circle cx="460.90" cy="243.00" r="0.75" fill="#fff" stroke="#909090" stroke-width="0.42"/>
<circle cx="461.10" cy="243.88" r="0.75" fill="#fff" stroke="#909090" stroke-width="0.42"/>
<circle cx="460.90" cy="237.12" r="0.75" fill="#fff" stroke="#909090" stroke-width="0.42"/>
<circle cx="459.56" cy="238.39" r="0.75" fill="#fff" stroke="#909090" stroke-width="0.42"/>
<circle cx="458.30" cy="238.88" r="0.75" fill="#fff" stroke="#909090" stroke-width="0.42"/>
<circle cx="457.65" cy="242.44" r="0.75" fill="#fff" stroke="#909090" stroke-width="0.42"/>
<circle cx="457.00" cy="244.44" r="0.75" fill="#fff" stroke="#909090" stroke-width="0.42"/>
<circle cx="461.22" cy="241.40" r="0.75" fill="#fff" stroke="#909090" stroke-width="0.42"/>
<circle cx="457.71" cy="239.73" r="0.75" fill="#fff" stroke="#909090" stroke-width="0.42"/>
<circle cx="455.70" cy="240.52" r="0.75" fill="#fff" stroke="#909090" stroke-width="0.42"/>
<circle cx="457.00" cy="238.34" r="0.75" fill="#fff" stroke="#909090" stroke-width="0.42"/>
<circle cx="460.98" cy="241.34" r="0.75" fill="#fff" stroke="#909090" stroke-width="0.42"/>
<circle cx="459.60" cy="235.15" r="0.75" fill="#fff" stroke="#909090" stroke-width="0.42"/>
<circle cx="460.90" cy="238.43" r="0.75" fill="#fff" stroke="#909090" stroke-width="0.42"/>
<circle cx="458.30" cy="234.59" r="0.75" fill="#fff" stroke="#909090" stroke-width="0.42"/>
<circle cx="456.69" cy="239.61" r="0.75" fill="#fff" stroke="#909090" stroke-width="0.42"/>
<circle cx="456.85" cy="240.98" r="0.75" fill="#fff" stroke="#909090" stroke-width="0.42"/>
<circle cx="459.60" cy="242.75" r="0.75" fill="#fff" stroke="#909090" stroke-width="0.42"/>
<circle cx="459.60" cy="237.99" r="0.75" fill="#fff" stroke="#909090" stroke-width="0.42"/>
<circle cx="458.30" cy="237.31" r="0.75" fill="#fff" stroke="#909090" stroke-width="0.42"/>
<circle cx="457.54" cy="239.87" r="0.75" fill="#fff" stroke="#909090" stroke-width="0.42"/>
<circle cx="456.79" cy="239.14" r="0.75" fill="#fff" stroke="#909090" stroke-width="0.42"/>
<circle cx="461.15" cy="241.09" r="0.75" fill="#fff" stroke="#909090" stroke-width="0.42"/>
<circle cx="458.94" cy="241.52" r="0.75" fill="#fff" stroke="#909090" stroke-width="0.42"/>
<circle cx="456.34" cy="241.15" r="0.75" fill="#fff" stroke="#909090" stroke-width="0.42"/>
<circle cx="458.95" cy="245.72" r="0.75" fill="#fff" stroke="#909090" stroke-width="0.42"/>
<circle cx="457.63" cy="243.23" r="0.75" fill="#fff" stroke="#909090" stroke-width="0.42"/>
<circle cx="457.52" cy="240.20" r="0.75" fill="#fff" stroke="#909090" stroke-width="0.42"/>
<circle cx="458.30" cy="226.15" r="0.75" fill="#fff" stroke="#909090" stroke-width="0.42"/>
<circle cx="458.30" cy="231.06" r="0.75" fill="#fff" stroke="#909090" stroke-width="0.42"/>
<circle cx="468.92" cy="240.90" r="0.75" fill="#3563aa" stroke="#28498a" stroke-width="0.3"/>
<circle cx="464.44" cy="238.69" r="0.75" fill="#3563aa" stroke="#28498a" stroke-width="0.3"/>
<circle cx="465.98" cy="239.74" r="0.75" fill="#3563aa" stroke="#28498a" stroke-width="0.3"/>
<circle cx="466.94" cy="240.21" r="0.75" fill="#3563aa" stroke="#28498a" stroke-width="0.3"/>
<circle cx="468.88" cy="241.07" r="0.75" fill="#3563aa" stroke="#28498a" stroke-width="0.3"/>
<circle cx="468.23" cy="241.07" r="0.75" fill="#3563aa" stroke="#28498a" stroke-width="0.3"/>
<circle cx="469.28" cy="243.22" r="0.75" fill="#3563aa" stroke="#28498a" stroke-width="0.3"/>
<circle cx="464.12" cy="240.06" r="0.75" fill="#3563aa" stroke="#28498a" stroke-width="0.3"/>
<circle cx="466.77" cy="241.84" r="0.75" fill="#3563aa" stroke="#28498a" stroke-width="0.3"/>
<circle cx="467.38" cy="241.96" r="0.75" fill="#3563aa" stroke="#28498a" stroke-width="0.3"/>
<circle cx="464.66" cy="242.43" r="0.75" fill="#3563aa" stroke="#28498a" stroke-width="0.3"/>
<circle cx="464.64" cy="241.86" r="0.75" fill="#3563aa" stroke="#28498a" stroke-width="0.3"/>
<circle cx="467.85" cy="245.70" r="0.75" fill="#3563aa" stroke="#28498a" stroke-width="0.3"/>
<circle cx="466.60" cy="244.86" r="0.75" fill="#3563aa" stroke="#28498a" stroke-width="0.3"/>
<circle cx="467.23" cy="238.41" r="0.75" fill="#3563aa" stroke="#28498a" stroke-width="0.3"/>
<circle cx="469.10" cy="240.20" r="0.75" fill="#3563aa" stroke="#28498a" stroke-width="0.3"/>
<circle cx="463.68" cy="242.21" r="0.75" fill="#3563aa" stroke="#28498a" stroke-width="0.3"/>
<circle cx="464.11" cy="241.99" r="0.75" fill="#3563aa" stroke="#28498a" stroke-width="0.3"/>
<circle cx="468.28" cy="242.04" r="0.75" fill="#3563aa" stroke="#28498a" stroke-width="0.3"/>
<circle cx="467.23" cy="240.00" r="0.75" fill="#3563aa" stroke="#28498a" stroke-width="0.3"/>
<circle cx="466.57" cy="241.20" r="0.75" fill="#3563aa" stroke="#28498a" stroke-width="0.3"/>
<circle cx="464.64" cy="242.75" r="0.75" fill="#3563aa" stroke="#28498a" stroke-width="0.3"/>
<circle cx="464.61" cy="240.92" r="0.75" fill="#3563aa" stroke="#28498a" stroke-width="0.3"/>
<circle cx="464.10" cy="238.01" r="0.75" fill="#3563aa" stroke="#28498a" stroke-width="0.3"/>
<circle cx="468.48" cy="239.05" r="0.75" fill="#3563aa" stroke="#28498a" stroke-width="0.3"/>
<circle cx="465.90" cy="240.59" r="0.75" fill="#3563aa" stroke="#28498a" stroke-width="0.3"/>
<circle cx="466.96" cy="242.60" r="0.75" fill="#3563aa" stroke="#28498a" stroke-width="0.3"/>
<circle cx="464.10" cy="243.92" r="0.75" fill="#3563aa" stroke="#28498a" stroke-width="0.3"/>
<circle cx="467.89" cy="241.03" r="0.75" fill="#3563aa" stroke="#28498a" stroke-width="0.3"/>
<circle cx="464.93" cy="242.15" r="0.75" fill="#3563aa" stroke="#28498a" stroke-width="0.3"/>
<circle cx="465.35" cy="243.83" r="0.75" fill="#3563aa" stroke="#28498a" stroke-width="0.3"/>
<circle cx="465.35" cy="237.40" r="0.75" fill="#3563aa" stroke="#28498a" stroke-width="0.3"/>
<circle cx="466.81" cy="243.37" r="0.75" fill="#3563aa" stroke="#28498a" stroke-width="0.3"/>
<circle cx="466.34" cy="242.46" r="0.75" fill="#3563aa" stroke="#28498a" stroke-width="0.3"/>
<circle cx="467.85" cy="237.28" r="0.75" fill="#3563aa" stroke="#28498a" stroke-width="0.3"/>
<circle cx="463.89" cy="241.58" r="0.75" fill="#3563aa" stroke="#28498a" stroke-width="0.3"/>
<circle cx="464.20" cy="241.38" r="0.75" fill="#3563aa" stroke="#28498a" stroke-width="0.3"/>
<circle cx="468.19" cy="240.55" r="0.75" fill="#3563aa" stroke="#28498a" stroke-width="0.3"/>
<circle cx="466.49" cy="243.15" r="0.75" fill="#3563aa" stroke="#28498a" stroke-width="0.3"/>
<circle cx="465.93" cy="242.64" r="0.75" fill="#3563aa" stroke="#28498a" stroke-width="0.3"/>
<circle cx="466.31" cy="240.53" r="0.75" fill="#3563aa" stroke="#28498a" stroke-width="0.3"/>
<circle cx="469.10" cy="243.10" r="0.75" fill="#3563aa" stroke="#28498a" stroke-width="0.3"/>
<circle cx="463.99" cy="240.47" r="0.75" fill="#3563aa" stroke="#28498a" stroke-width="0.3"/>
<circle cx="465.73" cy="238.42" r="0.75" fill="#3563aa" stroke="#28498a" stroke-width="0.3"/>
<circle cx="464.42" cy="239.45" r="0.75" fill="#3563aa" stroke="#28498a" stroke-width="0.3"/>
<circle cx="469.10" cy="237.95" r="0.75" fill="#3563aa" stroke="#28498a" stroke-width="0.3"/>
<circle cx="466.97" cy="238.74" r="0.75" fill="#3563aa" stroke="#28498a" stroke-width="0.3"/>
<circle cx="466.60" cy="237.20" r="0.75" fill="#3563aa" stroke="#28498a" stroke-width="0.3"/>
<circle cx="467.82" cy="240.54" r="0.75" fill="#3563aa" stroke="#28498a" stroke-width="0.3"/>
<circle cx="467.78" cy="240.22" r="0.75" fill="#3563aa" stroke="#28498a" stroke-width="0.3"/>
<circle cx="466.60" cy="232.51" r="0.75" fill="#3563aa" stroke="#28498a" stroke-width="0.3"/>
<circle cx="466.60" cy="233.96" r="0.75" fill="#3563aa" stroke="#28498a" stroke-width="0.3"/>
<line x1="455.40" y1="240.31" x2="461.20" y2="240.31" stroke="#000" stroke-width="1.3"/>
<line x1="463.70" y1="241.18" x2="469.50" y2="241.18" stroke="#000" stroke-width="1.3"/>
<line x1="485.20" y1="264.30" x2="485.20" y2="266.90" stroke="#222" stroke-width="0.72"/>
<text x="487.40" y="273.70" font-size="6.5" font-weight="700" stroke="#111" stroke-width="0.2" text-anchor="end" transform="rotate(-45 487.40 273.70)">Mid Iso</text>
<circle cx="480.25" cy="237.90" r="0.75" fill="#fff" stroke="#909090" stroke-width="0.42"/>
<circle cx="482.20" cy="231.40" r="0.75" fill="#fff" stroke="#909090" stroke-width="0.42"/>
<circle cx="478.30" cy="232.94" r="0.75" fill="#fff" stroke="#909090" stroke-width="0.42"/>
<circle cx="480.90" cy="222.22" r="0.75" fill="#fff" stroke="#909090" stroke-width="0.42"/>
<circle cx="480.54" cy="232.95" r="0.75" fill="#fff" stroke="#909090" stroke-width="0.42"/>
<circle cx="478.73" cy="238.26" r="0.75" fill="#fff" stroke="#909090" stroke-width="0.42"/>
<circle cx="482.17" cy="234.16" r="0.75" fill="#fff" stroke="#909090" stroke-width="0.42"/>
<circle cx="478.30" cy="235.00" r="0.75" fill="#fff" stroke="#909090" stroke-width="0.42"/>
<circle cx="480.90" cy="226.05" r="0.75" fill="#fff" stroke="#909090" stroke-width="0.42"/>
<circle cx="480.90" cy="229.69" r="0.75" fill="#fff" stroke="#909090" stroke-width="0.42"/>
<circle cx="478.95" cy="236.52" r="0.75" fill="#fff" stroke="#909090" stroke-width="0.42"/>
<circle cx="479.85" cy="233.60" r="0.75" fill="#fff" stroke="#909090" stroke-width="0.42"/>
<circle cx="479.03" cy="233.74" r="0.75" fill="#fff" stroke="#909090" stroke-width="0.42"/>
<circle cx="483.50" cy="240.26" r="0.75" fill="#fff" stroke="#909090" stroke-width="0.42"/>
<circle cx="478.30" cy="226.44" r="0.75" fill="#fff" stroke="#909090" stroke-width="0.42"/>
<circle cx="480.90" cy="227.91" r="0.75" fill="#fff" stroke="#909090" stroke-width="0.42"/>
<circle cx="478.95" cy="237.97" r="0.75" fill="#fff" stroke="#909090" stroke-width="0.42"/>
<circle cx="480.25" cy="230.87" r="0.75" fill="#fff" stroke="#909090" stroke-width="0.42"/>
<circle cx="480.31" cy="233.57" r="0.75" fill="#fff" stroke="#909090" stroke-width="0.42"/>
<circle cx="481.16" cy="233.74" r="0.75" fill="#fff" stroke="#909090" stroke-width="0.42"/>
<circle cx="480.25" cy="236.30" r="0.75" fill="#fff" stroke="#909090" stroke-width="0.42"/>
<circle cx="482.85" cy="235.37" r="0.75" fill="#fff" stroke="#909090" stroke-width="0.42"/>
<circle cx="482.20" cy="229.93" r="0.75" fill="#fff" stroke="#909090" stroke-width="0.42"/>
<circle cx="480.25" cy="234.97" r="0.75" fill="#fff" stroke="#909090" stroke-width="0.42"/>
<circle cx="479.60" cy="228.99" r="0.75" fill="#fff" stroke="#909090" stroke-width="0.42"/>
<circle cx="479.60" cy="239.63" r="0.75" fill="#fff" stroke="#909090" stroke-width="0.42"/>
<circle cx="482.20" cy="239.61" r="0.75" fill="#fff" stroke="#909090" stroke-width="0.42"/>
<circle cx="480.90" cy="239.61" r="0.75" fill="#fff" stroke="#909090" stroke-width="0.42"/>
<circle cx="482.20" cy="226.06" r="0.75" fill="#fff" stroke="#909090" stroke-width="0.42"/>
<circle cx="480.67" cy="231.02" r="0.75" fill="#fff" stroke="#909090" stroke-width="0.42"/>
<circle cx="483.50" cy="238.11" r="0.75" fill="#fff" stroke="#909090" stroke-width="0.42"/>
<circle cx="481.55" cy="237.34" r="0.75" fill="#fff" stroke="#909090" stroke-width="0.42"/>
<circle cx="482.85" cy="234.06" r="0.75" fill="#fff" stroke="#909090" stroke-width="0.42"/>
<circle cx="483.50" cy="231.48" r="0.75" fill="#fff" stroke="#909090" stroke-width="0.42"/>
<circle cx="483.50" cy="230.00" r="0.75" fill="#fff" stroke="#909090" stroke-width="0.42"/>
<circle cx="483.50" cy="226.27" r="0.75" fill="#fff" stroke="#909090" stroke-width="0.42"/>
<circle cx="481.56" cy="231.76" r="0.75" fill="#fff" stroke="#909090" stroke-width="0.42"/>
<circle cx="478.95" cy="230.88" r="0.75" fill="#fff" stroke="#909090" stroke-width="0.42"/>
<circle cx="481.55" cy="235.90" r="0.75" fill="#fff" stroke="#909090" stroke-width="0.42"/>
<circle cx="482.20" cy="228.13" r="0.75" fill="#fff" stroke="#909090" stroke-width="0.42"/>
<circle cx="478.92" cy="233.61" r="0.75" fill="#fff" stroke="#909090" stroke-width="0.42"/>
<circle cx="482.85" cy="232.76" r="0.75" fill="#fff" stroke="#909090" stroke-width="0.42"/>
<circle cx="481.31" cy="231.80" r="0.75" fill="#fff" stroke="#909090" stroke-width="0.42"/>
<circle cx="482.85" cy="236.88" r="0.75" fill="#fff" stroke="#909090" stroke-width="0.42"/>
<circle cx="479.60" cy="232.38" r="0.75" fill="#fff" stroke="#909090" stroke-width="0.42"/>
<circle cx="479.02" cy="233.14" r="0.75" fill="#fff" stroke="#909090" stroke-width="0.42"/>
<circle cx="479.60" cy="226.22" r="0.75" fill="#fff" stroke="#909090" stroke-width="0.42"/>
<circle cx="481.85" cy="234.38" r="0.75" fill="#fff" stroke="#909090" stroke-width="0.42"/>
<circle cx="480.90" cy="196.10" r="0.75" fill="#fff" stroke="#909090" stroke-width="0.42"/>
<circle cx="480.90" cy="217.48" r="0.75" fill="#fff" stroke="#909090" stroke-width="0.42"/>
<circle cx="481.55" cy="218.64" r="0.75" fill="#fff" stroke="#909090" stroke-width="0.42"/>
<circle cx="487.95" cy="234.60" r="0.75" fill="#3563aa" stroke="#28498a" stroke-width="0.3"/>
<circle cx="487.32" cy="230.93" r="0.75" fill="#3563aa" stroke="#28498a" stroke-width="0.3"/>
<circle cx="489.20" cy="234.48" r="0.75" fill="#3563aa" stroke="#28498a" stroke-width="0.3"/>
<circle cx="490.45" cy="234.54" r="0.75" fill="#3563aa" stroke="#28498a" stroke-width="0.3"/>
<circle cx="489.20" cy="228.98" r="0.75" fill="#3563aa" stroke="#28498a" stroke-width="0.3"/>
<circle cx="489.20" cy="231.55" r="0.75" fill="#3563aa" stroke="#28498a" stroke-width="0.3"/>
<circle cx="489.20" cy="235.74" r="0.75" fill="#3563aa" stroke="#28498a" stroke-width="0.3"/>
<circle cx="490.60" cy="231.74" r="0.75" fill="#3563aa" stroke="#28498a" stroke-width="0.3"/>
<circle cx="488.23" cy="229.61" r="0.75" fill="#3563aa" stroke="#28498a" stroke-width="0.3"/>
<circle cx="490.45" cy="222.78" r="0.75" fill="#3563aa" stroke="#28498a" stroke-width="0.3"/>
<circle cx="489.20" cy="223.35" r="0.75" fill="#3563aa" stroke="#28498a" stroke-width="0.3"/>
<circle cx="487.95" cy="226.98" r="0.75" fill="#3563aa" stroke="#28498a" stroke-width="0.3"/>
<circle cx="488.14" cy="233.01" r="0.75" fill="#3563aa" stroke="#28498a" stroke-width="0.3"/>
<circle cx="486.31" cy="232.57" r="0.75" fill="#3563aa" stroke="#28498a" stroke-width="0.3"/>
<circle cx="490.45" cy="238.38" r="0.75" fill="#3563aa" stroke="#28498a" stroke-width="0.3"/>
<circle cx="487.32" cy="237.44" r="0.75" fill="#3563aa" stroke="#28498a" stroke-width="0.3"/>
<circle cx="489.02" cy="232.95" r="0.75" fill="#3563aa" stroke="#28498a" stroke-width="0.3"/>
<circle cx="491.70" cy="234.89" r="0.75" fill="#3563aa" stroke="#28498a" stroke-width="0.3"/>
<circle cx="486.70" cy="235.24" r="0.75" fill="#3563aa" stroke="#28498a" stroke-width="0.3"/>
<circle cx="491.70" cy="232.49" r="0.75" fill="#3563aa" stroke="#28498a" stroke-width="0.3"/>
<circle cx="487.95" cy="225.59" r="0.75" fill="#3563aa" stroke="#28498a" stroke-width="0.3"/>
<circle cx="488.88" cy="230.30" r="0.75" fill="#3563aa" stroke="#28498a" stroke-width="0.3"/>
<circle cx="490.45" cy="226.63" r="0.75" fill="#3563aa" stroke="#28498a" stroke-width="0.3"/>
<circle cx="491.50" cy="231.13" r="0.75" fill="#3563aa" stroke="#28498a" stroke-width="0.3"/>
<circle cx="489.51" cy="232.62" r="0.75" fill="#3563aa" stroke="#28498a" stroke-width="0.3"/>
<circle cx="490.45" cy="224.37" r="0.75" fill="#3563aa" stroke="#28498a" stroke-width="0.3"/>
<circle cx="489.20" cy="226.27" r="0.75" fill="#3563aa" stroke="#28498a" stroke-width="0.3"/>
<circle cx="487.95" cy="228.32" r="0.75" fill="#3563aa" stroke="#28498a" stroke-width="0.3"/>
<circle cx="491.07" cy="230.74" r="0.75" fill="#3563aa" stroke="#28498a" stroke-width="0.3"/>
<circle cx="486.70" cy="227.76" r="0.75" fill="#3563aa" stroke="#28498a" stroke-width="0.3"/>
<circle cx="489.20" cy="238.23" r="0.75" fill="#3563aa" stroke="#28498a" stroke-width="0.3"/>
<circle cx="487.47" cy="231.87" r="0.75" fill="#3563aa" stroke="#28498a" stroke-width="0.3"/>
<circle cx="489.84" cy="230.34" r="0.75" fill="#3563aa" stroke="#28498a" stroke-width="0.3"/>
<circle cx="491.40" cy="232.95" r="0.75" fill="#3563aa" stroke="#28498a" stroke-width="0.3"/>
<circle cx="491.70" cy="227.64" r="0.75" fill="#3563aa" stroke="#28498a" stroke-width="0.3"/>
<circle cx="489.20" cy="227.57" r="0.75" fill="#3563aa" stroke="#28498a" stroke-width="0.3"/>
<circle cx="489.95" cy="229.55" r="0.75" fill="#3563aa" stroke="#28498a" stroke-width="0.3"/>
<circle cx="489.20" cy="222.04" r="0.75" fill="#3563aa" stroke="#28498a" stroke-width="0.3"/>
<circle cx="488.57" cy="236.96" r="0.75" fill="#3563aa" stroke="#28498a" stroke-width="0.3"/>
<circle cx="489.20" cy="219.62" r="0.75" fill="#3563aa" stroke="#28498a" stroke-width="0.3"/>
<circle cx="487.95" cy="239.15" r="0.75" fill="#3563aa" stroke="#28498a" stroke-width="0.3"/>
<circle cx="490.45" cy="228.24" r="0.75" fill="#3563aa" stroke="#28498a" stroke-width="0.3"/>
<circle cx="487.32" cy="229.54" r="0.75" fill="#3563aa" stroke="#28498a" stroke-width="0.3"/>
<circle cx="488.21" cy="232.09" r="0.75" fill="#3563aa" stroke="#28498a" stroke-width="0.3"/>
<circle cx="489.20" cy="224.75" r="0.75" fill="#3563aa" stroke="#28498a" stroke-width="0.3"/>
<circle cx="491.07" cy="237.28" r="0.75" fill="#3563aa" stroke="#28498a" stroke-width="0.3"/>
<circle cx="489.45" cy="231.96" r="0.75" fill="#3563aa" stroke="#28498a" stroke-width="0.3"/>
<circle cx="491.07" cy="229.34" r="0.75" fill="#3563aa" stroke="#28498a" stroke-width="0.3"/>
<circle cx="489.82" cy="236.95" r="0.75" fill="#3563aa" stroke="#28498a" stroke-width="0.3"/>
<circle cx="490.77" cy="231.09" r="0.75" fill="#3563aa" stroke="#28498a" stroke-width="0.3"/>
<circle cx="489.20" cy="209.97" r="0.75" fill="#3563aa" stroke="#28498a" stroke-width="0.3"/>
<circle cx="489.20" cy="212.28" r="0.75" fill="#3563aa" stroke="#28498a" stroke-width="0.3"/>
<circle cx="489.20" cy="215.17" r="0.75" fill="#3563aa" stroke="#28498a" stroke-width="0.3"/>
<line x1="478.00" y1="232.51" x2="483.80" y2="232.51" stroke="#000" stroke-width="1.3"/>
<line x1="486.30" y1="232.22" x2="492.10" y2="232.22" stroke="#000" stroke-width="1.3"/>
<line x1="507.60" y1="264.30" x2="507.60" y2="266.90" stroke="#222" stroke-width="0.72"/>
<text x="509.80" y="273.70" font-size="6.5" font-weight="700" stroke="#111" stroke-width="0.2" text-anchor="end" transform="rotate(-45 509.80 273.70)">Max Iso</text>
<circle cx="505.90" cy="215.14" r="0.75" fill="#fff" stroke="#909090" stroke-width="0.42"/>
<circle cx="502.00" cy="216.25" r="0.75" fill="#fff" stroke="#909090" stroke-width="0.42"/>
<circle cx="501.35" cy="226.69" r="0.75" fill="#fff" stroke="#909090" stroke-width="0.42"/>
<circle cx="503.30" cy="211.88" r="0.75" fill="#fff" stroke="#909090" stroke-width="0.42"/>
<circle cx="503.30" cy="214.19" r="0.75" fill="#fff" stroke="#909090" stroke-width="0.42"/>
<circle cx="502.65" cy="221.78" r="0.75" fill="#fff" stroke="#909090" stroke-width="0.42"/>
<circle cx="504.60" cy="212.42" r="0.75" fill="#fff" stroke="#909090" stroke-width="0.42"/>
<circle cx="503.30" cy="219.24" r="0.75" fill="#fff" stroke="#909090" stroke-width="0.42"/>
<circle cx="501.35" cy="219.68" r="0.75" fill="#fff" stroke="#909090" stroke-width="0.42"/>
<circle cx="505.90" cy="218.44" r="0.75" fill="#fff" stroke="#909090" stroke-width="0.42"/>
<circle cx="505.83" cy="220.97" r="0.75" fill="#fff" stroke="#909090" stroke-width="0.42"/>
<circle cx="504.60" cy="217.83" r="0.75" fill="#fff" stroke="#909090" stroke-width="0.42"/>
<circle cx="505.90" cy="217.02" r="0.75" fill="#fff" stroke="#909090" stroke-width="0.42"/>
<circle cx="503.30" cy="210.32" r="0.75" fill="#fff" stroke="#909090" stroke-width="0.42"/>
<circle cx="501.35" cy="213.36" r="0.75" fill="#fff" stroke="#909090" stroke-width="0.42"/>
<circle cx="502.00" cy="210.88" r="0.75" fill="#fff" stroke="#909090" stroke-width="0.42"/>
<circle cx="504.30" cy="220.36" r="0.75" fill="#fff" stroke="#909090" stroke-width="0.42"/>
<circle cx="504.60" cy="230.63" r="0.75" fill="#fff" stroke="#909090" stroke-width="0.42"/>
<circle cx="505.90" cy="211.95" r="0.75" fill="#fff" stroke="#909090" stroke-width="0.42"/>
<circle cx="503.95" cy="223.50" r="0.75" fill="#fff" stroke="#909090" stroke-width="0.42"/>
<circle cx="501.50" cy="220.22" r="0.75" fill="#fff" stroke="#909090" stroke-width="0.42"/>
<circle cx="505.25" cy="222.28" r="0.75" fill="#fff" stroke="#909090" stroke-width="0.42"/>
<circle cx="504.60" cy="225.66" r="0.75" fill="#fff" stroke="#909090" stroke-width="0.42"/>
<circle cx="505.37" cy="220.78" r="0.75" fill="#fff" stroke="#909090" stroke-width="0.42"/>
<circle cx="504.60" cy="214.54" r="0.75" fill="#fff" stroke="#909090" stroke-width="0.42"/>
<circle cx="502.65" cy="223.11" r="0.75" fill="#fff" stroke="#909090" stroke-width="0.42"/>
<circle cx="503.30" cy="217.42" r="0.75" fill="#fff" stroke="#909090" stroke-width="0.42"/>
<circle cx="503.30" cy="229.82" r="0.75" fill="#fff" stroke="#909090" stroke-width="0.42"/>
<circle cx="503.30" cy="228.40" r="0.75" fill="#fff" stroke="#909090" stroke-width="0.42"/>
<circle cx="505.04" cy="220.87" r="0.75" fill="#fff" stroke="#909090" stroke-width="0.42"/>
<circle cx="503.44" cy="220.46" r="0.75" fill="#fff" stroke="#909090" stroke-width="0.42"/>
<circle cx="503.79" cy="220.60" r="0.75" fill="#fff" stroke="#909090" stroke-width="0.42"/>
<circle cx="500.70" cy="221.26" r="0.75" fill="#fff" stroke="#909090" stroke-width="0.42"/>
<circle cx="502.00" cy="218.39" r="0.75" fill="#fff" stroke="#909090" stroke-width="0.42"/>
<circle cx="502.65" cy="226.22" r="0.75" fill="#fff" stroke="#909090" stroke-width="0.42"/>
<circle cx="505.90" cy="219.94" r="0.75" fill="#fff" stroke="#909090" stroke-width="0.42"/>
<circle cx="500.70" cy="225.16" r="0.75" fill="#fff" stroke="#909090" stroke-width="0.42"/>
<circle cx="503.30" cy="215.77" r="0.75" fill="#fff" stroke="#909090" stroke-width="0.42"/>
<circle cx="502.00" cy="214.61" r="0.75" fill="#fff" stroke="#909090" stroke-width="0.42"/>
<circle cx="503.95" cy="222.06" r="0.75" fill="#fff" stroke="#909090" stroke-width="0.42"/>
<circle cx="502.00" cy="224.26" r="0.75" fill="#fff" stroke="#909090" stroke-width="0.42"/>
<circle cx="501.21" cy="225.23" r="0.75" fill="#fff" stroke="#909090" stroke-width="0.42"/>
<circle cx="504.60" cy="210.86" r="0.75" fill="#fff" stroke="#909090" stroke-width="0.42"/>
<circle cx="503.30" cy="225.04" r="0.75" fill="#fff" stroke="#909090" stroke-width="0.42"/>
<circle cx="502.65" cy="213.04" r="0.75" fill="#fff" stroke="#909090" stroke-width="0.42"/>
<circle cx="505.25" cy="224.20" r="0.75" fill="#fff" stroke="#909090" stroke-width="0.42"/>
<circle cx="504.60" cy="216.05" r="0.75" fill="#fff" stroke="#909090" stroke-width="0.42"/>
<circle cx="504.60" cy="219.41" r="0.75" fill="#fff" stroke="#909090" stroke-width="0.42"/>
<circle cx="503.30" cy="199.28" r="0.75" fill="#fff" stroke="#909090" stroke-width="0.42"/>
<circle cx="503.30" cy="201.30" r="0.75" fill="#fff" stroke="#909090" stroke-width="0.42"/>
<circle cx="503.30" cy="203.03" r="0.75" fill="#fff" stroke="#909090" stroke-width="0.42"/>
<circle cx="510.98" cy="218.53" r="0.75" fill="#3563aa" stroke="#28498a" stroke-width="0.3"/>
<circle cx="510.98" cy="230.52" r="0.75" fill="#3563aa" stroke="#28498a" stroke-width="0.3"/>
<circle cx="511.49" cy="217.31" r="0.75" fill="#3563aa" stroke="#28498a" stroke-width="0.3"/>
<circle cx="509.69" cy="218.25" r="0.75" fill="#3563aa" stroke="#28498a" stroke-width="0.3"/>
<circle cx="513.69" cy="218.25" r="0.75" fill="#3563aa" stroke="#28498a" stroke-width="0.3"/>
<circle cx="511.60" cy="211.95" r="0.75" fill="#3563aa" stroke="#28498a" stroke-width="0.3"/>
<circle cx="510.98" cy="216.41" r="0.75" fill="#3563aa" stroke="#28498a" stroke-width="0.3"/>
<circle cx="512.85" cy="223.16" r="0.75" fill="#3563aa" stroke="#28498a" stroke-width="0.3"/>
<circle cx="513.48" cy="217.29" r="0.75" fill="#3563aa" stroke="#28498a" stroke-width="0.3"/>
<circle cx="511.60" cy="210.28" r="0.75" fill="#3563aa" stroke="#28498a" stroke-width="0.3"/>
<circle cx="511.60" cy="232.27" r="0.75" fill="#3563aa" stroke="#28498a" stroke-width="0.3"/>
<circle cx="512.85" cy="214.13" r="0.75" fill="#3563aa" stroke="#28498a" stroke-width="0.3"/>
<circle cx="511.60" cy="204.10" r="0.75" fill="#3563aa" stroke="#28498a" stroke-width="0.3"/>
<circle cx="512.23" cy="220.48" r="0.75" fill="#3563aa" stroke="#28498a" stroke-width="0.3"/>
<circle cx="511.60" cy="222.11" r="0.75" fill="#3563aa" stroke="#28498a" stroke-width="0.3"/>
<circle cx="512.85" cy="228.31" r="0.75" fill="#3563aa" stroke="#28498a" stroke-width="0.3"/>
<circle cx="512.85" cy="208.68" r="0.75" fill="#3563aa" stroke="#28498a" stroke-width="0.3"/>
<circle cx="513.48" cy="215.67" r="0.75" fill="#3563aa" stroke="#28498a" stroke-width="0.3"/>
<circle cx="512.85" cy="226.59" r="0.75" fill="#3563aa" stroke="#28498a" stroke-width="0.3"/>
<circle cx="510.88" cy="215.76" r="0.75" fill="#3563aa" stroke="#28498a" stroke-width="0.3"/>
<circle cx="512.85" cy="232.44" r="0.75" fill="#3563aa" stroke="#28498a" stroke-width="0.3"/>
<circle cx="511.60" cy="233.58" r="0.75" fill="#3563aa" stroke="#28498a" stroke-width="0.3"/>
<circle cx="511.60" cy="234.93" r="0.75" fill="#3563aa" stroke="#28498a" stroke-width="0.3"/>
<circle cx="511.60" cy="225.71" r="0.75" fill="#3563aa" stroke="#28498a" stroke-width="0.3"/>
<circle cx="509.10" cy="217.52" r="0.75" fill="#3563aa" stroke="#28498a" stroke-width="0.3"/>
<circle cx="513.48" cy="221.02" r="0.75" fill="#3563aa" stroke="#28498a" stroke-width="0.3"/>
<circle cx="511.60" cy="229.25" r="0.75" fill="#3563aa" stroke="#28498a" stroke-width="0.3"/>
<circle cx="510.35" cy="208.87" r="0.75" fill="#3563aa" stroke="#28498a" stroke-width="0.3"/>
<circle cx="509.17" cy="218.38" r="0.75" fill="#3563aa" stroke="#28498a" stroke-width="0.3"/>
<circle cx="510.31" cy="217.05" r="0.75" fill="#3563aa" stroke="#28498a" stroke-width="0.3"/>
<circle cx="510.35" cy="212.51" r="0.75" fill="#3563aa" stroke="#28498a" stroke-width="0.3"/>
<circle cx="512.85" cy="212.49" r="0.75" fill="#3563aa" stroke="#28498a" stroke-width="0.3"/>
<circle cx="511.60" cy="223.91" r="0.75" fill="#3563aa" stroke="#28498a" stroke-width="0.3"/>
<circle cx="510.35" cy="229.40" r="0.75" fill="#3563aa" stroke="#28498a" stroke-width="0.3"/>
<circle cx="510.12" cy="219.28" r="0.75" fill="#3563aa" stroke="#28498a" stroke-width="0.3"/>
<circle cx="512.42" cy="218.28" r="0.75" fill="#3563aa" stroke="#28498a" stroke-width="0.3"/>
<circle cx="509.73" cy="214.82" r="0.75" fill="#3563aa" stroke="#28498a" stroke-width="0.3"/>
<circle cx="511.60" cy="227.64" r="0.75" fill="#3563aa" stroke="#28498a" stroke-width="0.3"/>
<circle cx="514.36" cy="216.35" r="0.75" fill="#3563aa" stroke="#28498a" stroke-width="0.3"/>
<circle cx="511.60" cy="207.90" r="0.75" fill="#3563aa" stroke="#28498a" stroke-width="0.3"/>
<circle cx="509.73" cy="221.14" r="0.75" fill="#3563aa" stroke="#28498a" stroke-width="0.3"/>
<circle cx="512.23" cy="216.80" r="0.75" fill="#3563aa" stroke="#28498a" stroke-width="0.3"/>
<circle cx="510.98" cy="220.93" r="0.75" fill="#3563aa" stroke="#28498a" stroke-width="0.3"/>
<circle cx="514.39" cy="218.58" r="0.75" fill="#3563aa" stroke="#28498a" stroke-width="0.3"/>
<circle cx="512.23" cy="230.38" r="0.75" fill="#3563aa" stroke="#28498a" stroke-width="0.3"/>
<circle cx="511.60" cy="213.64" r="0.75" fill="#3563aa" stroke="#28498a" stroke-width="0.3"/>
<circle cx="512.23" cy="215.27" r="0.75" fill="#3563aa" stroke="#28498a" stroke-width="0.3"/>
<circle cx="509.73" cy="216.24" r="0.75" fill="#3563aa" stroke="#28498a" stroke-width="0.3"/>
<circle cx="511.72" cy="219.26" r="0.75" fill="#3563aa" stroke="#28498a" stroke-width="0.3"/>
<circle cx="510.98" cy="214.76" r="0.75" fill="#3563aa" stroke="#28498a" stroke-width="0.3"/>
<circle cx="511.60" cy="187.14" r="0.75" fill="#3563aa" stroke="#28498a" stroke-width="0.3"/>
<circle cx="511.60" cy="194.94" r="0.75" fill="#3563aa" stroke="#28498a" stroke-width="0.3"/>
<circle cx="511.60" cy="198.41" r="0.75" fill="#3563aa" stroke="#28498a" stroke-width="0.3"/>
<circle cx="511.60" cy="239.74" r="0.75" fill="#3563aa" stroke="#28498a" stroke-width="0.3"/>
<line x1="500.40" y1="220.08" x2="506.20" y2="220.08" stroke="#000" stroke-width="1.3"/>
<line x1="508.70" y1="220.37" x2="514.50" y2="220.37" stroke="#000" stroke-width="1.3"/>
<line x1="530.00" y1="264.30" x2="530.00" y2="266.90" stroke="#222" stroke-width="0.72"/>
<text x="532.20" y="273.70" font-size="6.5" font-weight="700" stroke="#111" stroke-width="0.2" text-anchor="end" transform="rotate(-45 532.20 273.70)">DHT</text>
<circle cx="524.40" cy="232.42" r="0.75" fill="#fff" stroke="#909090" stroke-width="0.42"/>
<circle cx="525.91" cy="242.42" r="0.75" fill="#fff" stroke="#909090" stroke-width="0.42"/>
<circle cx="523.75" cy="241.49" r="0.75" fill="#fff" stroke="#909090" stroke-width="0.42"/>
<circle cx="525.15" cy="236.31" r="0.75" fill="#fff" stroke="#909090" stroke-width="0.42"/>
<circle cx="523.10" cy="235.50" r="0.75" fill="#fff" stroke="#909090" stroke-width="0.42"/>
<circle cx="527.34" cy="235.59" r="0.75" fill="#fff" stroke="#909090" stroke-width="0.42"/>
<circle cx="526.57" cy="234.84" r="0.75" fill="#fff" stroke="#909090" stroke-width="0.42"/>
<circle cx="525.90" cy="238.93" r="0.75" fill="#fff" stroke="#909090" stroke-width="0.42"/>
<circle cx="523.15" cy="236.51" r="0.75" fill="#fff" stroke="#909090" stroke-width="0.42"/>
<circle cx="527.00" cy="234.57" r="0.75" fill="#fff" stroke="#909090" stroke-width="0.42"/>
<circle cx="523.10" cy="237.87" r="0.75" fill="#fff" stroke="#909090" stroke-width="0.42"/>
<circle cx="525.70" cy="232.12" r="0.75" fill="#fff" stroke="#909090" stroke-width="0.42"/>
<circle cx="525.48" cy="235.61" r="0.75" fill="#fff" stroke="#909090" stroke-width="0.42"/>
<circle cx="524.40" cy="233.84" r="0.75" fill="#fff" stroke="#909090" stroke-width="0.42"/>
<circle cx="528.30" cy="233.89" r="0.75" fill="#fff" stroke="#909090" stroke-width="0.42"/>
<circle cx="526.24" cy="235.64" r="0.75" fill="#fff" stroke="#909090" stroke-width="0.42"/>
<circle cx="525.70" cy="233.83" r="0.75" fill="#fff" stroke="#909090" stroke-width="0.42"/>
<circle cx="527.65" cy="241.31" r="0.75" fill="#fff" stroke="#909090" stroke-width="0.42"/>
<circle cx="525.05" cy="242.12" r="0.75" fill="#fff" stroke="#909090" stroke-width="0.42"/>
<circle cx="523.10" cy="239.37" r="0.75" fill="#fff" stroke="#909090" stroke-width="0.42"/>
<circle cx="527.00" cy="232.37" r="0.75" fill="#fff" stroke="#909090" stroke-width="0.42"/>
<circle cx="523.60" cy="239.39" r="0.75" fill="#fff" stroke="#909090" stroke-width="0.42"/>
<circle cx="525.70" cy="229.08" r="0.75" fill="#fff" stroke="#909090" stroke-width="0.42"/>
<circle cx="525.57" cy="236.78" r="0.75" fill="#fff" stroke="#909090" stroke-width="0.42"/>
<circle cx="523.23" cy="236.25" r="0.75" fill="#fff" stroke="#909090" stroke-width="0.42"/>
<circle cx="525.56" cy="236.10" r="0.75" fill="#fff" stroke="#909090" stroke-width="0.42"/>
<circle cx="525.70" cy="238.36" r="0.75" fill="#fff" stroke="#909090" stroke-width="0.42"/>
<circle cx="526.79" cy="235.32" r="0.75" fill="#fff" stroke="#909090" stroke-width="0.42"/>
<circle cx="526.51" cy="235.78" r="0.75" fill="#fff" stroke="#909090" stroke-width="0.42"/>
<circle cx="527.21" cy="233.05" r="0.75" fill="#fff" stroke="#909090" stroke-width="0.42"/>
<circle cx="525.05" cy="240.58" r="0.75" fill="#fff" stroke="#909090" stroke-width="0.42"/>
<circle cx="524.40" cy="238.76" r="0.75" fill="#fff" stroke="#909090" stroke-width="0.42"/>
<circle cx="528.30" cy="232.53" r="0.75" fill="#fff" stroke="#909090" stroke-width="0.42"/>
<circle cx="527.37" cy="236.36" r="0.75" fill="#fff" stroke="#909090" stroke-width="0.42"/>
<circle cx="528.30" cy="237.30" r="0.75" fill="#fff" stroke="#909090" stroke-width="0.42"/>
<circle cx="524.40" cy="237.47" r="0.75" fill="#fff" stroke="#909090" stroke-width="0.42"/>
<circle cx="526.35" cy="241.22" r="0.75" fill="#fff" stroke="#909090" stroke-width="0.42"/>
<circle cx="524.58" cy="234.85" r="0.75" fill="#fff" stroke="#909090" stroke-width="0.42"/>
<circle cx="527.04" cy="236.41" r="0.75" fill="#fff" stroke="#909090" stroke-width="0.42"/>
<circle cx="527.00" cy="239.69" r="0.75" fill="#fff" stroke="#909090" stroke-width="0.42"/>
<circle cx="527.00" cy="237.79" r="0.75" fill="#fff" stroke="#909090" stroke-width="0.42"/>
<circle cx="523.10" cy="234.10" r="0.75" fill="#fff" stroke="#909090" stroke-width="0.42"/>
<circle cx="528.30" cy="238.69" r="0.75" fill="#fff" stroke="#909090" stroke-width="0.42"/>
<circle cx="526.58" cy="239.84" r="0.75" fill="#fff" stroke="#909090" stroke-width="0.42"/>
<circle cx="526.88" cy="242.28" r="0.75" fill="#fff" stroke="#909090" stroke-width="0.42"/>
<circle cx="526.23" cy="238.41" r="0.75" fill="#fff" stroke="#909090" stroke-width="0.42"/>
<circle cx="523.10" cy="232.58" r="0.75" fill="#fff" stroke="#909090" stroke-width="0.42"/>
<circle cx="528.30" cy="235.26" r="0.75" fill="#fff" stroke="#909090" stroke-width="0.42"/>
<circle cx="525.70" cy="218.06" r="0.75" fill="#fff" stroke="#909090" stroke-width="0.42"/>
<circle cx="525.70" cy="223.84" r="0.75" fill="#fff" stroke="#909090" stroke-width="0.42"/>
<circle cx="525.70" cy="226.15" r="0.75" fill="#fff" stroke="#909090" stroke-width="0.42"/>
<circle cx="525.70" cy="246.38" r="0.75" fill="#fff" stroke="#909090" stroke-width="0.42"/>
<circle cx="535.64" cy="236.06" r="0.75" fill="#3563aa" stroke="#28498a" stroke-width="0.3"/>
<circle cx="531.07" cy="231.94" r="0.75" fill="#3563aa" stroke="#28498a" stroke-width="0.3"/>
<circle cx="533.24" cy="235.97" r="0.75" fill="#3563aa" stroke="#28498a" stroke-width="0.3"/>
<circle cx="533.86" cy="238.61" r="0.75" fill="#3563aa" stroke="#28498a" stroke-width="0.3"/>
<circle cx="534.00" cy="234.52" r="0.75" fill="#3563aa" stroke="#28498a" stroke-width="0.3"/>
<circle cx="531.48" cy="233.93" r="0.75" fill="#3563aa" stroke="#28498a" stroke-width="0.3"/>
<circle cx="534.00" cy="240.17" r="0.75" fill="#3563aa" stroke="#28498a" stroke-width="0.3"/>
<circle cx="536.24" cy="235.43" r="0.75" fill="#3563aa" stroke="#28498a" stroke-width="0.3"/>
<circle cx="534.00" cy="237.29" r="0.75" fill="#3563aa" stroke="#28498a" stroke-width="0.3"/>
<circle cx="535.25" cy="229.92" r="0.75" fill="#3563aa" stroke="#28498a" stroke-width="0.3"/>
<circle cx="535.25" cy="240.52" r="0.75" fill="#3563aa" stroke="#28498a" stroke-width="0.3"/>
<circle cx="535.18" cy="236.62" r="0.75" fill="#3563aa" stroke="#28498a" stroke-width="0.3"/>
<circle cx="531.50" cy="238.00" r="0.75" fill="#3563aa" stroke="#28498a" stroke-width="0.3"/>
<circle cx="533.65" cy="235.67" r="0.75" fill="#3563aa" stroke="#28498a" stroke-width="0.3"/>
<circle cx="531.50" cy="230.97" r="0.75" fill="#3563aa" stroke="#28498a" stroke-width="0.3"/>
<circle cx="534.00" cy="226.20" r="0.75" fill="#3563aa" stroke="#28498a" stroke-width="0.3"/>
<circle cx="533.38" cy="231.41" r="0.75" fill="#3563aa" stroke="#28498a" stroke-width="0.3"/>
<circle cx="534.00" cy="243.78" r="0.75" fill="#3563aa" stroke="#28498a" stroke-width="0.3"/>
<circle cx="534.00" cy="229.92" r="0.75" fill="#3563aa" stroke="#28498a" stroke-width="0.3"/>
<circle cx="535.25" cy="233.01" r="0.75" fill="#3563aa" stroke="#28498a" stroke-width="0.3"/>
<circle cx="532.75" cy="230.06" r="0.75" fill="#3563aa" stroke="#28498a" stroke-width="0.3"/>
<circle cx="536.50" cy="233.64" r="0.75" fill="#3563aa" stroke="#28498a" stroke-width="0.3"/>
<circle cx="532.75" cy="240.95" r="0.75" fill="#3563aa" stroke="#28498a" stroke-width="0.3"/>
<circle cx="531.97" cy="236.10" r="0.75" fill="#3563aa" stroke="#28498a" stroke-width="0.3"/>
<circle cx="531.04" cy="235.03" r="0.75" fill="#3563aa" stroke="#28498a" stroke-width="0.3"/>
<circle cx="532.95" cy="239.10" r="0.75" fill="#3563aa" stroke="#28498a" stroke-width="0.3"/>
<circle cx="535.21" cy="233.81" r="0.75" fill="#3563aa" stroke="#28498a" stroke-width="0.3"/>
<circle cx="532.12" cy="239.09" r="0.75" fill="#3563aa" stroke="#28498a" stroke-width="0.3"/>
<circle cx="534.62" cy="238.43" r="0.75" fill="#3563aa" stroke="#28498a" stroke-width="0.3"/>
<circle cx="532.02" cy="234.92" r="0.75" fill="#3563aa" stroke="#28498a" stroke-width="0.3"/>
<circle cx="535.19" cy="234.53" r="0.75" fill="#3563aa" stroke="#28498a" stroke-width="0.3"/>
<circle cx="534.07" cy="235.53" r="0.75" fill="#3563aa" stroke="#28498a" stroke-width="0.3"/>
<circle cx="535.59" cy="234.91" r="0.75" fill="#3563aa" stroke="#28498a" stroke-width="0.3"/>
<circle cx="535.88" cy="231.50" r="0.75" fill="#3563aa" stroke="#28498a" stroke-width="0.3"/>
<circle cx="534.47" cy="231.79" r="0.75" fill="#3563aa" stroke="#28498a" stroke-width="0.3"/>
<circle cx="532.71" cy="233.71" r="0.75" fill="#3563aa" stroke="#28498a" stroke-width="0.3"/>
<circle cx="536.50" cy="230.10" r="0.75" fill="#3563aa" stroke="#28498a" stroke-width="0.3"/>
<circle cx="535.88" cy="237.77" r="0.75" fill="#3563aa" stroke="#28498a" stroke-width="0.3"/>
<circle cx="532.12" cy="233.19" r="0.75" fill="#3563aa" stroke="#28498a" stroke-width="0.3"/>
<circle cx="533.38" cy="232.85" r="0.75" fill="#3563aa" stroke="#28498a" stroke-width="0.3"/>
<circle cx="535.61" cy="235.90" r="0.75" fill="#3563aa" stroke="#28498a" stroke-width="0.3"/>
<circle cx="536.64" cy="231.74" r="0.75" fill="#3563aa" stroke="#28498a" stroke-width="0.3"/>
<circle cx="536.29" cy="238.73" r="0.75" fill="#3563aa" stroke="#28498a" stroke-width="0.3"/>
<circle cx="536.88" cy="236.57" r="0.75" fill="#3563aa" stroke="#28498a" stroke-width="0.3"/>
<circle cx="532.75" cy="237.33" r="0.75" fill="#3563aa" stroke="#28498a" stroke-width="0.3"/>
<circle cx="534.11" cy="235.67" r="0.75" fill="#3563aa" stroke="#28498a" stroke-width="0.3"/>
<circle cx="535.25" cy="243.89" r="0.75" fill="#3563aa" stroke="#28498a" stroke-width="0.3"/>
<circle cx="536.79" cy="233.93" r="0.75" fill="#3563aa" stroke="#28498a" stroke-width="0.3"/>
<circle cx="534.62" cy="231.06" r="0.75" fill="#3563aa" stroke="#28498a" stroke-width="0.3"/>
<circle cx="532.91" cy="238.02" r="0.75" fill="#3563aa" stroke="#28498a" stroke-width="0.3"/>
<circle cx="534.00" cy="222.40" r="0.75" fill="#3563aa" stroke="#28498a" stroke-width="0.3"/>
<circle cx="534.00" cy="223.84" r="0.75" fill="#3563aa" stroke="#28498a" stroke-width="0.3"/>
<circle cx="534.00" cy="249.27" r="0.75" fill="#3563aa" stroke="#28498a" stroke-width="0.3"/>
<circle cx="534.00" cy="247.54" r="0.75" fill="#3563aa" stroke="#28498a" stroke-width="0.3"/>
<line x1="522.80" y1="235.98" x2="528.60" y2="235.98" stroke="#000" stroke-width="1.3"/>
<line x1="531.10" y1="235.40" x2="536.90" y2="235.40" stroke="#000" stroke-width="1.3"/>
<rect x="519.0" y="179.2" width="26.5" height="14.3" fill="#fff" stroke="#444" stroke-width="0.7"/>
<circle cx="522.20" cy="182.80" r="0.7" fill="#fff" stroke="#999" stroke-width="0.4"/>
<text x="532.00" y="184.40" font-size="4.4" fill="#222">PPAT</text>
<circle cx="522.20" cy="189.80" r="0.7" fill="#3c68ad" stroke="#2c4f8a" stroke-width="0.3"/>
<text x="532.20" y="191.40" font-size="4.4" fill="#222">SAT</text>
</svg>
</body></html>
